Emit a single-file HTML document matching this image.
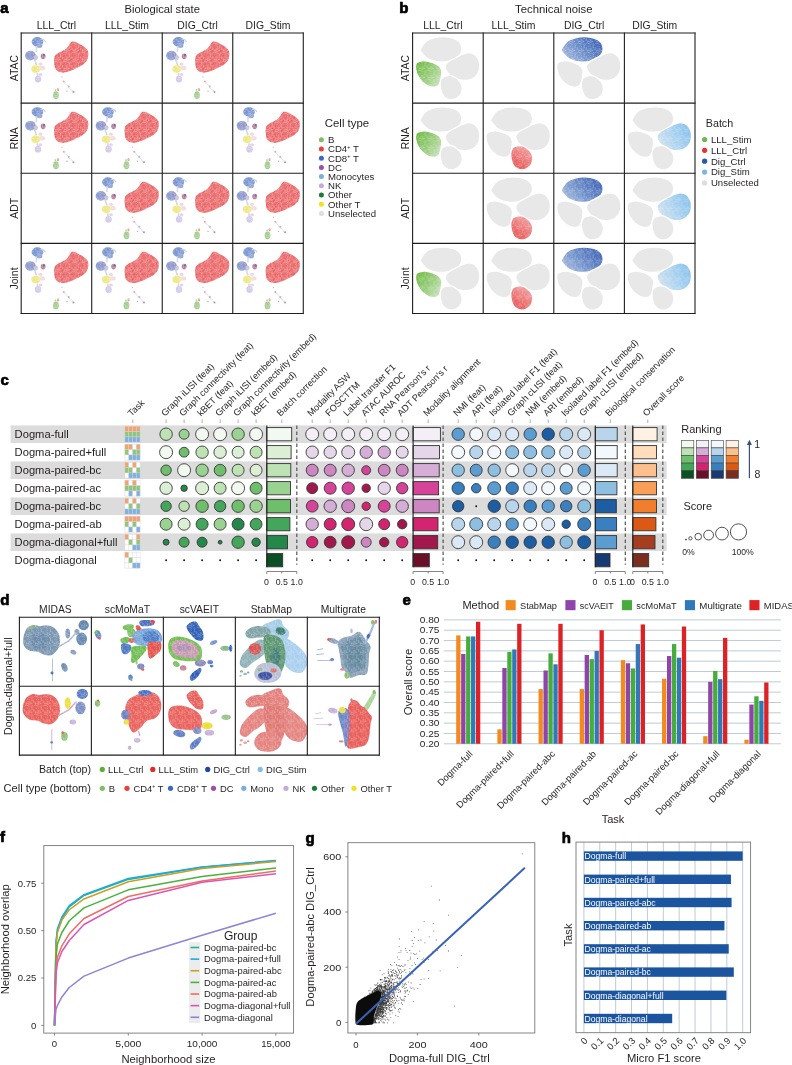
<!DOCTYPE html>
<html><head><meta charset="utf-8"><title>Figure</title>
<style>
html,body{margin:0;padding:0;background:#fff;}
body{width:792px;height:1065px;overflow:hidden;}
svg{display:block;font-family:"Liberation Sans", Arial, sans-serif;}
</style></head>
<body>
<svg width="792" height="1065" viewBox="0 0 792 1065" fill="#231f20">
<defs>
<pattern id="speck" width="9" height="9" patternUnits="userSpaceOnUse"><g fill="#fff" fill-opacity="0.7"><rect x="5.61" y="6.68" width="0.55" height="0.55"/><rect x="7.16" y="8.48" width="0.55" height="0.55"/><rect x="6.66" y="8.30" width="0.55" height="0.55"/><rect x="0.26" y="4.19" width="0.55" height="0.55"/><rect x="8.49" y="5.84" width="0.55" height="0.55"/><rect x="8.11" y="1.02" width="0.55" height="0.55"/><rect x="4.22" y="2.22" width="0.55" height="0.55"/><rect x="4.89" y="5.17" width="0.55" height="0.55"/><rect x="0.12" y="1.95" width="0.55" height="0.55"/><rect x="2.52" y="8.25" width="0.55" height="0.55"/><rect x="6.89" y="1.44" width="0.55" height="0.55"/><rect x="7.17" y="1.25" width="0.55" height="0.55"/><rect x="5.56" y="1.14" width="0.55" height="0.55"/><rect x="0.02" y="7.84" width="0.55" height="0.55"/><rect x="1.89" y="1.94" width="0.55" height="0.55"/><rect x="8.84" y="7.85" width="0.55" height="0.55"/><rect x="2.60" y="8.65" width="0.55" height="0.55"/><rect x="4.85" y="6.10" width="0.55" height="0.55"/><rect x="1.84" y="8.47" width="0.55" height="0.55"/><rect x="6.22" y="8.70" width="0.55" height="0.55"/><rect x="8.04" y="2.69" width="0.55" height="0.55"/><rect x="3.25" y="1.49" width="0.55" height="0.55"/><rect x="1.31" y="0.59" width="0.55" height="0.55"/><rect x="2.71" y="5.43" width="0.55" height="0.55"/><rect x="0.03" y="6.10" width="0.55" height="0.55"/><rect x="3.04" y="2.79" width="0.55" height="0.55"/><rect x="7.37" y="4.33" width="0.55" height="0.55"/><rect x="2.84" y="4.33" width="0.55" height="0.55"/><rect x="6.34" y="0.51" width="0.55" height="0.55"/><rect x="8.78" y="0.21" width="0.55" height="0.55"/><rect x="6.75" y="7.60" width="0.55" height="0.55"/><rect x="0.16" y="7.09" width="0.55" height="0.55"/><rect x="3.30" y="5.21" width="0.55" height="0.55"/><rect x="0.08" y="0.42" width="0.55" height="0.55"/><rect x="1.63" y="8.60" width="0.55" height="0.55"/><rect x="1.77" y="6.80" width="0.55" height="0.55"/><rect x="8.37" y="8.48" width="0.55" height="0.55"/><rect x="3.10" y="3.19" width="0.55" height="0.55"/><rect x="4.72" y="6.98" width="0.55" height="0.55"/><rect x="0.97" y="6.74" width="0.55" height="0.55"/></g></pattern>
<linearGradient id="gL" x1="0" y1="0.2" x2="1" y2="0.9"><stop offset="0" stop-color="#6fbb44"/><stop offset="0.5" stop-color="#98cc7a"/><stop offset="1" stop-color="#cfe5c4"/></linearGradient>
<linearGradient id="gT" x1="1" y1="0.2" x2="0" y2="0.8"><stop offset="0" stop-color="#3a5fb4"/><stop offset="0.5" stop-color="#6a8cc8"/><stop offset="1" stop-color="#a9bde0"/></linearGradient>
<linearGradient id="gR" x1="1" y1="0.3" x2="0" y2="0.7"><stop offset="0" stop-color="#86c0ec"/><stop offset="0.5" stop-color="#aad2f0"/><stop offset="1" stop-color="#d2e2ee"/></linearGradient>
<linearGradient id="gB" x1="0.2" y1="1" x2="0.8" y2="0"><stop offset="0" stop-color="#e64848"/><stop offset="0.5" stop-color="#ec7a7a"/><stop offset="1" stop-color="#f0a4a4"/></linearGradient>
<pattern id="reddots" width="8" height="8" patternUnits="userSpaceOnUse"><g fill="#e23c44" fill-opacity="0.8"><rect x="3.70" y="2.99" width="0.8" height="0.8"/><rect x="1.11" y="6.93" width="0.8" height="0.8"/><rect x="0.05" y="4.02" width="0.8" height="0.8"/><rect x="7.19" y="0.65" width="0.8" height="0.8"/><rect x="4.43" y="4.93" width="0.8" height="0.8"/><rect x="0.33" y="3.03" width="0.8" height="0.8"/><rect x="5.63" y="3.62" width="0.8" height="0.8"/><rect x="5.80" y="1.26" width="0.8" height="0.8"/><rect x="1.90" y="0.89" width="0.8" height="0.8"/><rect x="4.05" y="7.39" width="0.8" height="0.8"/><rect x="4.72" y="6.19" width="0.8" height="0.8"/><rect x="3.07" y="5.97" width="0.8" height="0.8"/><rect x="0.81" y="2.33" width="0.8" height="0.8"/><rect x="5.39" y="5.81" width="0.8" height="0.8"/><rect x="3.37" y="0.70" width="0.8" height="0.8"/><rect x="2.13" y="1.68" width="0.8" height="0.8"/><rect x="2.25" y="6.48" width="0.8" height="0.8"/><rect x="1.60" y="7.09" width="0.8" height="0.8"/><rect x="7.03" y="0.44" width="0.8" height="0.8"/><rect x="3.03" y="3.93" width="0.8" height="0.8"/><rect x="0.19" y="3.40" width="0.8" height="0.8"/><rect x="7.25" y="0.90" width="0.8" height="0.8"/></g></pattern>
<pattern id="speck2" width="9" height="9" patternUnits="userSpaceOnUse"><g fill="#fff" fill-opacity="0.6"><rect x="7.18" y="7.74" width="0.7" height="0.7"/><rect x="0.33" y="8.51" width="0.7" height="0.7"/><rect x="0.82" y="3.07" width="0.7" height="0.7"/><rect x="5.50" y="8.26" width="0.7" height="0.7"/><rect x="3.06" y="8.32" width="0.7" height="0.7"/><rect x="4.91" y="2.81" width="0.7" height="0.7"/><rect x="2.85" y="1.60" width="0.7" height="0.7"/><rect x="0.70" y="1.34" width="0.7" height="0.7"/><rect x="6.20" y="8.97" width="0.7" height="0.7"/><rect x="1.45" y="0.44" width="0.7" height="0.7"/><rect x="8.88" y="4.80" width="0.7" height="0.7"/><rect x="3.65" y="2.14" width="0.7" height="0.7"/></g></pattern>
<symbol id="umapA" viewBox="0 0 70 70" width="70" height="70">
<path d="M47.00,9.00 C47.67,8.42 50.50,7.42 52.00,7.50 C53.50,7.58 56.00,8.92 56.00,9.50 C56.00,10.08 53.33,10.75 52.00,11.00 C50.67,11.25 48.83,11.33 48.00,11.00 C47.17,10.67 46.33,9.58 47.00,9.00 Z" fill="#f2f2f2"/>
<path d="M33.00,24.00 C33.53,22.42 34.67,21.50 36.00,20.50 C37.33,19.50 39.42,18.92 41.00,18.00 C42.58,17.08 44.17,16.33 45.50,15.00 C46.83,13.67 47.92,11.08 49.00,10.00 C50.08,8.92 50.83,8.50 52.00,8.50 C53.17,8.50 54.50,9.28 56.00,10.00 C57.50,10.72 59.42,11.72 61.00,12.80 C62.58,13.88 64.53,15.13 65.50,16.50 C66.47,17.87 66.80,19.25 66.80,21.00 C66.80,22.75 66.38,25.25 65.50,27.00 C64.62,28.75 63.25,30.17 61.50,31.50 C59.75,32.83 57.17,33.92 55.00,35.00 C52.83,36.08 50.67,37.25 48.50,38.00 C46.33,38.75 43.92,39.42 42.00,39.50 C40.08,39.58 38.37,39.17 37.00,38.50 C35.63,37.83 34.50,36.92 33.80,35.50 C33.10,34.08 32.93,31.92 32.80,30.00 C32.67,28.08 32.47,25.58 33.00,24.00 Z" fill="#ed7878"/>
<path d="M33.00,24.00 C33.53,22.42 34.67,21.50 36.00,20.50 C37.33,19.50 39.42,18.92 41.00,18.00 C42.58,17.08 44.17,16.33 45.50,15.00 C46.83,13.67 47.92,11.08 49.00,10.00 C50.08,8.92 50.83,8.50 52.00,8.50 C53.17,8.50 54.50,9.28 56.00,10.00 C57.50,10.72 59.42,11.72 61.00,12.80 C62.58,13.88 64.53,15.13 65.50,16.50 C66.47,17.87 66.80,19.25 66.80,21.00 C66.80,22.75 66.38,25.25 65.50,27.00 C64.62,28.75 63.25,30.17 61.50,31.50 C59.75,32.83 57.17,33.92 55.00,35.00 C52.83,36.08 50.67,37.25 48.50,38.00 C46.33,38.75 43.92,39.42 42.00,39.50 C40.08,39.58 38.37,39.17 37.00,38.50 C35.63,37.83 34.50,36.92 33.80,35.50 C33.10,34.08 32.93,31.92 32.80,30.00 C32.67,28.08 32.47,25.58 33.00,24.00 Z" fill="url(#reddots)"/>
<ellipse cx="16" cy="8.8" rx="5.8" ry="4.8" fill="#7a96d2"/>
<ellipse cx="18" cy="12.5" rx="3" ry="2.5" fill="#95a8d6"/>
<path d="M19,6 Q23,6 24,9" stroke="#c2cce6" stroke-width="1.2" fill="none"/>
<path d="M15,13 L15,19 M13,26 L15,32 M16,40 L16,43" stroke="#d2d6e6" stroke-width="1.6" fill="none"/>
<ellipse cx="9" cy="22.6" rx="5.3" ry="4.8" fill="#8c9dd2"/>
<ellipse cx="11.5" cy="22" rx="2.5" ry="2" fill="#a090c0"/>
<ellipse cx="14.5" cy="24.5" rx="2" ry="2.5" fill="#c0c6e0"/>
<ellipse cx="21.7" cy="23.2" rx="2.4" ry="2.8" fill="#c07e94"/>
<ellipse cx="22.5" cy="22" rx="1.1" ry="1.1" fill="#5572c0"/>
<ellipse cx="14.3" cy="36" rx="4.4" ry="3.7" fill="#efe880"/>
<ellipse cx="20.5" cy="35" rx="3.2" ry="2.2" fill="#f3dcda"/>
<ellipse cx="19" cy="31" rx="2" ry="1.6" fill="#ecd8de"/>
<ellipse cx="16.6" cy="46" rx="3.2" ry="3.4" fill="#d4c8e8"/>
<ellipse cx="19" cy="41.5" rx="2" ry="1.5" fill="#dcd5ec"/>
<ellipse cx="34.5" cy="62" rx="2.9" ry="3.9" fill="#a2cd8e"/>
<ellipse cx="36.5" cy="56.5" rx="1.1" ry="1.6" fill="#e8a08a"/>
<ellipse cx="34" cy="57" rx="0.8" ry="1.2" fill="#c0d0b0"/>
<path d="M42,48 L44.5,51 L48,55 L52,59" stroke="#e4d0dc" stroke-width="1.3" fill="none" stroke-dasharray="1,0.8"/>
<circle cx="42.3" cy="48.5" r="1" fill="#e8a8b0"/>
<circle cx="47.3" cy="53.5" r="1" fill="#90aad2"/>
<circle cx="52" cy="59" r="1" fill="#b488bc"/>
<circle cx="45.5" cy="58" r="0.7" fill="#8cbc94"/>
<circle cx="40.5" cy="44" r="0.7" fill="#e4b8c0"/>
<rect x="0" y="0" width="70" height="70" fill="url(#speck)"/>
</symbol>
<path id="bT" d="M7.40,17.20 C7.36,16.54 10.55,10.80 13.00,8.70 C15.45,6.60 19.07,5.43 22.10,4.60 C25.13,3.77 28.17,3.62 31.20,3.70 C34.23,3.78 37.72,4.27 40.30,5.10 C42.88,5.93 45.22,7.20 46.70,8.70 C48.18,10.20 48.90,12.28 49.20,14.10 C49.50,15.92 49.22,17.93 48.50,19.60 C47.78,21.27 46.72,22.73 44.90,24.10 C43.08,25.47 40.18,26.97 37.60,27.80 C35.02,28.63 32.13,29.03 29.40,29.10 C26.67,29.17 23.78,28.87 21.20,28.20 C18.62,27.53 16.20,26.93 13.90,25.10 C11.60,23.27 7.44,17.86 7.40,17.20 Z"/>
<path id="bR" d="M32.50,33.40 C32.59,32.31 34.20,30.08 35.80,28.70 C37.40,27.32 39.83,26.32 42.10,25.10 C44.37,23.88 47.12,22.32 49.40,21.40 C51.68,20.48 53.68,19.60 55.80,19.60 C57.92,19.60 60.37,20.18 62.10,21.40 C63.83,22.62 65.37,24.93 66.20,26.90 C67.03,28.87 67.17,31.08 67.10,33.20 C67.03,35.32 66.78,37.62 65.80,39.60 C64.82,41.58 63.02,43.82 61.20,45.10 C59.38,46.38 57.17,47.00 54.90,47.30 C52.63,47.60 50.03,47.43 47.60,46.90 C45.17,46.37 42.42,45.32 40.30,44.10 C38.18,42.88 36.20,41.38 34.90,39.60 C33.60,37.82 32.41,34.49 32.50,33.40 Z"/>
<path id="bL" d="M3.50,30.50 C4.27,29.20 6.02,28.65 7.60,28.20 C9.18,27.75 10.88,27.57 13.00,27.80 C15.12,28.03 18.02,28.70 20.30,29.60 C22.58,30.50 25.22,31.83 26.70,33.20 C28.18,34.57 28.90,35.82 29.20,37.80 C29.50,39.78 28.92,42.83 28.50,45.10 C28.08,47.37 27.73,49.88 26.70,51.40 C25.67,52.92 23.57,53.99 22.30,54.20 C21.03,54.41 17.95,54.12 15.80,53.20 C13.65,52.28 11.22,50.52 9.40,48.70 C7.58,46.88 5.97,44.42 4.90,42.30 C3.83,40.18 3.23,37.97 3.00,36.00 C2.77,34.03 2.73,31.80 3.50,30.50 Z"/>
<path id="bB" d="M29.60,44.80 C30.34,44.01 32.27,43.13 33.90,42.80 C35.53,42.47 37.57,42.27 39.40,42.80 C41.23,43.33 43.32,44.57 44.90,46.00 C46.48,47.43 48.15,49.43 48.90,51.40 C49.65,53.37 49.77,55.83 49.40,57.80 C49.03,59.77 48.07,61.77 46.70,63.20 C45.33,64.63 43.17,65.93 41.20,66.40 C39.23,66.87 36.72,66.68 34.90,66.00 C33.08,65.32 31.45,63.97 30.30,62.30 C29.15,60.63 28.45,58.12 28.00,56.00 C27.55,53.88 27.33,51.47 27.60,49.60 C27.87,47.73 28.87,45.59 29.60,44.80 Z"/>
</defs>
<text x="0.30" y="13.10" font-size="15" font-weight="bold" fill="#000" stroke="#000" stroke-width="0.7">a</text>
<text x="162.20" y="13.10" font-size="10.4" text-anchor="middle" textLength="75.60" lengthAdjust="spacingAndGlyphs" >Biological state</text>
<text x="399.30" y="12.70" font-size="15" font-weight="bold" fill="#000" stroke="#000" stroke-width="0.7">b</text>
<text x="553.80" y="13.10" font-size="10.4" text-anchor="middle" textLength="77.50" lengthAdjust="spacingAndGlyphs" >Technical noise</text>
<text x="56.46" y="29.20" font-size="10.4" text-anchor="middle" >LLL_Ctrl</text>
<text x="442.90" y="29.20" font-size="10.4" text-anchor="middle" >LLL_Ctrl</text>
<text x="126.98" y="29.20" font-size="10.4" text-anchor="middle" >LLL_Stim</text>
<text x="513.50" y="29.20" font-size="10.4" text-anchor="middle" >LLL_Stim</text>
<text x="197.50" y="29.20" font-size="10.4" text-anchor="middle" >DIG_Ctrl</text>
<text x="584.10" y="29.20" font-size="10.4" text-anchor="middle" >DIG_Ctrl</text>
<text x="268.02" y="29.20" font-size="10.4" text-anchor="middle" >DIG_Stim</text>
<text x="654.70" y="29.20" font-size="10.4" text-anchor="middle" >DIG_Stim</text>
<text x="17.60" y="68.06" font-size="10.4" text-anchor="middle" transform="rotate(-90 17.60 68.06)" >ATAC</text>
<text x="409.20" y="68.06" font-size="10.4" text-anchor="middle" transform="rotate(-90 409.20 68.06)" >ATAC</text>
<text x="17.60" y="138.18" font-size="10.4" text-anchor="middle" transform="rotate(-90 17.60 138.18)" >RNA</text>
<text x="409.20" y="138.18" font-size="10.4" text-anchor="middle" transform="rotate(-90 409.20 138.18)" >RNA</text>
<text x="17.60" y="208.30" font-size="10.4" text-anchor="middle" transform="rotate(-90 17.60 208.30)" >ADT</text>
<text x="409.20" y="208.30" font-size="10.4" text-anchor="middle" transform="rotate(-90 409.20 208.30)" >ADT</text>
<text x="17.60" y="278.42" font-size="10.4" text-anchor="middle" transform="rotate(-90 17.60 278.42)" >Joint</text>
<text x="409.20" y="278.42" font-size="10.4" text-anchor="middle" transform="rotate(-90 409.20 278.42)" >Joint</text>
<use href="#umapA" x="21.20" y="33.00" width="70.52" height="70.12"/>
<use href="#umapA" x="162.24" y="33.00" width="70.52" height="70.12"/>
<use href="#umapA" x="21.20" y="103.12" width="70.52" height="70.12"/>
<use href="#umapA" x="91.72" y="103.12" width="70.52" height="70.12"/>
<use href="#umapA" x="232.76" y="103.12" width="70.52" height="70.12"/>
<use href="#umapA" x="91.72" y="173.24" width="70.52" height="70.12"/>
<use href="#umapA" x="162.24" y="173.24" width="70.52" height="70.12"/>
<use href="#umapA" x="232.76" y="173.24" width="70.52" height="70.12"/>
<use href="#umapA" x="21.20" y="243.36" width="70.52" height="70.12"/>
<use href="#umapA" x="91.72" y="243.36" width="70.52" height="70.12"/>
<use href="#umapA" x="162.24" y="243.36" width="70.52" height="70.12"/>
<use href="#umapA" x="232.76" y="243.36" width="70.52" height="70.12"/>
<g transform="translate(412.60,33.00)">
<use href="#bT" fill="#e8e8e8" stroke="#fff" stroke-width="1.3"/>
<use href="#bR" fill="#e8e8e8" stroke="#fff" stroke-width="1.3"/>
<use href="#bL" fill="url(#gL)" stroke="#fff" stroke-width="1.3"/>
<use href="#bL" fill="url(#speck)"/>
<use href="#bB" fill="#e8e8e8" stroke="#fff" stroke-width="1.3"/>
</g>
<g transform="translate(553.80,33.00)">
<use href="#bT" fill="url(#gT)" stroke="#fff" stroke-width="1.3"/>
<use href="#bT" fill="url(#speck)"/>
<use href="#bR" fill="#e8e8e8" stroke="#fff" stroke-width="1.3"/>
<use href="#bL" fill="#e8e8e8" stroke="#fff" stroke-width="1.3"/>
<use href="#bB" fill="#e8e8e8" stroke="#fff" stroke-width="1.3"/>
</g>
<g transform="translate(412.60,103.12)">
<use href="#bT" fill="#e8e8e8" stroke="#fff" stroke-width="1.3"/>
<use href="#bR" fill="#e8e8e8" stroke="#fff" stroke-width="1.3"/>
<use href="#bL" fill="url(#gL)" stroke="#fff" stroke-width="1.3"/>
<use href="#bL" fill="url(#speck)"/>
<use href="#bB" fill="#e8e8e8" stroke="#fff" stroke-width="1.3"/>
</g>
<g transform="translate(483.20,103.12)">
<use href="#bT" fill="#e8e8e8" stroke="#fff" stroke-width="1.3"/>
<use href="#bR" fill="#e8e8e8" stroke="#fff" stroke-width="1.3"/>
<use href="#bL" fill="#e8e8e8" stroke="#fff" stroke-width="1.3"/>
<use href="#bB" fill="url(#gB)" stroke="#fff" stroke-width="1.3"/>
<use href="#bB" fill="url(#speck)"/>
</g>
<g transform="translate(624.40,103.12)">
<use href="#bT" fill="#e8e8e8" stroke="#fff" stroke-width="1.3"/>
<use href="#bR" fill="url(#gR)" stroke="#fff" stroke-width="1.3"/>
<use href="#bR" fill="url(#speck)"/>
<use href="#bL" fill="#e8e8e8" stroke="#fff" stroke-width="1.3"/>
<use href="#bB" fill="#e8e8e8" stroke="#fff" stroke-width="1.3"/>
</g>
<g transform="translate(483.20,173.24)">
<use href="#bT" fill="#e8e8e8" stroke="#fff" stroke-width="1.3"/>
<use href="#bR" fill="#e8e8e8" stroke="#fff" stroke-width="1.3"/>
<use href="#bL" fill="#e8e8e8" stroke="#fff" stroke-width="1.3"/>
<use href="#bB" fill="url(#gB)" stroke="#fff" stroke-width="1.3"/>
<use href="#bB" fill="url(#speck)"/>
</g>
<g transform="translate(553.80,173.24)">
<use href="#bT" fill="url(#gT)" stroke="#fff" stroke-width="1.3"/>
<use href="#bT" fill="url(#speck)"/>
<use href="#bR" fill="#e8e8e8" stroke="#fff" stroke-width="1.3"/>
<use href="#bL" fill="#e8e8e8" stroke="#fff" stroke-width="1.3"/>
<use href="#bB" fill="#e8e8e8" stroke="#fff" stroke-width="1.3"/>
</g>
<g transform="translate(624.40,173.24)">
<use href="#bT" fill="#e8e8e8" stroke="#fff" stroke-width="1.3"/>
<use href="#bR" fill="url(#gR)" stroke="#fff" stroke-width="1.3"/>
<use href="#bR" fill="url(#speck)"/>
<use href="#bL" fill="#e8e8e8" stroke="#fff" stroke-width="1.3"/>
<use href="#bB" fill="#e8e8e8" stroke="#fff" stroke-width="1.3"/>
</g>
<g transform="translate(412.60,243.36)">
<use href="#bT" fill="#e8e8e8" stroke="#fff" stroke-width="1.3"/>
<use href="#bR" fill="#e8e8e8" stroke="#fff" stroke-width="1.3"/>
<use href="#bL" fill="url(#gL)" stroke="#fff" stroke-width="1.3"/>
<use href="#bL" fill="url(#speck)"/>
<use href="#bB" fill="#e8e8e8" stroke="#fff" stroke-width="1.3"/>
</g>
<g transform="translate(483.20,243.36)">
<use href="#bT" fill="#e8e8e8" stroke="#fff" stroke-width="1.3"/>
<use href="#bR" fill="#e8e8e8" stroke="#fff" stroke-width="1.3"/>
<use href="#bL" fill="#e8e8e8" stroke="#fff" stroke-width="1.3"/>
<use href="#bB" fill="url(#gB)" stroke="#fff" stroke-width="1.3"/>
<use href="#bB" fill="url(#speck)"/>
</g>
<g transform="translate(553.80,243.36)">
<use href="#bT" fill="url(#gT)" stroke="#fff" stroke-width="1.3"/>
<use href="#bT" fill="url(#speck)"/>
<use href="#bR" fill="#e8e8e8" stroke="#fff" stroke-width="1.3"/>
<use href="#bL" fill="#e8e8e8" stroke="#fff" stroke-width="1.3"/>
<use href="#bB" fill="#e8e8e8" stroke="#fff" stroke-width="1.3"/>
</g>
<g transform="translate(624.40,243.36)">
<use href="#bT" fill="#e8e8e8" stroke="#fff" stroke-width="1.3"/>
<use href="#bR" fill="url(#gR)" stroke="#fff" stroke-width="1.3"/>
<use href="#bR" fill="url(#speck)"/>
<use href="#bL" fill="#e8e8e8" stroke="#fff" stroke-width="1.3"/>
<use href="#bB" fill="#e8e8e8" stroke="#fff" stroke-width="1.3"/>
</g>
<line x1="21.20" y1="32.50" x2="21.20" y2="313.98" stroke="#1e1e1e" stroke-width="1.1" />
<line x1="91.72" y1="32.50" x2="91.72" y2="313.98" stroke="#1e1e1e" stroke-width="1.1" />
<line x1="162.24" y1="32.50" x2="162.24" y2="313.98" stroke="#1e1e1e" stroke-width="1.1" />
<line x1="232.76" y1="32.50" x2="232.76" y2="313.98" stroke="#1e1e1e" stroke-width="1.1" />
<line x1="303.28" y1="32.50" x2="303.28" y2="313.98" stroke="#1e1e1e" stroke-width="1.1" />
<line x1="20.70" y1="33.00" x2="303.78" y2="33.00" stroke="#1e1e1e" stroke-width="1.1" />
<line x1="20.70" y1="103.12" x2="303.78" y2="103.12" stroke="#1e1e1e" stroke-width="1.1" />
<line x1="20.70" y1="173.24" x2="303.78" y2="173.24" stroke="#1e1e1e" stroke-width="1.1" />
<line x1="20.70" y1="243.36" x2="303.78" y2="243.36" stroke="#1e1e1e" stroke-width="1.1" />
<line x1="20.70" y1="313.48" x2="303.78" y2="313.48" stroke="#1e1e1e" stroke-width="1.1" />
<line x1="412.60" y1="32.50" x2="412.60" y2="313.98" stroke="#1e1e1e" stroke-width="1.1" />
<line x1="483.20" y1="32.50" x2="483.20" y2="313.98" stroke="#1e1e1e" stroke-width="1.1" />
<line x1="553.80" y1="32.50" x2="553.80" y2="313.98" stroke="#1e1e1e" stroke-width="1.1" />
<line x1="624.40" y1="32.50" x2="624.40" y2="313.98" stroke="#1e1e1e" stroke-width="1.1" />
<line x1="695.00" y1="32.50" x2="695.00" y2="313.98" stroke="#1e1e1e" stroke-width="1.1" />
<line x1="412.10" y1="33.00" x2="695.50" y2="33.00" stroke="#1e1e1e" stroke-width="1.1" />
<line x1="412.10" y1="103.12" x2="695.50" y2="103.12" stroke="#1e1e1e" stroke-width="1.1" />
<line x1="412.10" y1="173.24" x2="695.50" y2="173.24" stroke="#1e1e1e" stroke-width="1.1" />
<line x1="412.10" y1="243.36" x2="695.50" y2="243.36" stroke="#1e1e1e" stroke-width="1.1" />
<line x1="412.10" y1="313.48" x2="695.50" y2="313.48" stroke="#1e1e1e" stroke-width="1.1" />
<text x="324.80" y="127.00" font-size="11" textLength="44.30" lengthAdjust="spacingAndGlyphs" >Cell type</text>
<circle cx="321.40" cy="139.80" r="2.50" fill="#7fbf63" />
<text x="328.00" y="143.20" font-size="9.6" >B</text>
<circle cx="321.40" cy="149.00" r="2.50" fill="#e8403c" />
<text x="328" y="152.40" font-size="9.6">CD4<tspan dy="-3.6" font-size="5.5">+</tspan><tspan dy="3.6"> T</tspan></text>
<circle cx="321.40" cy="158.20" r="2.50" fill="#3d67c2" />
<text x="328" y="161.60" font-size="9.6">CD8<tspan dy="-3.6" font-size="5.5">+</tspan><tspan dy="3.6"> T</tspan></text>
<circle cx="321.40" cy="167.40" r="2.50" fill="#a24ca9" />
<text x="328.00" y="170.80" font-size="9.6" >DC</text>
<circle cx="321.40" cy="176.60" r="2.50" fill="#78aee2" />
<text x="328.00" y="180.00" font-size="9.6" >Monocytes</text>
<circle cx="321.40" cy="185.80" r="2.50" fill="#c3abdb" />
<text x="328.00" y="189.20" font-size="9.6" >NK</text>
<circle cx="321.40" cy="195.00" r="2.50" fill="#1f7a3a" />
<text x="328.00" y="198.40" font-size="9.6" >Other</text>
<circle cx="321.40" cy="204.20" r="2.50" fill="#f2e21e" />
<text x="328.00" y="207.60" font-size="9.6" >Other T</text>
<circle cx="321.40" cy="213.40" r="2.50" fill="#dedede" />
<text x="328.00" y="216.80" font-size="9.6" >Unselected</text>
<text x="705.80" y="126.90" font-size="11" textLength="27.40" lengthAdjust="spacingAndGlyphs" >Batch</text>
<circle cx="704.60" cy="139.50" r="2.60" fill="#6db84a" />
<text x="710.90" y="142.90" font-size="9.6" >LLL_Stim</text>
<circle cx="704.60" cy="150.35" r="2.60" fill="#e5332f" />
<text x="710.90" y="153.75" font-size="9.6" >LLL_Ctrl</text>
<circle cx="704.60" cy="161.20" r="2.60" fill="#2d58a9" />
<text x="710.90" y="164.60" font-size="9.6" >Dig_Ctrl</text>
<circle cx="704.60" cy="172.05" r="2.60" fill="#7fb5e5" />
<text x="710.90" y="175.45" font-size="9.6" >Dig_Stim</text>
<circle cx="704.60" cy="182.90" r="2.60" fill="#dedede" />
<text x="710.90" y="186.30" font-size="9.6" >Unselected</text>
<text x="0.50" y="384.60" font-size="15" font-weight="bold" fill="#000" stroke="#000" stroke-width="0.7">c</text>
<rect x="10.60" y="425.40" width="656.00" height="17.60" fill="#dcdcdc" />
<rect x="10.60" y="461.40" width="656.00" height="17.60" fill="#dcdcdc" />
<rect x="10.60" y="497.40" width="656.00" height="17.60" fill="#dcdcdc" />
<rect x="10.60" y="533.40" width="656.00" height="17.60" fill="#dcdcdc" />
<text x="14.60" y="438.10" font-size="11.2" >Dogma-full</text>
<text x="14.60" y="456.10" font-size="11.2" >Dogma-paired+full</text>
<text x="14.60" y="474.10" font-size="11.2" >Dogma-paired-bc</text>
<text x="14.60" y="492.10" font-size="11.2" >Dogma-paired-ac</text>
<text x="14.60" y="510.10" font-size="11.2" >Dogma-paired-bc</text>
<text x="14.60" y="528.10" font-size="11.2" >Dogma-paired-ab</text>
<text x="14.60" y="546.10" font-size="11.2" >Dogma-diagonal+full</text>
<text x="14.60" y="564.10" font-size="11.2" >Dogma-diagonal</text>
<rect x="124.80" y="426.20" width="15.32" height="15.99" fill="#ffffff" />
<rect x="124.80" y="426.20" width="3.83" height="5.33" fill="#f0a273" />
<rect x="128.63" y="426.20" width="3.83" height="5.33" fill="#f0a273" />
<rect x="132.46" y="426.20" width="3.83" height="5.33" fill="#f0a273" />
<rect x="136.29" y="426.20" width="3.83" height="5.33" fill="#f0a273" />
<rect x="124.80" y="431.53" width="3.83" height="5.33" fill="#8fc67c" />
<rect x="128.63" y="431.53" width="3.83" height="5.33" fill="#8fc67c" />
<rect x="132.46" y="431.53" width="3.83" height="5.33" fill="#8fc67c" />
<rect x="136.29" y="431.53" width="3.83" height="5.33" fill="#8fc67c" />
<rect x="124.80" y="436.86" width="3.83" height="5.33" fill="#7eb0e0" />
<rect x="128.63" y="436.86" width="3.83" height="5.33" fill="#7eb0e0" />
<rect x="132.46" y="436.86" width="3.83" height="5.33" fill="#7eb0e0" />
<rect x="136.29" y="436.86" width="3.83" height="5.33" fill="#7eb0e0" />
<line x1="124.80" y1="426.20" x2="124.80" y2="442.19" stroke="#d4d4d4" stroke-width="0.45" />
<line x1="128.63" y1="426.20" x2="128.63" y2="442.19" stroke="#d4d4d4" stroke-width="0.45" />
<line x1="132.46" y1="426.20" x2="132.46" y2="442.19" stroke="#d4d4d4" stroke-width="0.45" />
<line x1="136.29" y1="426.20" x2="136.29" y2="442.19" stroke="#d4d4d4" stroke-width="0.45" />
<line x1="140.12" y1="426.20" x2="140.12" y2="442.19" stroke="#d4d4d4" stroke-width="0.45" />
<line x1="124.80" y1="426.20" x2="140.12" y2="426.20" stroke="#d4d4d4" stroke-width="0.45" />
<line x1="124.80" y1="431.53" x2="140.12" y2="431.53" stroke="#d4d4d4" stroke-width="0.45" />
<line x1="124.80" y1="436.86" x2="140.12" y2="436.86" stroke="#d4d4d4" stroke-width="0.45" />
<line x1="124.80" y1="442.19" x2="140.12" y2="442.19" stroke="#d4d4d4" stroke-width="0.45" />
<rect x="124.80" y="444.20" width="15.32" height="15.99" fill="#ffffff" />
<rect x="124.80" y="444.20" width="3.83" height="5.33" fill="#f0a273" />
<rect x="128.63" y="444.20" width="3.83" height="5.33" fill="#f0a273" />
<rect x="136.29" y="444.20" width="3.83" height="5.33" fill="#f0a273" />
<rect x="124.80" y="449.53" width="3.83" height="5.33" fill="#8fc67c" />
<rect x="132.46" y="449.53" width="3.83" height="5.33" fill="#8fc67c" />
<rect x="136.29" y="449.53" width="3.83" height="5.33" fill="#8fc67c" />
<rect x="128.63" y="454.86" width="3.83" height="5.33" fill="#7eb0e0" />
<rect x="132.46" y="454.86" width="3.83" height="5.33" fill="#7eb0e0" />
<rect x="136.29" y="454.86" width="3.83" height="5.33" fill="#7eb0e0" />
<line x1="124.80" y1="444.20" x2="124.80" y2="460.19" stroke="#d4d4d4" stroke-width="0.45" />
<line x1="128.63" y1="444.20" x2="128.63" y2="460.19" stroke="#d4d4d4" stroke-width="0.45" />
<line x1="132.46" y1="444.20" x2="132.46" y2="460.19" stroke="#d4d4d4" stroke-width="0.45" />
<line x1="136.29" y1="444.20" x2="136.29" y2="460.19" stroke="#d4d4d4" stroke-width="0.45" />
<line x1="140.12" y1="444.20" x2="140.12" y2="460.19" stroke="#d4d4d4" stroke-width="0.45" />
<line x1="124.80" y1="444.20" x2="140.12" y2="444.20" stroke="#d4d4d4" stroke-width="0.45" />
<line x1="124.80" y1="449.53" x2="140.12" y2="449.53" stroke="#d4d4d4" stroke-width="0.45" />
<line x1="124.80" y1="454.86" x2="140.12" y2="454.86" stroke="#d4d4d4" stroke-width="0.45" />
<line x1="124.80" y1="460.19" x2="140.12" y2="460.19" stroke="#d4d4d4" stroke-width="0.45" />
<rect x="124.80" y="462.20" width="15.32" height="15.99" fill="#ffffff" />
<rect x="124.80" y="462.20" width="3.83" height="5.33" fill="#f0a273" />
<rect x="132.46" y="462.20" width="3.83" height="5.33" fill="#f0a273" />
<rect x="124.80" y="467.53" width="3.83" height="5.33" fill="#8fc67c" />
<rect x="128.63" y="467.53" width="3.83" height="5.33" fill="#8fc67c" />
<rect x="136.29" y="467.53" width="3.83" height="5.33" fill="#8fc67c" />
<rect x="128.63" y="472.86" width="3.83" height="5.33" fill="#7eb0e0" />
<rect x="132.46" y="472.86" width="3.83" height="5.33" fill="#7eb0e0" />
<rect x="136.29" y="472.86" width="3.83" height="5.33" fill="#7eb0e0" />
<line x1="124.80" y1="462.20" x2="124.80" y2="478.19" stroke="#d4d4d4" stroke-width="0.45" />
<line x1="128.63" y1="462.20" x2="128.63" y2="478.19" stroke="#d4d4d4" stroke-width="0.45" />
<line x1="132.46" y1="462.20" x2="132.46" y2="478.19" stroke="#d4d4d4" stroke-width="0.45" />
<line x1="136.29" y1="462.20" x2="136.29" y2="478.19" stroke="#d4d4d4" stroke-width="0.45" />
<line x1="140.12" y1="462.20" x2="140.12" y2="478.19" stroke="#d4d4d4" stroke-width="0.45" />
<line x1="124.80" y1="462.20" x2="140.12" y2="462.20" stroke="#d4d4d4" stroke-width="0.45" />
<line x1="124.80" y1="467.53" x2="140.12" y2="467.53" stroke="#d4d4d4" stroke-width="0.45" />
<line x1="124.80" y1="472.86" x2="140.12" y2="472.86" stroke="#d4d4d4" stroke-width="0.45" />
<line x1="124.80" y1="478.19" x2="140.12" y2="478.19" stroke="#d4d4d4" stroke-width="0.45" />
<rect x="124.80" y="480.20" width="15.32" height="15.99" fill="#ffffff" />
<rect x="124.80" y="480.20" width="3.83" height="5.33" fill="#f0a273" />
<rect x="132.46" y="480.20" width="3.83" height="5.33" fill="#f0a273" />
<rect x="124.80" y="485.53" width="3.83" height="5.33" fill="#8fc67c" />
<rect x="128.63" y="485.53" width="3.83" height="5.33" fill="#8fc67c" />
<rect x="132.46" y="485.53" width="3.83" height="5.33" fill="#8fc67c" />
<rect x="136.29" y="485.53" width="3.83" height="5.33" fill="#8fc67c" />
<rect x="128.63" y="490.86" width="3.83" height="5.33" fill="#7eb0e0" />
<rect x="136.29" y="490.86" width="3.83" height="5.33" fill="#7eb0e0" />
<line x1="124.80" y1="480.20" x2="124.80" y2="496.19" stroke="#d4d4d4" stroke-width="0.45" />
<line x1="128.63" y1="480.20" x2="128.63" y2="496.19" stroke="#d4d4d4" stroke-width="0.45" />
<line x1="132.46" y1="480.20" x2="132.46" y2="496.19" stroke="#d4d4d4" stroke-width="0.45" />
<line x1="136.29" y1="480.20" x2="136.29" y2="496.19" stroke="#d4d4d4" stroke-width="0.45" />
<line x1="140.12" y1="480.20" x2="140.12" y2="496.19" stroke="#d4d4d4" stroke-width="0.45" />
<line x1="124.80" y1="480.20" x2="140.12" y2="480.20" stroke="#d4d4d4" stroke-width="0.45" />
<line x1="124.80" y1="485.53" x2="140.12" y2="485.53" stroke="#d4d4d4" stroke-width="0.45" />
<line x1="124.80" y1="490.86" x2="140.12" y2="490.86" stroke="#d4d4d4" stroke-width="0.45" />
<line x1="124.80" y1="496.19" x2="140.12" y2="496.19" stroke="#d4d4d4" stroke-width="0.45" />
<rect x="124.80" y="498.20" width="15.32" height="15.99" fill="#ffffff" />
<rect x="124.80" y="498.20" width="3.83" height="5.33" fill="#f0a273" />
<rect x="132.46" y="498.20" width="3.83" height="5.33" fill="#f0a273" />
<rect x="128.63" y="503.53" width="3.83" height="5.33" fill="#8fc67c" />
<rect x="136.29" y="503.53" width="3.83" height="5.33" fill="#8fc67c" />
<rect x="124.80" y="508.86" width="3.83" height="5.33" fill="#7eb0e0" />
<rect x="128.63" y="508.86" width="3.83" height="5.33" fill="#7eb0e0" />
<rect x="132.46" y="508.86" width="3.83" height="5.33" fill="#7eb0e0" />
<rect x="136.29" y="508.86" width="3.83" height="5.33" fill="#7eb0e0" />
<line x1="124.80" y1="498.20" x2="124.80" y2="514.19" stroke="#d4d4d4" stroke-width="0.45" />
<line x1="128.63" y1="498.20" x2="128.63" y2="514.19" stroke="#d4d4d4" stroke-width="0.45" />
<line x1="132.46" y1="498.20" x2="132.46" y2="514.19" stroke="#d4d4d4" stroke-width="0.45" />
<line x1="136.29" y1="498.20" x2="136.29" y2="514.19" stroke="#d4d4d4" stroke-width="0.45" />
<line x1="140.12" y1="498.20" x2="140.12" y2="514.19" stroke="#d4d4d4" stroke-width="0.45" />
<line x1="124.80" y1="498.20" x2="140.12" y2="498.20" stroke="#d4d4d4" stroke-width="0.45" />
<line x1="124.80" y1="503.53" x2="140.12" y2="503.53" stroke="#d4d4d4" stroke-width="0.45" />
<line x1="124.80" y1="508.86" x2="140.12" y2="508.86" stroke="#d4d4d4" stroke-width="0.45" />
<line x1="124.80" y1="514.19" x2="140.12" y2="514.19" stroke="#d4d4d4" stroke-width="0.45" />
<rect x="124.80" y="516.20" width="15.32" height="15.99" fill="#ffffff" />
<rect x="124.80" y="516.20" width="3.83" height="5.33" fill="#f0a273" />
<rect x="128.63" y="516.20" width="3.83" height="5.33" fill="#f0a273" />
<rect x="132.46" y="516.20" width="3.83" height="5.33" fill="#f0a273" />
<rect x="136.29" y="516.20" width="3.83" height="5.33" fill="#f0a273" />
<rect x="124.80" y="521.53" width="3.83" height="5.33" fill="#8fc67c" />
<rect x="132.46" y="521.53" width="3.83" height="5.33" fill="#8fc67c" />
<rect x="128.63" y="526.86" width="3.83" height="5.33" fill="#7eb0e0" />
<rect x="136.29" y="526.86" width="3.83" height="5.33" fill="#7eb0e0" />
<line x1="124.80" y1="516.20" x2="124.80" y2="532.19" stroke="#d4d4d4" stroke-width="0.45" />
<line x1="128.63" y1="516.20" x2="128.63" y2="532.19" stroke="#d4d4d4" stroke-width="0.45" />
<line x1="132.46" y1="516.20" x2="132.46" y2="532.19" stroke="#d4d4d4" stroke-width="0.45" />
<line x1="136.29" y1="516.20" x2="136.29" y2="532.19" stroke="#d4d4d4" stroke-width="0.45" />
<line x1="140.12" y1="516.20" x2="140.12" y2="532.19" stroke="#d4d4d4" stroke-width="0.45" />
<line x1="124.80" y1="516.20" x2="140.12" y2="516.20" stroke="#d4d4d4" stroke-width="0.45" />
<line x1="124.80" y1="521.53" x2="140.12" y2="521.53" stroke="#d4d4d4" stroke-width="0.45" />
<line x1="124.80" y1="526.86" x2="140.12" y2="526.86" stroke="#d4d4d4" stroke-width="0.45" />
<line x1="124.80" y1="532.19" x2="140.12" y2="532.19" stroke="#d4d4d4" stroke-width="0.45" />
<rect x="124.80" y="534.20" width="15.32" height="15.99" fill="#ffffff" />
<rect x="124.80" y="534.20" width="3.83" height="5.33" fill="#f0a273" />
<rect x="136.29" y="534.20" width="3.83" height="5.33" fill="#f0a273" />
<rect x="128.63" y="539.53" width="3.83" height="5.33" fill="#8fc67c" />
<rect x="136.29" y="539.53" width="3.83" height="5.33" fill="#8fc67c" />
<rect x="132.46" y="544.86" width="3.83" height="5.33" fill="#7eb0e0" />
<rect x="136.29" y="544.86" width="3.83" height="5.33" fill="#7eb0e0" />
<line x1="124.80" y1="534.20" x2="124.80" y2="550.19" stroke="#d4d4d4" stroke-width="0.45" />
<line x1="128.63" y1="534.20" x2="128.63" y2="550.19" stroke="#d4d4d4" stroke-width="0.45" />
<line x1="132.46" y1="534.20" x2="132.46" y2="550.19" stroke="#d4d4d4" stroke-width="0.45" />
<line x1="136.29" y1="534.20" x2="136.29" y2="550.19" stroke="#d4d4d4" stroke-width="0.45" />
<line x1="140.12" y1="534.20" x2="140.12" y2="550.19" stroke="#d4d4d4" stroke-width="0.45" />
<line x1="124.80" y1="534.20" x2="140.12" y2="534.20" stroke="#d4d4d4" stroke-width="0.45" />
<line x1="124.80" y1="539.53" x2="140.12" y2="539.53" stroke="#d4d4d4" stroke-width="0.45" />
<line x1="124.80" y1="544.86" x2="140.12" y2="544.86" stroke="#d4d4d4" stroke-width="0.45" />
<line x1="124.80" y1="550.19" x2="140.12" y2="550.19" stroke="#d4d4d4" stroke-width="0.45" />
<rect x="124.80" y="552.20" width="15.32" height="15.99" fill="#ffffff" />
<rect x="124.80" y="552.20" width="3.83" height="5.33" fill="#f0a273" />
<rect x="128.63" y="557.53" width="3.83" height="5.33" fill="#8fc67c" />
<rect x="132.46" y="562.86" width="3.83" height="5.33" fill="#7eb0e0" />
<rect x="136.29" y="562.86" width="3.83" height="5.33" fill="#7eb0e0" />
<line x1="124.80" y1="552.20" x2="124.80" y2="568.19" stroke="#d4d4d4" stroke-width="0.45" />
<line x1="128.63" y1="552.20" x2="128.63" y2="568.19" stroke="#d4d4d4" stroke-width="0.45" />
<line x1="132.46" y1="552.20" x2="132.46" y2="568.19" stroke="#d4d4d4" stroke-width="0.45" />
<line x1="136.29" y1="552.20" x2="136.29" y2="568.19" stroke="#d4d4d4" stroke-width="0.45" />
<line x1="140.12" y1="552.20" x2="140.12" y2="568.19" stroke="#d4d4d4" stroke-width="0.45" />
<line x1="124.80" y1="552.20" x2="140.12" y2="552.20" stroke="#d4d4d4" stroke-width="0.45" />
<line x1="124.80" y1="557.53" x2="140.12" y2="557.53" stroke="#d4d4d4" stroke-width="0.45" />
<line x1="124.80" y1="562.86" x2="140.12" y2="562.86" stroke="#d4d4d4" stroke-width="0.45" />
<line x1="124.80" y1="568.19" x2="140.12" y2="568.19" stroke="#d4d4d4" stroke-width="0.45" />
<circle cx="166.10" cy="434.20" r="6.20" fill="#bde3b4" stroke="#383838" stroke-width="0.9" />
<circle cx="184.10" cy="434.20" r="5.00" fill="#9ad291" stroke="#383838" stroke-width="0.9" />
<circle cx="202.10" cy="434.20" r="6.50" fill="#f2f9f0" stroke="#383838" stroke-width="0.9" />
<circle cx="220.10" cy="434.20" r="6.50" fill="#f2f9f0" stroke="#383838" stroke-width="0.9" />
<circle cx="238.10" cy="434.20" r="6.20" fill="#9ad291" stroke="#383838" stroke-width="0.9" />
<circle cx="256.10" cy="434.20" r="6.50" fill="#f2f9f0" stroke="#383838" stroke-width="0.9" />
<circle cx="166.10" cy="452.20" r="6.50" fill="#f2f9f0" stroke="#383838" stroke-width="0.9" />
<circle cx="184.10" cy="452.20" r="4.90" fill="#6fbe6c" stroke="#383838" stroke-width="0.9" />
<circle cx="202.10" cy="452.20" r="6.20" fill="#bde3b4" stroke="#383838" stroke-width="0.9" />
<circle cx="220.10" cy="452.20" r="6.20" fill="#dbefd5" stroke="#383838" stroke-width="0.9" />
<circle cx="238.10" cy="452.20" r="6.00" fill="#dbefd5" stroke="#383838" stroke-width="0.9" />
<circle cx="256.10" cy="452.20" r="6.00" fill="#bde3b4" stroke="#383838" stroke-width="0.9" />
<circle cx="166.10" cy="470.20" r="5.20" fill="#6fbe6c" stroke="#383838" stroke-width="0.9" />
<circle cx="184.10" cy="470.20" r="6.50" fill="#f2f9f0" stroke="#383838" stroke-width="0.9" />
<circle cx="202.10" cy="470.20" r="6.20" fill="#9ad291" stroke="#383838" stroke-width="0.9" />
<circle cx="220.10" cy="470.20" r="5.90" fill="#6fbe6c" stroke="#383838" stroke-width="0.9" />
<circle cx="238.10" cy="470.20" r="6.00" fill="#bde3b4" stroke="#383838" stroke-width="0.9" />
<circle cx="256.10" cy="470.20" r="6.00" fill="#dbefd5" stroke="#383838" stroke-width="0.9" />
<circle cx="166.10" cy="488.20" r="6.20" fill="#dbefd5" stroke="#383838" stroke-width="0.9" />
<circle cx="184.10" cy="488.20" r="3.20" fill="#23884a" stroke="#383838" stroke-width="0.9" />
<circle cx="202.10" cy="488.20" r="6.50" fill="#dbefd5" stroke="#383838" stroke-width="0.9" />
<circle cx="220.10" cy="488.20" r="6.00" fill="#bde3b4" stroke="#383838" stroke-width="0.9" />
<circle cx="238.10" cy="488.20" r="6.50" fill="#f2f9f0" stroke="#383838" stroke-width="0.9" />
<circle cx="256.10" cy="488.20" r="6.00" fill="#6fbe6c" stroke="#383838" stroke-width="0.9" />
<circle cx="166.10" cy="506.20" r="5.20" fill="#44a65a" stroke="#383838" stroke-width="0.9" />
<circle cx="184.10" cy="506.20" r="5.20" fill="#bde3b4" stroke="#383838" stroke-width="0.9" />
<circle cx="202.10" cy="506.20" r="6.20" fill="#6fbe6c" stroke="#383838" stroke-width="0.9" />
<circle cx="220.10" cy="506.20" r="5.70" fill="#44a65a" stroke="#383838" stroke-width="0.9" />
<circle cx="238.10" cy="506.20" r="6.20" fill="#6fbe6c" stroke="#383838" stroke-width="0.9" />
<circle cx="256.10" cy="506.20" r="6.20" fill="#9ad291" stroke="#383838" stroke-width="0.9" />
<circle cx="166.10" cy="524.20" r="6.00" fill="#9ad291" stroke="#383838" stroke-width="0.9" />
<circle cx="184.10" cy="524.20" r="6.00" fill="#dbefd5" stroke="#383838" stroke-width="0.9" />
<circle cx="202.10" cy="524.20" r="6.00" fill="#44a65a" stroke="#383838" stroke-width="0.9" />
<circle cx="220.10" cy="524.20" r="6.00" fill="#9ad291" stroke="#383838" stroke-width="0.9" />
<circle cx="238.10" cy="524.20" r="6.00" fill="#23884a" stroke="#383838" stroke-width="0.9" />
<circle cx="256.10" cy="524.20" r="5.90" fill="#44a65a" stroke="#383838" stroke-width="0.9" />
<circle cx="166.10" cy="542.20" r="3.00" fill="#23884a" stroke="#383838" stroke-width="0.9" />
<circle cx="184.10" cy="542.20" r="5.00" fill="#44a65a" stroke="#383838" stroke-width="0.9" />
<circle cx="202.10" cy="542.20" r="5.00" fill="#23884a" stroke="#383838" stroke-width="0.9" />
<circle cx="220.10" cy="542.20" r="1.90" fill="#23884a" stroke="#383838" stroke-width="0.9" />
<circle cx="238.10" cy="542.20" r="6.20" fill="#44a65a" stroke="#383838" stroke-width="0.9" />
<circle cx="256.10" cy="542.20" r="4.20" fill="#23884a" stroke="#383838" stroke-width="0.9" />
<circle cx="166.10" cy="560.20" r="0.95" fill="#111" />
<circle cx="184.10" cy="560.20" r="0.95" fill="#111" />
<circle cx="202.10" cy="560.20" r="0.95" fill="#111" />
<circle cx="220.10" cy="560.20" r="0.95" fill="#111" />
<circle cx="238.10" cy="560.20" r="0.95" fill="#111" />
<circle cx="256.10" cy="560.20" r="0.95" fill="#111" />
<circle cx="312.20" cy="434.20" r="6.50" fill="#f4eff6" stroke="#383838" stroke-width="0.9" />
<circle cx="330.20" cy="434.20" r="6.50" fill="#f4eff6" stroke="#383838" stroke-width="0.9" />
<circle cx="348.20" cy="434.20" r="6.50" fill="#f4eff6" stroke="#383838" stroke-width="0.9" />
<circle cx="366.20" cy="434.20" r="6.50" fill="#f4eff6" stroke="#383838" stroke-width="0.9" />
<circle cx="384.20" cy="434.20" r="6.50" fill="#f4eff6" stroke="#383838" stroke-width="0.9" />
<circle cx="402.20" cy="434.20" r="6.50" fill="#f4eff6" stroke="#383838" stroke-width="0.9" />
<circle cx="312.20" cy="452.20" r="6.20" fill="#e6d6ea" stroke="#383838" stroke-width="0.9" />
<circle cx="330.20" cy="452.20" r="6.20" fill="#e6d6ea" stroke="#383838" stroke-width="0.9" />
<circle cx="348.20" cy="452.20" r="6.50" fill="#e6d6ea" stroke="#383838" stroke-width="0.9" />
<circle cx="366.20" cy="452.20" r="6.20" fill="#d4aed6" stroke="#383838" stroke-width="0.9" />
<circle cx="384.20" cy="452.20" r="6.20" fill="#d4aed6" stroke="#383838" stroke-width="0.9" />
<circle cx="402.20" cy="452.20" r="6.00" fill="#e6d6ea" stroke="#383838" stroke-width="0.9" />
<circle cx="312.20" cy="470.20" r="6.00" fill="#cc86c1" stroke="#383838" stroke-width="0.9" />
<circle cx="330.20" cy="470.20" r="6.00" fill="#cc86c1" stroke="#383838" stroke-width="0.9" />
<circle cx="348.20" cy="470.20" r="6.20" fill="#d4aed6" stroke="#383838" stroke-width="0.9" />
<circle cx="366.20" cy="470.20" r="4.50" fill="#d6449a" stroke="#383838" stroke-width="0.9" />
<circle cx="384.20" cy="470.20" r="5.90" fill="#cc86c1" stroke="#383838" stroke-width="0.9" />
<circle cx="402.20" cy="470.20" r="6.00" fill="#cc86c1" stroke="#383838" stroke-width="0.9" />
<circle cx="312.20" cy="488.20" r="5.50" fill="#a3184c" stroke="#383838" stroke-width="0.9" />
<circle cx="330.20" cy="488.20" r="6.00" fill="#d6449a" stroke="#383838" stroke-width="0.9" />
<circle cx="348.20" cy="488.20" r="6.20" fill="#d6449a" stroke="#383838" stroke-width="0.9" />
<circle cx="366.20" cy="488.20" r="4.20" fill="#a3184c" stroke="#383838" stroke-width="0.9" />
<circle cx="384.20" cy="488.20" r="6.20" fill="#e6d6ea" stroke="#383838" stroke-width="0.9" />
<circle cx="402.20" cy="488.20" r="5.70" fill="#d6449a" stroke="#383838" stroke-width="0.9" />
<circle cx="312.20" cy="506.20" r="5.90" fill="#d6449a" stroke="#383838" stroke-width="0.9" />
<circle cx="330.20" cy="506.20" r="6.20" fill="#d4aed6" stroke="#383838" stroke-width="0.9" />
<circle cx="348.20" cy="506.20" r="6.50" fill="#cc86c1" stroke="#383838" stroke-width="0.9" />
<circle cx="366.20" cy="506.20" r="4.20" fill="#d3246f" stroke="#383838" stroke-width="0.9" />
<circle cx="384.20" cy="506.20" r="6.00" fill="#d6449a" stroke="#383838" stroke-width="0.9" />
<circle cx="402.20" cy="506.20" r="6.20" fill="#d4aed6" stroke="#383838" stroke-width="0.9" />
<circle cx="312.20" cy="524.20" r="6.20" fill="#d4aed6" stroke="#383838" stroke-width="0.9" />
<circle cx="330.20" cy="524.20" r="6.00" fill="#d3246f" stroke="#383838" stroke-width="0.9" />
<circle cx="348.20" cy="524.20" r="6.50" fill="#d3246f" stroke="#383838" stroke-width="0.9" />
<circle cx="366.20" cy="524.20" r="6.50" fill="#e6d6ea" stroke="#383838" stroke-width="0.9" />
<circle cx="384.20" cy="524.20" r="5.50" fill="#d3246f" stroke="#383838" stroke-width="0.9" />
<circle cx="402.20" cy="524.20" r="4.70" fill="#a3184c" stroke="#383838" stroke-width="0.9" />
<circle cx="312.20" cy="542.20" r="5.70" fill="#d3246f" stroke="#383838" stroke-width="0.9" />
<circle cx="330.20" cy="542.20" r="5.90" fill="#a3184c" stroke="#383838" stroke-width="0.9" />
<circle cx="348.20" cy="542.20" r="6.50" fill="#a3184c" stroke="#383838" stroke-width="0.9" />
<circle cx="366.20" cy="542.20" r="5.00" fill="#cc86c1" stroke="#383838" stroke-width="0.9" />
<circle cx="384.20" cy="542.20" r="4.70" fill="#a3184c" stroke="#383838" stroke-width="0.9" />
<circle cx="402.20" cy="542.20" r="5.70" fill="#d3246f" stroke="#383838" stroke-width="0.9" />
<circle cx="312.20" cy="560.20" r="0.95" fill="#111" />
<circle cx="330.20" cy="560.20" r="0.95" fill="#111" />
<circle cx="348.20" cy="560.20" r="0.95" fill="#111" />
<circle cx="366.20" cy="560.20" r="0.95" fill="#111" />
<circle cx="384.20" cy="560.20" r="0.95" fill="#111" />
<circle cx="402.20" cy="560.20" r="0.95" fill="#111" />
<circle cx="458.20" cy="434.20" r="6.20" fill="#5b9dd1" stroke="#383838" stroke-width="0.9" />
<circle cx="476.20" cy="434.20" r="6.50" fill="#f3f8fd" stroke="#383838" stroke-width="0.9" />
<circle cx="494.20" cy="434.20" r="6.50" fill="#dbe9f6" stroke="#383838" stroke-width="0.9" />
<circle cx="512.20" cy="434.20" r="6.50" fill="#dbe9f6" stroke="#383838" stroke-width="0.9" />
<circle cx="530.20" cy="434.20" r="6.20" fill="#5b9dd1" stroke="#383838" stroke-width="0.9" />
<circle cx="548.20" cy="434.20" r="6.20" fill="#1c5da4" stroke="#383838" stroke-width="0.9" />
<circle cx="566.20" cy="434.20" r="6.50" fill="#b9d5ec" stroke="#383838" stroke-width="0.9" />
<circle cx="584.20" cy="434.20" r="6.50" fill="#dbe9f6" stroke="#383838" stroke-width="0.9" />
<circle cx="458.20" cy="452.20" r="6.50" fill="#f3f8fd" stroke="#383838" stroke-width="0.9" />
<circle cx="476.20" cy="452.20" r="6.50" fill="#b9d5ec" stroke="#383838" stroke-width="0.9" />
<circle cx="494.20" cy="452.20" r="6.50" fill="#f3f8fd" stroke="#383838" stroke-width="0.9" />
<circle cx="512.20" cy="452.20" r="6.50" fill="#8ebfe0" stroke="#383838" stroke-width="0.9" />
<circle cx="530.20" cy="452.20" r="6.50" fill="#8ebfe0" stroke="#383838" stroke-width="0.9" />
<circle cx="548.20" cy="452.20" r="6.50" fill="#8ebfe0" stroke="#383838" stroke-width="0.9" />
<circle cx="566.20" cy="452.20" r="6.50" fill="#dbe9f6" stroke="#383838" stroke-width="0.9" />
<circle cx="584.20" cy="452.20" r="6.50" fill="#b9d5ec" stroke="#383838" stroke-width="0.9" />
<circle cx="458.20" cy="470.20" r="6.20" fill="#8ebfe0" stroke="#383838" stroke-width="0.9" />
<circle cx="476.20" cy="470.20" r="6.00" fill="#5b9dd1" stroke="#383838" stroke-width="0.9" />
<circle cx="494.20" cy="470.20" r="6.20" fill="#8ebfe0" stroke="#383838" stroke-width="0.9" />
<circle cx="512.20" cy="470.20" r="6.50" fill="#f3f8fd" stroke="#383838" stroke-width="0.9" />
<circle cx="530.20" cy="470.20" r="6.50" fill="#b9d5ec" stroke="#383838" stroke-width="0.9" />
<circle cx="548.20" cy="470.20" r="6.50" fill="#b9d5ec" stroke="#383838" stroke-width="0.9" />
<circle cx="566.20" cy="470.20" r="6.50" fill="#f3f8fd" stroke="#383838" stroke-width="0.9" />
<circle cx="584.20" cy="470.20" r="6.20" fill="#5b9dd1" stroke="#383838" stroke-width="0.9" />
<circle cx="458.20" cy="488.20" r="6.20" fill="#3a80c1" stroke="#383838" stroke-width="0.9" />
<circle cx="476.20" cy="488.20" r="4.70" fill="#3a80c1" stroke="#383838" stroke-width="0.9" />
<circle cx="494.20" cy="488.20" r="6.50" fill="#5b9dd1" stroke="#383838" stroke-width="0.9" />
<circle cx="512.20" cy="488.20" r="6.20" fill="#3a80c1" stroke="#383838" stroke-width="0.9" />
<circle cx="530.20" cy="488.20" r="6.50" fill="#dbe9f6" stroke="#383838" stroke-width="0.9" />
<circle cx="548.20" cy="488.20" r="6.50" fill="#f3f8fd" stroke="#383838" stroke-width="0.9" />
<circle cx="566.20" cy="488.20" r="6.00" fill="#5b9dd1" stroke="#383838" stroke-width="0.9" />
<circle cx="584.20" cy="488.20" r="6.50" fill="#f3f8fd" stroke="#383838" stroke-width="0.9" />
<circle cx="458.20" cy="506.20" r="5.70" fill="#1c5da4" stroke="#383838" stroke-width="0.9" />
<circle cx="476.20" cy="506.20" r="0.95" fill="#111" />
<circle cx="494.20" cy="506.20" r="6.20" fill="#1c5da4" stroke="#383838" stroke-width="0.9" />
<circle cx="512.20" cy="506.20" r="6.50" fill="#b9d5ec" stroke="#383838" stroke-width="0.9" />
<circle cx="530.20" cy="506.20" r="6.20" fill="#3a80c1" stroke="#383838" stroke-width="0.9" />
<circle cx="548.20" cy="506.20" r="6.20" fill="#5b9dd1" stroke="#383838" stroke-width="0.9" />
<circle cx="566.20" cy="506.20" r="5.70" fill="#3a80c1" stroke="#383838" stroke-width="0.9" />
<circle cx="584.20" cy="506.20" r="6.50" fill="#8ebfe0" stroke="#383838" stroke-width="0.9" />
<circle cx="458.20" cy="524.20" r="6.50" fill="#b9d5ec" stroke="#383838" stroke-width="0.9" />
<circle cx="476.20" cy="524.20" r="6.50" fill="#8ebfe0" stroke="#383838" stroke-width="0.9" />
<circle cx="494.20" cy="524.20" r="6.50" fill="#b9d5ec" stroke="#383838" stroke-width="0.9" />
<circle cx="512.20" cy="524.20" r="6.20" fill="#5b9dd1" stroke="#383838" stroke-width="0.9" />
<circle cx="530.20" cy="524.20" r="6.50" fill="#f3f8fd" stroke="#383838" stroke-width="0.9" />
<circle cx="548.20" cy="524.20" r="6.50" fill="#dbe9f6" stroke="#383838" stroke-width="0.9" />
<circle cx="566.20" cy="524.20" r="4.20" fill="#1c5da4" stroke="#383838" stroke-width="0.9" />
<circle cx="584.20" cy="524.20" r="6.50" fill="#3a80c1" stroke="#383838" stroke-width="0.9" />
<circle cx="458.20" cy="542.20" r="6.50" fill="#dbe9f6" stroke="#383838" stroke-width="0.9" />
<circle cx="476.20" cy="542.20" r="6.50" fill="#dbe9f6" stroke="#383838" stroke-width="0.9" />
<circle cx="494.20" cy="542.20" r="6.20" fill="#3a80c1" stroke="#383838" stroke-width="0.9" />
<circle cx="512.20" cy="542.20" r="6.20" fill="#1c5da4" stroke="#383838" stroke-width="0.9" />
<circle cx="530.20" cy="542.20" r="6.20" fill="#1c5da4" stroke="#383838" stroke-width="0.9" />
<circle cx="548.20" cy="542.20" r="6.20" fill="#1c5da4" stroke="#383838" stroke-width="0.9" />
<circle cx="566.20" cy="542.20" r="6.20" fill="#8ebfe0" stroke="#383838" stroke-width="0.9" />
<circle cx="584.20" cy="542.20" r="6.50" fill="#1c5da4" stroke="#383838" stroke-width="0.9" />
<circle cx="458.20" cy="560.20" r="0.95" fill="#111" />
<circle cx="476.20" cy="560.20" r="0.95" fill="#111" />
<circle cx="494.20" cy="560.20" r="0.95" fill="#111" />
<circle cx="512.20" cy="560.20" r="0.95" fill="#111" />
<circle cx="530.20" cy="560.20" r="0.95" fill="#111" />
<circle cx="548.20" cy="560.20" r="0.95" fill="#111" />
<circle cx="566.20" cy="560.20" r="0.95" fill="#111" />
<circle cx="584.20" cy="560.20" r="0.95" fill="#111" />
<rect x="266.80" y="427.60" width="24.90" height="13.20" fill="#f2f9f0" stroke="#333" stroke-width="0.9" />
<rect x="266.80" y="445.60" width="24.30" height="13.20" fill="#dbefd5" stroke="#333" stroke-width="0.9" />
<rect x="266.80" y="463.60" width="24.00" height="13.20" fill="#bde3b4" stroke="#333" stroke-width="0.9" />
<rect x="266.80" y="481.60" width="23.70" height="13.20" fill="#9ad291" stroke="#333" stroke-width="0.9" />
<rect x="266.80" y="499.60" width="23.70" height="13.20" fill="#6fbe6c" stroke="#333" stroke-width="0.9" />
<rect x="266.80" y="517.60" width="23.10" height="13.20" fill="#44a65a" stroke="#333" stroke-width="0.9" />
<rect x="266.80" y="535.60" width="20.70" height="13.20" fill="#23884a" stroke="#333" stroke-width="0.9" />
<rect x="266.80" y="553.60" width="15.90" height="13.20" fill="#0b4f24" stroke="#333" stroke-width="0.9" />
<line x1="266.80" y1="425.40" x2="266.80" y2="567.20" stroke="#222" stroke-width="1.1" />
<line x1="296.80" y1="425.40" x2="296.80" y2="564.70" stroke="#555" stroke-width="1.2" stroke-dasharray="3.6,2.4"/>
<path d="M266.80,574 V571.5 H296.80 V574 M281.80,571.5 V573.5" fill="none" stroke="#777" stroke-width="0.9"/>
<text x="266.40" y="584.80" font-size="8.8" text-anchor="middle" >0</text>
<text x="281.80" y="584.80" font-size="8.8" text-anchor="middle" >0.5</text>
<text x="296.70" y="584.80" font-size="8.8" text-anchor="middle" >1.0</text>
<rect x="413.10" y="427.60" width="27.30" height="13.20" fill="#f4eff6" stroke="#333" stroke-width="0.9" />
<rect x="413.10" y="445.60" width="26.40" height="13.20" fill="#e6d6ea" stroke="#333" stroke-width="0.9" />
<rect x="413.10" y="463.60" width="26.10" height="13.20" fill="#d4aed6" stroke="#333" stroke-width="0.9" />
<rect x="413.10" y="481.60" width="25.50" height="13.20" fill="#d6449a" stroke="#333" stroke-width="0.9" />
<rect x="413.10" y="499.60" width="26.10" height="13.20" fill="#cc86c1" stroke="#333" stroke-width="0.9" />
<rect x="413.10" y="517.60" width="24.90" height="13.20" fill="#d3246f" stroke="#333" stroke-width="0.9" />
<rect x="413.10" y="535.60" width="24.60" height="13.20" fill="#a3184c" stroke="#333" stroke-width="0.9" />
<rect x="413.10" y="553.60" width="16.20" height="13.20" fill="#6b1028" stroke="#333" stroke-width="0.9" />
<line x1="413.10" y1="425.40" x2="413.10" y2="567.20" stroke="#222" stroke-width="1.1" />
<line x1="443.10" y1="425.40" x2="443.10" y2="564.70" stroke="#555" stroke-width="1.2" stroke-dasharray="3.6,2.4"/>
<path d="M413.10,574 V571.5 H443.10 V574 M428.10,571.5 V573.5" fill="none" stroke="#777" stroke-width="0.9"/>
<text x="412.70" y="584.80" font-size="8.8" text-anchor="middle" >0</text>
<text x="428.10" y="584.80" font-size="8.8" text-anchor="middle" >0.5</text>
<text x="443.00" y="584.80" font-size="8.8" text-anchor="middle" >1.0</text>
<rect x="595.30" y="427.60" width="21.90" height="13.20" fill="#b9d5ec" stroke="#333" stroke-width="0.9" />
<rect x="595.30" y="445.60" width="21.90" height="13.20" fill="#f3f8fd" stroke="#333" stroke-width="0.9" />
<rect x="595.30" y="463.60" width="21.90" height="13.20" fill="#dbe9f6" stroke="#333" stroke-width="0.9" />
<rect x="595.30" y="481.60" width="21.60" height="13.20" fill="#8ebfe0" stroke="#333" stroke-width="0.9" />
<rect x="595.30" y="499.60" width="21.00" height="13.20" fill="#1c5da4" stroke="#333" stroke-width="0.9" />
<rect x="595.30" y="517.60" width="21.30" height="13.20" fill="#3a80c1" stroke="#333" stroke-width="0.9" />
<rect x="595.30" y="535.60" width="21.30" height="13.20" fill="#5b9dd1" stroke="#333" stroke-width="0.9" />
<rect x="595.30" y="553.60" width="14.70" height="13.20" fill="#173a72" stroke="#333" stroke-width="0.9" />
<line x1="595.30" y1="425.40" x2="595.30" y2="567.20" stroke="#222" stroke-width="1.1" />
<line x1="625.30" y1="425.40" x2="625.30" y2="564.70" stroke="#555" stroke-width="1.2" stroke-dasharray="3.6,2.4"/>
<path d="M595.30,574 V571.5 H625.30 V574 M610.30,571.5 V573.5" fill="none" stroke="#777" stroke-width="0.9"/>
<text x="594.90" y="584.80" font-size="8.8" text-anchor="middle" >0</text>
<text x="610.30" y="584.80" font-size="8.8" text-anchor="middle" >0.5</text>
<text x="625.20" y="584.80" font-size="8.8" text-anchor="middle" >1.0</text>
<rect x="632.80" y="427.60" width="24.30" height="13.20" fill="#fff2e5" stroke="#333" stroke-width="0.9" />
<rect x="632.80" y="445.60" width="23.70" height="13.20" fill="#fedcbc" stroke="#333" stroke-width="0.9" />
<rect x="632.80" y="463.60" width="23.70" height="13.20" fill="#fdc08d" stroke="#333" stroke-width="0.9" />
<rect x="632.80" y="481.60" width="23.70" height="13.20" fill="#f99f58" stroke="#333" stroke-width="0.9" />
<rect x="632.80" y="499.60" width="23.70" height="13.20" fill="#f17e2d" stroke="#333" stroke-width="0.9" />
<rect x="632.80" y="517.60" width="23.10" height="13.20" fill="#dc5915" stroke="#333" stroke-width="0.9" />
<rect x="632.80" y="535.60" width="22.20" height="13.20" fill="#a53e1f" stroke="#333" stroke-width="0.9" />
<rect x="632.80" y="553.60" width="15.90" height="13.20" fill="#7b2d1f" stroke="#333" stroke-width="0.9" />
<line x1="632.80" y1="425.40" x2="632.80" y2="567.20" stroke="#222" stroke-width="1.1" />
<line x1="662.80" y1="425.40" x2="662.80" y2="564.70" stroke="#555" stroke-width="1.2" stroke-dasharray="3.6,2.4"/>
<path d="M632.80,574 V571.5 H662.80 V574 M647.80,571.5 V573.5" fill="none" stroke="#777" stroke-width="0.9"/>
<text x="632.40" y="584.80" font-size="8.8" text-anchor="middle" >0</text>
<text x="647.80" y="584.80" font-size="8.8" text-anchor="middle" >0.5</text>
<text x="662.70" y="584.80" font-size="8.8" text-anchor="middle" >1.0</text>
<line x1="132.80" y1="419.50" x2="132.80" y2="423.00" stroke="#999" stroke-width="0.8" />
<text x="131.60" y="416.80" font-size="9.2" transform="rotate(-45 131.60 416.80)" >Task</text>
<line x1="166.10" y1="419.50" x2="166.10" y2="423.00" stroke="#999" stroke-width="0.8" />
<text x="164.90" y="416.80" font-size="9.2" transform="rotate(-45 164.90 416.80)" >Graph iLISI (feat)</text>
<line x1="184.10" y1="419.50" x2="184.10" y2="423.00" stroke="#999" stroke-width="0.8" />
<text x="182.90" y="416.80" font-size="9.2" transform="rotate(-45 182.90 416.80)" >Graph connectivity (feat)</text>
<line x1="202.10" y1="419.50" x2="202.10" y2="423.00" stroke="#999" stroke-width="0.8" />
<text x="200.90" y="416.80" font-size="9.2" transform="rotate(-45 200.90 416.80)" >kBET (feat)</text>
<line x1="220.10" y1="419.50" x2="220.10" y2="423.00" stroke="#999" stroke-width="0.8" />
<text x="218.90" y="416.80" font-size="9.2" transform="rotate(-45 218.90 416.80)" >Graph iLISI (embed)</text>
<line x1="238.10" y1="419.50" x2="238.10" y2="423.00" stroke="#999" stroke-width="0.8" />
<text x="236.90" y="416.80" font-size="9.2" transform="rotate(-45 236.90 416.80)" >Graph connectivity (embed)</text>
<line x1="256.10" y1="419.50" x2="256.10" y2="423.00" stroke="#999" stroke-width="0.8" />
<text x="254.90" y="416.80" font-size="9.2" transform="rotate(-45 254.90 416.80)" >kBET (embed)</text>
<line x1="281.80" y1="419.50" x2="281.80" y2="423.00" stroke="#999" stroke-width="0.8" />
<text x="280.60" y="416.80" font-size="9.2" transform="rotate(-45 280.60 416.80)" >Batch correction</text>
<line x1="312.20" y1="419.50" x2="312.20" y2="423.00" stroke="#999" stroke-width="0.8" />
<text x="311.00" y="416.80" font-size="9.2" transform="rotate(-45 311.00 416.80)" >Modality ASW</text>
<line x1="330.20" y1="419.50" x2="330.20" y2="423.00" stroke="#999" stroke-width="0.8" />
<text x="329.00" y="416.80" font-size="9.2" transform="rotate(-45 329.00 416.80)" >FOSCTTM</text>
<line x1="348.20" y1="419.50" x2="348.20" y2="423.00" stroke="#999" stroke-width="0.8" />
<text x="347.00" y="416.80" font-size="9.2" transform="rotate(-45 347.00 416.80)" >Label transfer F1</text>
<line x1="366.20" y1="419.50" x2="366.20" y2="423.00" stroke="#999" stroke-width="0.8" />
<text x="365.00" y="416.80" font-size="9.2" transform="rotate(-45 365.00 416.80)" >ATAC AUROC</text>
<line x1="384.20" y1="419.50" x2="384.20" y2="423.00" stroke="#999" stroke-width="0.8" />
<text x="383.00" y="416.80" font-size="9.2" transform="rotate(-45 383.00 416.80)" >RNA Pearson’s r</text>
<line x1="402.20" y1="419.50" x2="402.20" y2="423.00" stroke="#999" stroke-width="0.8" />
<text x="401.00" y="416.80" font-size="9.2" transform="rotate(-45 401.00 416.80)" >ADT Pearson’s r</text>
<line x1="428.10" y1="419.50" x2="428.10" y2="423.00" stroke="#999" stroke-width="0.8" />
<text x="426.90" y="416.80" font-size="9.2" transform="rotate(-45 426.90 416.80)" >Modality alignment</text>
<line x1="458.20" y1="419.50" x2="458.20" y2="423.00" stroke="#999" stroke-width="0.8" />
<text x="457.00" y="416.80" font-size="9.2" transform="rotate(-45 457.00 416.80)" >NMI (feat)</text>
<line x1="476.20" y1="419.50" x2="476.20" y2="423.00" stroke="#999" stroke-width="0.8" />
<text x="475.00" y="416.80" font-size="9.2" transform="rotate(-45 475.00 416.80)" >ARI (feat)</text>
<line x1="494.20" y1="419.50" x2="494.20" y2="423.00" stroke="#999" stroke-width="0.8" />
<text x="493.00" y="416.80" font-size="9.2" transform="rotate(-45 493.00 416.80)" >Isolated label F1 (feat)</text>
<line x1="512.20" y1="419.50" x2="512.20" y2="423.00" stroke="#999" stroke-width="0.8" />
<text x="511.00" y="416.80" font-size="9.2" transform="rotate(-45 511.00 416.80)" >Graph cLISI (feat)</text>
<line x1="530.20" y1="419.50" x2="530.20" y2="423.00" stroke="#999" stroke-width="0.8" />
<text x="529.00" y="416.80" font-size="9.2" transform="rotate(-45 529.00 416.80)" >NMI (embed)</text>
<line x1="548.20" y1="419.50" x2="548.20" y2="423.00" stroke="#999" stroke-width="0.8" />
<text x="547.00" y="416.80" font-size="9.2" transform="rotate(-45 547.00 416.80)" >ARI (embed)</text>
<line x1="566.20" y1="419.50" x2="566.20" y2="423.00" stroke="#999" stroke-width="0.8" />
<text x="565.00" y="416.80" font-size="9.2" transform="rotate(-45 565.00 416.80)" >Isolated label F1 (embed)</text>
<line x1="584.20" y1="419.50" x2="584.20" y2="423.00" stroke="#999" stroke-width="0.8" />
<text x="583.00" y="416.80" font-size="9.2" transform="rotate(-45 583.00 416.80)" >Graph cLISI (embed)</text>
<line x1="610.30" y1="419.50" x2="610.30" y2="423.00" stroke="#999" stroke-width="0.8" />
<text x="609.10" y="416.80" font-size="9.2" transform="rotate(-45 609.10 416.80)" >Biological conservation</text>
<line x1="647.80" y1="419.50" x2="647.80" y2="423.00" stroke="#999" stroke-width="0.8" />
<text x="646.60" y="416.80" font-size="9.2" transform="rotate(-45 646.60 416.80)" >Overall score</text>
<text x="681.20" y="432.60" font-size="11" >Ranking</text>
<rect x="681.40" y="440.30" width="12.40" height="7.60" fill="#f2f9f0" stroke="#444" stroke-width="0.6" />
<rect x="681.40" y="447.90" width="12.40" height="7.60" fill="#bde3b4" stroke="#444" stroke-width="0.6" />
<rect x="681.40" y="455.50" width="12.40" height="7.60" fill="#6fbe6c" stroke="#444" stroke-width="0.6" />
<rect x="681.40" y="463.10" width="12.40" height="7.60" fill="#44a65a" stroke="#444" stroke-width="0.6" />
<rect x="681.40" y="470.70" width="12.40" height="7.60" fill="#0b4f24" stroke="#444" stroke-width="0.6" />
<rect x="696.30" y="440.30" width="12.40" height="7.60" fill="#f4eff6" stroke="#444" stroke-width="0.6" />
<rect x="696.30" y="447.90" width="12.40" height="7.60" fill="#d4aed6" stroke="#444" stroke-width="0.6" />
<rect x="696.30" y="455.50" width="12.40" height="7.60" fill="#d6449a" stroke="#444" stroke-width="0.6" />
<rect x="696.30" y="463.10" width="12.40" height="7.60" fill="#d3246f" stroke="#444" stroke-width="0.6" />
<rect x="696.30" y="470.70" width="12.40" height="7.60" fill="#6b1028" stroke="#444" stroke-width="0.6" />
<rect x="711.20" y="440.30" width="12.40" height="7.60" fill="#f3f8fd" stroke="#444" stroke-width="0.6" />
<rect x="711.20" y="447.90" width="12.40" height="7.60" fill="#b9d5ec" stroke="#444" stroke-width="0.6" />
<rect x="711.20" y="455.50" width="12.40" height="7.60" fill="#5b9dd1" stroke="#444" stroke-width="0.6" />
<rect x="711.20" y="463.10" width="12.40" height="7.60" fill="#3a80c1" stroke="#444" stroke-width="0.6" />
<rect x="711.20" y="470.70" width="12.40" height="7.60" fill="#173a72" stroke="#444" stroke-width="0.6" />
<rect x="726.10" y="440.30" width="12.40" height="7.60" fill="#fff2e5" stroke="#444" stroke-width="0.6" />
<rect x="726.10" y="447.90" width="12.40" height="7.60" fill="#fdc08d" stroke="#444" stroke-width="0.6" />
<rect x="726.10" y="455.50" width="12.40" height="7.60" fill="#f17e2d" stroke="#444" stroke-width="0.6" />
<rect x="726.10" y="463.10" width="12.40" height="7.60" fill="#dc5915" stroke="#444" stroke-width="0.6" />
<rect x="726.10" y="470.70" width="12.40" height="7.60" fill="#7b2d1f" stroke="#444" stroke-width="0.6" />
<line x1="749.40" y1="478.30" x2="749.40" y2="443.50" stroke="#3b4f78" stroke-width="1.2" />
<path d="M746.9,445 L749.4,439.8 L751.9,445 Z" fill="#3b4f78"/>
<text x="754.20" y="447.50" font-size="10.5" >1</text>
<text x="754.60" y="477.50" font-size="10.5" >8</text>
<text x="683.40" y="509.80" font-size="11" textLength="28.70" lengthAdjust="spacingAndGlyphs" >Score</text>
<circle cx="686.00" cy="539.60" r="0.80" fill="#222" />
<circle cx="690.40" cy="538.35" r="1.65" fill="#fff" stroke="#333" stroke-width="0.85" />
<circle cx="698.20" cy="536.65" r="3.35" fill="#fff" stroke="#333" stroke-width="0.85" />
<circle cx="708.60" cy="535.10" r="4.90" fill="#fff" stroke="#333" stroke-width="0.85" />
<circle cx="722.00" cy="533.60" r="6.40" fill="#fff" stroke="#333" stroke-width="0.85" />
<circle cx="738.50" cy="531.90" r="8.10" fill="#fff" stroke="#333" stroke-width="0.85" />
<text x="682.30" y="555.00" font-size="9.2" textLength="12.50" lengthAdjust="spacingAndGlyphs" >0%</text>
<text x="753.80" y="555.00" font-size="9.2" text-anchor="end" textLength="22.10" lengthAdjust="spacingAndGlyphs" >100%</text>
<text x="0.30" y="604.80" font-size="15" font-weight="bold" fill="#000" stroke="#000" stroke-width="0.7">d</text>
<text x="55.39" y="612.70" font-size="10.3" text-anchor="middle" >MIDAS</text>
<text x="127.37" y="612.70" font-size="10.3" text-anchor="middle" >scMoMaT</text>
<text x="199.35" y="612.70" font-size="10.3" text-anchor="middle" >scVAEIT</text>
<text x="271.33" y="612.70" font-size="10.3" text-anchor="middle" >StabMap</text>
<text x="343.31" y="612.70" font-size="10.3" text-anchor="middle" >Multigrate</text>
<text x="12.40" y="686.20" font-size="10.6" text-anchor="middle" transform="rotate(-90 12.40 686.20)" >Dogma-diagonal+full</text>
<g transform="translate(19.40,617.30) scale(1.0283,0.9843)">
<path d="M4.00,20.00 C4.42,17.17 5.50,14.00 7.00,12.00 C8.50,10.00 10.83,8.50 13.00,8.00 C15.17,7.50 17.83,9.00 20.00,9.00 C22.17,9.00 23.83,7.83 26.00,8.00 C28.17,8.17 31.00,8.67 33.00,10.00 C35.00,11.33 36.92,13.50 38.00,16.00 C39.08,18.50 39.67,22.17 39.50,25.00 C39.33,27.83 38.42,30.75 37.00,33.00 C35.58,35.25 33.17,37.67 31.00,38.50 C28.83,39.33 26.17,38.58 24.00,38.00 C21.83,37.42 20.33,35.67 18.00,35.00 C15.67,34.33 12.25,35.00 10.00,34.00 C7.75,33.00 5.50,31.33 4.50,29.00 C3.50,26.67 3.58,22.83 4.00,20.00 Z" fill="#7a96b0"/>
<path d="M7.00,11.00 C7.50,10.17 10.17,8.42 12.00,8.00 C13.83,7.58 17.50,8.17 18.00,8.50 C18.50,8.83 16.50,9.25 15.00,10.00 C13.50,10.75 10.33,12.83 9.00,13.00 C7.67,13.17 6.50,11.83 7.00,11.00 Z" fill="#8fb883" fill-opacity="0.8"/>
<ellipse cx="20" cy="24" rx="9" ry="8" fill="#5c80a8" fill-opacity="0.5"/>
<ellipse cx="62.5" cy="8" rx="5" ry="5.2" fill="#6082ae"/>
<ellipse cx="60.5" cy="22" rx="5.2" ry="6.5" fill="#6888b0"/>
<ellipse cx="56" cy="15" rx="2.5" ry="3" fill="#8aa0c0"/>
<ellipse cx="47" cy="16.5" rx="2.3" ry="5" fill="#7d98bc"/>
<path d="M38,30 L48,24 L55,16" fill="none" stroke="#a9b6c7" stroke-width="1.5" stroke-linecap="round"/>
<ellipse cx="52.5" cy="35.5" rx="3" ry="2.2" fill="#7f95b8" transform="rotate(30 52.5 35.5)"/>
<ellipse cx="43.8" cy="50.8" rx="2.8" ry="4.6" fill="#6f8fb4" transform="rotate(-20 43.8 50.8)"/>
<path d="M32.2,42 L32.2,64.5" fill="none" stroke="#b3bfd0" stroke-width="1.0" stroke-linecap="round"/>
<ellipse cx="31.7" cy="56.5" rx="1.5" ry="1.5" fill="#4e6fa8"/>
<rect x="0" y="0" width="70" height="70" fill="url(#speck)"/>
</g>
<g transform="translate(19.40,686.20) scale(1.0283,0.9843)">
<path d="M3.50,20.00 C3.92,17.33 4.92,14.00 6.50,12.00 C8.08,10.00 10.75,8.50 13.00,8.00 C15.25,7.50 17.83,9.00 20.00,9.00 C22.17,9.00 23.83,7.83 26.00,8.00 C28.17,8.17 31.00,8.67 33.00,10.00 C35.00,11.33 36.92,13.50 38.00,16.00 C39.08,18.50 39.67,22.17 39.50,25.00 C39.33,27.83 38.42,30.75 37.00,33.00 C35.58,35.25 33.17,37.67 31.00,38.50 C28.83,39.33 26.17,38.58 24.00,38.00 C21.83,37.42 20.33,35.67 18.00,35.00 C15.67,34.33 12.33,35.17 10.00,34.00 C7.67,32.83 5.08,30.33 4.00,28.00 C2.92,25.67 3.08,22.67 3.50,20.00 Z" fill="#e9615c"/>
<ellipse cx="47" cy="17" rx="3" ry="5.8" fill="#f0dd3a"/>
<ellipse cx="61.2" cy="7.8" rx="5.5" ry="5.2" fill="#5a7ec4"/>
<ellipse cx="59.4" cy="22" rx="5" ry="6.5" fill="#7d8fc8"/>
<path d="M38,30 L48,24 L55,16" fill="none" stroke="#c8a8b8" stroke-width="1.5" stroke-linecap="round"/>
<ellipse cx="52" cy="36.3" rx="3.2" ry="2.5" fill="#c4b0dc"/>
<ellipse cx="43.8" cy="51" rx="3.2" ry="4.5" fill="#8dc274"/>
<ellipse cx="42" cy="47" rx="1.2" ry="1.3" fill="#e05050"/>
<path d="M31.5,44 L31.5,64.5" fill="none" stroke="#c9b9c9" stroke-width="1.0" stroke-linecap="round"/>
<ellipse cx="31.3" cy="57" rx="1.4" ry="1.4" fill="#6d86c8"/>
<rect x="0" y="0" width="70" height="70" fill="url(#speck)"/>
</g>
<g transform="translate(91.38,617.30) scale(1.0283,0.9843)">
<ellipse cx="6.5" cy="17.5" rx="2.8" ry="4.5" fill="#6a86c4" transform="rotate(-20 6.5 17.5)"/>
<ellipse cx="4.5" cy="15.5" rx="1.5" ry="2" fill="#6cbc52"/>
<ellipse cx="8" cy="21.5" rx="1.1" ry="1.3" fill="#e05048"/>
<path d="M31.00,9.00 C31.83,8.17 34.33,7.17 36.00,7.00 C37.67,6.83 40.33,7.17 41.00,8.00 C41.67,8.83 41.00,11.17 40.00,12.00 C39.00,12.83 36.50,13.00 35.00,13.00 C33.50,13.00 31.67,12.67 31.00,12.00 C30.33,11.33 30.17,9.83 31.00,9.00 Z" fill="#6cbc52"/>
<path d="M35.00,12.00 C35.67,10.67 38.67,10.50 40.00,11.00 C41.33,11.50 43.00,13.50 43.00,15.00 C43.00,16.50 41.17,19.33 40.00,20.00 C38.83,20.67 36.83,20.33 36.00,19.00 C35.17,17.67 34.33,13.33 35.00,12.00 Z" fill="#78bf5e"/>
<path d="M28.50,22.00 C29.20,21.17 31.58,20.17 33.00,20.00 C34.42,19.83 36.50,20.08 37.00,21.00 C37.50,21.92 37.00,24.58 36.00,25.50 C35.00,26.42 32.20,26.58 31.00,26.50 C29.80,26.42 29.22,25.75 28.80,25.00 C28.38,24.25 27.80,22.83 28.50,22.00 Z" fill="#70bd56"/>
<ellipse cx="46.5" cy="12.5" rx="2.4" ry="5" fill="#e24a44" transform="rotate(-30 46.5 12.5)"/>
<path d="M40.00,18.00 C40.67,15.83 43.50,14.17 46.00,13.00 C48.50,11.83 52.00,11.00 55.00,11.00 C58.00,11.00 61.75,11.67 64.00,13.00 C66.25,14.33 67.92,16.83 68.50,19.00 C69.08,21.17 68.92,24.33 67.50,26.00 C66.08,27.67 62.92,28.50 60.00,29.00 C57.08,29.50 53.00,29.50 50.00,29.00 C47.00,28.50 43.67,27.83 42.00,26.00 C40.33,24.17 39.33,20.17 40.00,18.00 Z" fill="#78a6da"/>
<ellipse cx="58" cy="20" rx="8" ry="6" fill="#3f70c0" fill-opacity="0.75"/>
<path d="M47.00,4.00 C47.83,3.05 50.83,2.88 53.00,2.80 C55.17,2.72 58.67,2.80 60.00,3.50 C61.33,4.20 61.83,6.08 61.00,7.00 C60.17,7.92 57.17,8.75 55.00,9.00 C52.83,9.25 49.33,9.33 48.00,8.50 C46.67,7.67 46.17,4.95 47.00,4.00 Z" fill="#4b70c0"/>
<ellipse cx="59.5" cy="4.5" rx="2.5" ry="1.8" fill="#e04848"/>
<path d="M55.00,26.00 C56.00,24.17 58.92,25.00 61.00,25.00 C63.08,25.00 66.42,24.67 67.50,26.00 C68.58,27.33 68.25,31.00 67.50,33.00 C66.75,35.00 64.75,36.50 63.00,38.00 C61.25,39.50 58.33,42.33 57.00,42.00 C55.67,41.67 55.33,38.67 55.00,36.00 C54.67,33.33 54.00,27.83 55.00,26.00 Z" fill="#e3524c"/>
<ellipse cx="39" cy="23.5" rx="3" ry="2.5" fill="#d46a66"/>
<path d="M29.00,28.00 C29.67,26.42 32.42,26.33 34.00,26.50 C35.58,26.67 37.83,27.75 38.50,29.00 C39.17,30.25 38.75,32.58 38.00,34.00 C37.25,35.42 35.33,37.17 34.00,37.50 C32.67,37.83 30.83,37.58 30.00,36.00 C29.17,34.42 28.33,29.58 29.00,28.00 Z" fill="#4e78c4"/>
<path d="M38.50,31.00 C39.67,29.50 43.58,29.25 46.00,29.00 C48.42,28.75 51.83,28.67 53.00,29.50 C54.17,30.33 53.83,32.25 53.00,34.00 C52.17,35.75 49.83,38.00 48.00,40.00 C46.17,42.00 43.58,45.17 42.00,46.00 C40.42,46.83 39.00,46.33 38.50,45.00 C38.00,43.67 39.00,40.33 39.00,38.00 C39.00,35.67 37.33,32.50 38.50,31.00 Z" fill="#70be52"/>
<ellipse cx="48" cy="50" rx="3.5" ry="3" fill="#7a88c0"/>
<ellipse cx="50" cy="53" rx="1.5" ry="1.2" fill="#e05050"/>
<ellipse cx="38" cy="61" rx="2.2" ry="3" fill="#5a7ec4"/>
<ellipse cx="39" cy="64" rx="1" ry="1" fill="#78c060"/>
<ellipse cx="44" cy="46" rx="1" ry="2" fill="#88c070"/>
<rect x="0" y="0" width="70" height="70" fill="url(#speck)"/>
</g>
<g transform="translate(91.38,686.20) scale(1.0283,0.9843)">
<ellipse cx="6" cy="17.4" rx="2.6" ry="3.5" fill="#86c06a"/>
<ellipse cx="6.5" cy="14.5" rx="1" ry="1" fill="#e05050"/>
<path d="M33.00,22.00 C33.17,18.67 34.50,16.00 36.00,14.00 C37.50,12.00 39.67,11.17 42.00,10.00 C44.33,8.83 47.33,7.67 50.00,7.00 C52.67,6.33 55.50,5.50 58.00,6.00 C60.50,6.50 63.33,7.83 65.00,10.00 C66.67,12.17 67.83,16.00 68.00,19.00 C68.17,22.00 67.17,25.67 66.00,28.00 C64.83,30.33 63.00,31.83 61.00,33.00 C59.00,34.17 56.17,33.50 54.00,35.00 C51.83,36.50 50.00,40.00 48.00,42.00 C46.00,44.00 43.67,46.67 42.00,47.00 C40.33,47.33 39.17,46.17 38.00,44.00 C36.83,41.83 35.83,37.67 35.00,34.00 C34.17,30.33 32.83,25.33 33.00,22.00 Z" fill="#e9625d"/>
<ellipse cx="52" cy="6.8" rx="6.5" ry="3" fill="#4a70c4"/>
<ellipse cx="33" cy="29" rx="4" ry="5" fill="#6d7fc0"/>
<ellipse cx="34" cy="36.5" rx="2.6" ry="2.4" fill="#f2dc30"/>
<ellipse cx="44.6" cy="55" rx="3.2" ry="2.4" fill="#c9b2dd"/>
<ellipse cx="37.2" cy="62.5" rx="1.8" ry="2" fill="#bca4d6"/>
<path d="M46,46 L47,50" fill="none" stroke="#d49ac4" stroke-width="1.2" stroke-linecap="round"/>
<rect x="0" y="0" width="70" height="70" fill="url(#speck)"/>
</g>
<g transform="translate(163.36,617.30) scale(1.0283,0.9843)">
<path d="M22.60,9.20 C22.93,7.67 24.97,6.07 26.50,5.30 C28.03,4.53 30.38,3.95 31.80,4.60 C33.22,5.25 33.92,7.55 35.00,9.20 C36.08,10.85 37.63,12.53 38.30,14.50 C38.97,16.47 39.22,19.47 39.00,21.00 C38.78,22.53 38.10,23.37 37.00,23.70 C35.90,24.03 33.82,23.67 32.40,23.00 C30.98,22.33 29.82,21.12 28.50,19.70 C27.18,18.28 25.48,16.25 24.50,14.50 C23.52,12.75 22.27,10.73 22.60,9.20 Z" fill="#2f5fb6"/>
<path d="M5.50,23.70 C6.27,22.07 7.43,21.07 9.40,20.40 C11.37,19.73 14.23,19.27 17.30,19.70 C20.37,20.13 24.73,21.47 27.80,23.00 C30.87,24.53 34.05,26.60 35.70,28.90 C37.35,31.20 37.70,34.38 37.70,36.80 C37.70,39.22 37.13,42.08 35.70,43.40 C34.27,44.72 31.95,44.58 29.10,44.70 C26.25,44.82 21.67,44.53 18.60,44.10 C15.53,43.67 12.78,43.32 10.70,42.10 C8.62,40.88 7.08,38.78 6.10,36.80 C5.12,34.82 4.90,32.38 4.80,30.20 C4.70,28.02 4.73,25.33 5.50,23.70 Z" fill="#6fbf4f"/>
<path d="M9.00,26.00 C9.63,24.92 10.50,24.00 12.00,23.50 C13.50,23.00 15.50,22.67 18.00,23.00 C20.50,23.33 24.50,24.25 27.00,25.50 C29.50,26.75 31.75,28.67 33.00,30.50 C34.25,32.33 34.58,34.75 34.50,36.50 C34.42,38.25 33.75,40.17 32.50,41.00 C31.25,41.83 29.32,41.58 27.00,41.50 C24.68,41.42 21.10,41.00 18.60,40.50 C16.10,40.00 13.60,39.50 12.00,38.50 C10.40,37.50 9.63,35.92 9.00,34.50 C8.37,33.08 8.20,31.42 8.20,30.00 C8.20,28.58 8.37,27.08 9.00,26.00 Z" fill="#c79aae"/>
<ellipse cx="20" cy="31" rx="7" ry="4" fill="#a98cb8" fill-opacity="0.7"/>
<ellipse cx="12.5" cy="47.5" rx="3.5" ry="2.6" fill="#78c05c" transform="rotate(35 12.5 47.5)"/>
<ellipse cx="19.3" cy="51.5" rx="3.2" ry="2.8" fill="#c77c8e"/>
<path d="M25.80,61.80 C25.80,60.70 26.20,59.12 27.20,57.80 C28.20,56.48 30.38,54.98 31.80,53.90 C33.22,52.82 34.83,51.30 35.70,51.30 C36.57,51.30 37.22,52.60 37.00,53.90 C36.78,55.20 35.50,57.57 34.40,59.10 C33.30,60.63 31.60,62.22 30.40,63.10 C29.20,63.98 27.97,64.62 27.20,64.40 C26.43,64.18 25.80,62.90 25.80,61.80 Z" fill="#2d5db8"/>
<ellipse cx="36" cy="46.5" rx="5.5" ry="3.5" fill="#8a86b8"/>
<ellipse cx="45.5" cy="45.5" rx="2.8" ry="2.2" fill="#4f74c4"/>
<ellipse cx="47" cy="49.5" rx="1.8" ry="1.4" fill="#4f74c4"/>
<ellipse cx="48.8" cy="25.6" rx="3.8" ry="2" fill="#6f90cc" transform="rotate(-25 48.8 25.6)"/>
<ellipse cx="60" cy="31.5" rx="4.5" ry="2.6" fill="#86b886"/>
<ellipse cx="65.5" cy="31.5" rx="1.5" ry="3.4" fill="#3560bc"/>
<rect x="0" y="0" width="70" height="70" fill="url(#speck)"/>
</g>
<g transform="translate(163.36,686.20) scale(1.0283,0.9843)">
<path d="M22.60,9.20 C22.93,7.67 24.97,6.07 26.50,5.30 C28.03,4.53 30.38,3.95 31.80,4.60 C33.22,5.25 33.92,7.55 35.00,9.20 C36.08,10.85 37.63,12.53 38.30,14.50 C38.97,16.47 39.22,19.47 39.00,21.00 C38.78,22.53 38.10,23.37 37.00,23.70 C35.90,24.03 33.82,23.67 32.40,23.00 C30.98,22.33 29.82,21.12 28.50,19.70 C27.18,18.28 25.48,16.25 24.50,14.50 C23.52,12.75 22.27,10.73 22.60,9.20 Z" fill="#e8605b"/>
<path d="M5.50,23.70 C6.27,22.07 7.43,21.07 9.40,20.40 C11.37,19.73 14.23,19.27 17.30,19.70 C20.37,20.13 24.73,21.47 27.80,23.00 C30.87,24.53 34.05,26.60 35.70,28.90 C37.35,31.20 37.70,34.38 37.70,36.80 C37.70,39.22 37.13,42.08 35.70,43.40 C34.27,44.72 31.95,44.58 29.10,44.70 C26.25,44.82 21.67,44.53 18.60,44.10 C15.53,43.67 12.78,43.32 10.70,42.10 C8.62,40.88 7.08,38.78 6.10,36.80 C5.12,34.82 4.90,32.38 4.80,30.20 C4.70,28.02 4.73,25.33 5.50,23.70 Z" fill="#e9625d"/>
<ellipse cx="42.5" cy="40.2" rx="5.5" ry="3.6" fill="#efdb35"/>
<ellipse cx="44.8" cy="47.2" rx="4.6" ry="3" fill="#c6b0dc"/>
<ellipse cx="15.5" cy="48" rx="6" ry="3.6" fill="#5f7fc6" transform="rotate(15 15.5 48)"/>
<path d="M25.80,61.80 C25.80,60.70 26.20,59.12 27.20,57.80 C28.20,56.48 30.38,54.98 31.80,53.90 C33.22,52.82 34.83,51.30 35.70,51.30 C36.57,51.30 37.22,52.60 37.00,53.90 C36.78,55.20 35.50,57.57 34.40,59.10 C33.30,60.63 31.60,62.22 30.40,63.10 C29.20,63.98 27.97,64.62 27.20,64.40 C26.43,64.18 25.80,62.90 25.80,61.80 Z" fill="#5a7cc6"/>
<ellipse cx="33" cy="45" rx="4" ry="3.5" fill="#7d8ac0"/>
<ellipse cx="48.8" cy="26" rx="3.8" ry="2" fill="#c6a0c8" transform="rotate(-25 48.8 26)"/>
<ellipse cx="61" cy="31.5" rx="4.5" ry="2.8" fill="#9cc48a"/>
<rect x="0" y="0" width="70" height="70" fill="url(#speck)"/>
</g>
<g transform="translate(235.34,617.30) scale(1.0283,0.9843)">
<path d="M42.61,19.94 C43.92,18.44 48.59,20.68 51.57,22.18 C54.56,23.67 57.73,26.28 60.53,28.90 C63.33,31.51 66.79,34.87 68.37,37.86 C69.96,40.84 70.61,43.83 70.05,46.82 C69.49,49.80 67.16,54.28 65.01,55.78 C62.87,57.27 59.60,56.52 57.17,55.78 C54.75,55.03 52.32,53.54 50.45,51.30 C48.59,49.06 47.09,45.70 45.97,42.34 C44.85,38.98 44.29,34.87 43.73,31.14 C43.17,27.40 41.31,21.43 42.61,19.94 Z" fill="#a9cfee"/>
<path d="M26.54,8.49 C27.47,6.81 31.02,6.16 33.26,5.13 C35.50,4.11 38.11,2.71 39.98,2.33 C41.84,1.96 43.34,1.87 44.46,2.89 C45.58,3.92 45.58,6.81 46.70,8.49 C47.82,10.17 50.24,11.29 51.18,12.97 C52.11,14.65 52.86,16.71 52.30,18.57 C51.74,20.44 49.87,23.05 47.82,24.17 C45.76,25.29 42.59,25.67 39.98,25.29 C37.36,24.92 34.19,23.61 32.14,21.93 C30.08,20.25 28.59,17.45 27.66,15.21 C26.72,12.97 25.60,10.17 26.54,8.49 Z" fill="#a3cbe9"/>
<ellipse cx="44" cy="14" rx="5" ry="4" fill="#3f7f70" transform="rotate(20 44 14)"/>
<path d="M9.66,16.08 C9.85,14.40 12.09,12.26 14.14,11.04 C16.20,9.83 19.18,8.90 21.98,8.80 C24.79,8.71 28.89,9.46 30.95,10.48 C33.00,11.51 34.30,13.47 34.30,14.96 C34.30,16.46 33.00,18.51 30.95,19.44 C28.89,20.38 24.97,20.28 21.98,20.56 C19.00,20.84 15.08,21.87 13.02,21.12 C10.97,20.38 9.48,17.76 9.66,16.08 Z" fill="#7fa3a6"/>
<path d="M5.72,40.40 C6.84,37.78 9.26,34.98 11.32,32.56 C13.37,30.13 15.80,27.52 18.04,25.84 C20.28,24.16 22.70,22.48 24.76,22.48 C26.81,22.48 29.42,23.97 30.36,25.84 C31.29,27.70 31.29,31.25 30.36,33.68 C29.42,36.10 27.00,38.34 24.76,40.40 C22.52,42.45 19.34,44.13 16.92,46.00 C14.49,47.86 12.25,51.22 10.20,51.60 C8.14,51.97 5.34,50.10 4.60,48.24 C3.85,46.37 4.60,43.01 5.72,40.40 Z" fill="#8db0b6"/>
<ellipse cx="19" cy="32" rx="6" ry="6" fill="#d65252"/>
<path d="M27.89,20.01 C29.20,17.39 32.93,17.39 35.73,17.77 C38.53,18.14 42.64,20.01 44.69,22.25 C46.74,24.49 47.40,27.85 48.05,31.21 C48.70,34.57 48.98,38.67 48.61,42.41 C48.24,46.14 47.21,50.62 45.81,53.61 C44.41,56.59 42.26,59.58 40.21,60.33 C38.16,61.07 35.17,60.33 33.49,58.09 C31.81,55.85 31.06,50.99 30.13,46.89 C29.20,42.78 28.26,37.93 27.89,33.45 C27.52,28.97 26.58,22.62 27.89,20.01 Z" fill="#5c9670"/>
<ellipse cx="39" cy="40" rx="5" ry="9" fill="#3a7676" fill-opacity="0.7"/>
<path d="M18.64,54.93 C19.20,52.69 21.07,49.70 23.12,48.21 C25.17,46.71 28.53,46.15 30.96,45.97 C33.39,45.78 35.63,46.15 37.68,47.09 C39.73,48.02 42.16,49.51 43.28,51.57 C44.40,53.62 45.33,57.07 44.40,59.41 C43.47,61.74 40.67,64.45 37.68,65.57 C34.69,66.69 29.47,66.78 26.48,66.13 C23.49,65.47 21.07,63.51 19.76,61.65 C18.45,59.78 18.08,57.17 18.64,54.93 Z" fill="#b8c0d8"/>
<ellipse cx="29" cy="59.5" rx="7" ry="4.2" fill="#3d51a2"/>
<ellipse cx="37" cy="54" rx="3" ry="2.2" fill="#d66a60"/>
<ellipse cx="24" cy="53" rx="2.5" ry="1.6" fill="#8ab878"/>
<ellipse cx="6" cy="55" rx="1.5" ry="1.2" fill="#7ab080"/>
<ellipse cx="9.5" cy="57.5" rx="1.8" ry="1.2" fill="#8ab0c8"/>
<ellipse cx="12.5" cy="56" rx="1.2" ry="1" fill="#6a9ab8"/>
<ellipse cx="5" cy="59.5" rx="1.2" ry="1" fill="#8ac080"/>
<rect x="0" y="0" width="70" height="70" fill="url(#speck)"/>
</g>
<g transform="translate(235.34,686.20) scale(1.0283,0.9843)">
<path d="M42.61,19.94 C43.92,18.44 48.59,20.68 51.57,22.18 C54.56,23.67 57.73,26.28 60.53,28.90 C63.33,31.51 66.79,34.87 68.37,37.86 C69.96,40.84 70.61,43.83 70.05,46.82 C69.49,49.80 67.16,54.28 65.01,55.78 C62.87,57.27 59.60,56.52 57.17,55.78 C54.75,55.03 52.32,53.54 50.45,51.30 C48.59,49.06 47.09,45.70 45.97,42.34 C44.85,38.98 44.29,34.87 43.73,31.14 C43.17,27.40 41.31,21.43 42.61,19.94 Z" fill="#e48480"/>
<path d="M26.54,8.49 C27.47,6.81 31.02,6.16 33.26,5.13 C35.50,4.11 38.11,2.71 39.98,2.33 C41.84,1.96 43.34,1.87 44.46,2.89 C45.58,3.92 45.58,6.81 46.70,8.49 C47.82,10.17 50.24,11.29 51.18,12.97 C52.11,14.65 52.86,16.71 52.30,18.57 C51.74,20.44 49.87,23.05 47.82,24.17 C45.76,25.29 42.59,25.67 39.98,25.29 C37.36,24.92 34.19,23.61 32.14,21.93 C30.08,20.25 28.59,17.45 27.66,15.21 C26.72,12.97 25.60,10.17 26.54,8.49 Z" fill="#e3807c"/>
<path d="M9.66,16.08 C9.85,14.40 12.09,12.26 14.14,11.04 C16.20,9.83 19.18,8.90 21.98,8.80 C24.79,8.71 28.89,9.46 30.95,10.48 C33.00,11.51 34.30,13.47 34.30,14.96 C34.30,16.46 33.00,18.51 30.95,19.44 C28.89,20.38 24.97,20.28 21.98,20.56 C19.00,20.84 15.08,21.87 13.02,21.12 C10.97,20.38 9.48,17.76 9.66,16.08 Z" fill="#e27c78"/>
<path d="M5.72,40.40 C6.84,37.78 9.26,34.98 11.32,32.56 C13.37,30.13 15.80,27.52 18.04,25.84 C20.28,24.16 22.70,22.48 24.76,22.48 C26.81,22.48 29.42,23.97 30.36,25.84 C31.29,27.70 31.29,31.25 30.36,33.68 C29.42,36.10 27.00,38.34 24.76,40.40 C22.52,42.45 19.34,44.13 16.92,46.00 C14.49,47.86 12.25,51.22 10.20,51.60 C8.14,51.97 5.34,50.10 4.60,48.24 C3.85,46.37 4.60,43.01 5.72,40.40 Z" fill="#e4827e"/>
<path d="M27.89,20.01 C29.20,17.39 32.93,17.39 35.73,17.77 C38.53,18.14 42.64,20.01 44.69,22.25 C46.74,24.49 47.40,27.85 48.05,31.21 C48.70,34.57 48.98,38.67 48.61,42.41 C48.24,46.14 47.21,50.62 45.81,53.61 C44.41,56.59 42.26,59.58 40.21,60.33 C38.16,61.07 35.17,60.33 33.49,58.09 C31.81,55.85 31.06,50.99 30.13,46.89 C29.20,42.78 28.26,37.93 27.89,33.45 C27.52,28.97 26.58,22.62 27.89,20.01 Z" fill="#e07874"/>
<path d="M18.64,54.93 C19.20,52.69 21.07,49.70 23.12,48.21 C25.17,46.71 28.53,46.15 30.96,45.97 C33.39,45.78 35.63,46.15 37.68,47.09 C39.73,48.02 42.16,49.51 43.28,51.57 C44.40,53.62 45.33,57.07 44.40,59.41 C43.47,61.74 40.67,64.45 37.68,65.57 C34.69,66.69 29.47,66.78 26.48,66.13 C23.49,65.47 21.07,63.51 19.76,61.65 C18.45,59.78 18.08,57.17 18.64,54.93 Z" fill="#e4827e"/>
<ellipse cx="6" cy="55" rx="1.5" ry="1.2" fill="#e09090"/>
<ellipse cx="9.5" cy="57.5" rx="1.8" ry="1.2" fill="#e0a0a0"/>
<ellipse cx="12.5" cy="56" rx="1.2" ry="1" fill="#d88888"/>
<ellipse cx="5" cy="59.5" rx="1.2" ry="1" fill="#e09090"/>
<rect x="0" y="0" width="70" height="70" fill="url(#speck)"/>
</g>
<g transform="translate(307.32,617.30) scale(1.0283,0.9843)">
<path d="M29.50,25.50 C30.17,23.38 32.58,21.92 34.80,20.80 C37.02,19.68 40.35,19.80 42.80,18.80 C45.25,17.80 47.72,15.02 49.50,14.80 C51.28,14.58 52.17,15.93 53.50,17.50 C54.83,19.07 56.17,22.20 57.50,24.20 C58.83,26.20 61.07,27.28 61.50,29.50 C61.93,31.72 60.43,34.38 60.10,37.50 C59.77,40.62 59.93,44.87 59.50,48.20 C59.07,51.53 59.17,55.73 57.50,57.50 C55.83,59.27 52.17,58.13 49.50,58.80 C46.83,59.47 43.50,61.93 41.50,61.50 C39.50,61.07 38.83,57.98 37.50,56.20 C36.17,54.42 34.40,53.25 33.50,50.80 C32.60,48.35 32.55,44.38 32.10,41.50 C31.65,38.62 31.23,36.17 30.80,33.50 C30.37,30.83 28.83,27.62 29.50,25.50 Z" fill="#8aa2b8"/>
<path d="M32.74,27.86 C33.27,26.16 35.21,24.99 36.98,24.10 C38.75,23.20 41.42,23.30 43.38,22.50 C45.34,21.70 47.31,19.47 48.74,19.30 C50.17,19.12 50.87,20.20 51.94,21.46 C53.01,22.71 54.07,25.22 55.14,26.82 C56.21,28.42 57.99,29.28 58.34,31.06 C58.69,32.83 57.49,34.96 57.22,37.46 C56.95,39.95 57.09,43.35 56.74,46.02 C56.39,48.68 56.47,52.04 55.14,53.46 C53.81,54.87 50.87,53.96 48.74,54.50 C46.61,55.03 43.94,57.00 42.34,56.66 C40.74,56.31 40.21,53.84 39.14,52.42 C38.07,50.99 36.66,50.06 35.94,48.10 C35.22,46.14 35.18,42.96 34.82,40.66 C34.46,38.35 34.13,36.39 33.78,34.26 C33.43,32.12 32.21,29.55 32.74,27.86 Z" fill="#6d8ea6"/>
<ellipse cx="47" cy="40" rx="7" ry="10" fill="#5c8296" fill-opacity="0.6"/>
<ellipse cx="25" cy="24" rx="5.5" ry="2.5" fill="#8aa2c0" transform="rotate(20 25 24)"/>
<ellipse cx="21" cy="22.5" rx="1.6" ry="1.6" fill="#e05050"/>
<path d="M57,25 L62,14 L65,6" fill="none" stroke="#9db8d8" stroke-width="2.2" stroke-linecap="round"/>
<ellipse cx="63.5" cy="5" rx="1.5" ry="2.6" fill="#7ac060"/>
<ellipse cx="66.5" cy="4.5" rx="1.2" ry="2" fill="#e06060"/>
<ellipse cx="59.5" cy="19" rx="1.6" ry="2.6" fill="#3c64b4" transform="rotate(30 59.5 19)"/>
<ellipse cx="43" cy="14" rx="1.2" ry="2.5" fill="#a8c0e0"/>
<ellipse cx="38.5" cy="59" rx="2.5" ry="3.5" fill="#8cc070"/>
<path d="M10,33 L15,32 M9,38 L16,37 M10,44 L22,44" fill="none" stroke="#aab8d2" stroke-width="1.0" stroke-linecap="round"/>
<ellipse cx="24" cy="43" rx="2" ry="1.6" fill="#5a7ac4"/>
<ellipse cx="34" cy="53" rx="2.2" ry="1.2" fill="#e07a7a"/>
<rect x="0" y="0" width="70" height="70" fill="url(#speck)"/>
</g>
<g transform="translate(307.32,686.20) scale(1.0283,0.9843)">
<path d="M54.80,22.10 C54.80,20.77 56.38,18.80 57.50,16.80 C58.62,14.80 60.40,11.98 61.50,10.10 C62.60,8.22 63.22,6.17 64.10,5.50 C64.98,4.83 66.57,5.10 66.80,6.10 C67.03,7.10 66.38,9.27 65.50,11.50 C64.62,13.73 62.83,17.28 61.50,19.50 C60.17,21.72 58.62,24.37 57.50,24.80 C56.38,25.23 54.80,23.43 54.80,22.10 Z" fill="#a8d494"/>
<ellipse cx="65" cy="6" rx="1.6" ry="2.2" fill="#7cbc62"/>
<path d="M41.50,16.80 C42.38,15.47 43.58,14.32 44.80,14.10 C46.02,13.88 47.58,14.60 48.80,15.50 C50.02,16.40 50.88,18.40 52.10,19.50 C53.32,20.60 54.77,20.77 56.10,22.10 C57.43,23.43 58.98,25.93 60.10,27.50 C61.22,29.07 62.57,29.73 62.80,31.50 C63.03,33.27 61.83,35.67 61.50,38.10 C61.17,40.53 61.13,43.43 60.80,46.10 C60.47,48.77 60.28,51.77 59.50,54.10 C58.72,56.43 57.77,58.77 56.10,60.10 C54.43,61.43 51.72,61.53 49.50,62.10 C47.28,62.67 44.58,63.50 42.80,63.50 C41.02,63.50 39.47,63.67 38.80,62.10 C38.13,60.53 38.58,57.20 38.80,54.10 C39.02,51.00 40.10,47.00 40.10,43.50 C40.10,40.00 38.90,36.67 38.80,33.10 C38.70,29.53 39.05,24.82 39.50,22.10 C39.95,19.38 40.62,18.13 41.50,16.80 Z" fill="#e85e5a"/>
<path d="M30.80,24.80 C31.80,23.47 34.55,22.10 36.10,22.10 C37.65,22.10 39.20,22.57 40.10,24.80 C41.00,27.03 41.50,31.50 41.50,35.50 C41.50,39.50 40.55,44.80 40.10,48.80 C39.65,52.80 39.35,57.50 38.80,59.50 C38.25,61.50 37.47,62.58 36.80,60.80 C36.13,59.02 35.58,52.58 34.80,48.80 C34.02,45.02 32.88,41.22 32.10,38.10 C31.32,34.98 30.32,32.32 30.10,30.10 C29.88,27.88 29.80,26.13 30.80,24.80 Z" fill="#6a86c8"/>
<ellipse cx="39.5" cy="40" rx="2.2" ry="12" fill="#b070a0" fill-opacity="0.45"/>
<ellipse cx="34.1" cy="24.3" rx="3.3" ry="3.2" fill="#eedb3c"/>
<ellipse cx="24.8" cy="24.8" rx="4.7" ry="2.7" fill="#c5aedc" transform="rotate(15 24.8 24.8)"/>
<ellipse cx="43" cy="14" rx="1.2" ry="1.8" fill="#e07070"/>
<path d="M8,28 L13,27 M7,33 L15,32.5 M9,39 L22,39" fill="none" stroke="#d4c0d4" stroke-width="0.9" stroke-linecap="round"/>
<ellipse cx="22" cy="39" rx="1.8" ry="1.2" fill="#c090c8"/>
<ellipse cx="33" cy="56" rx="2.5" ry="1.2" fill="#e08080"/>
<rect x="0" y="0" width="70" height="70" fill="url(#speck)"/>
</g>
<line x1="19.40" y1="616.80" x2="19.40" y2="755.60" stroke="#1e1e1e" stroke-width="1.1" />
<line x1="91.38" y1="616.80" x2="91.38" y2="755.60" stroke="#1e1e1e" stroke-width="1.1" />
<line x1="163.36" y1="616.80" x2="163.36" y2="755.60" stroke="#1e1e1e" stroke-width="1.1" />
<line x1="235.34" y1="616.80" x2="235.34" y2="755.60" stroke="#1e1e1e" stroke-width="1.1" />
<line x1="307.32" y1="616.80" x2="307.32" y2="755.60" stroke="#1e1e1e" stroke-width="1.1" />
<line x1="379.30" y1="616.80" x2="379.30" y2="755.60" stroke="#1e1e1e" stroke-width="1.1" />
<line x1="18.90" y1="617.30" x2="379.80" y2="617.30" stroke="#1e1e1e" stroke-width="1.1" />
<line x1="18.90" y1="686.20" x2="379.80" y2="686.20" stroke="#1e1e1e" stroke-width="1.1" />
<line x1="18.90" y1="755.10" x2="379.80" y2="755.10" stroke="#1e1e1e" stroke-width="1.1" />
<text x="91.00" y="773.00" font-size="10.6" text-anchor="end" textLength="52.00" lengthAdjust="spacingAndGlyphs" >Batch (top)</text>
<text x="91.00" y="791.90" font-size="10.6" text-anchor="end" textLength="87.50" lengthAdjust="spacingAndGlyphs" >Cell type (bottom)</text>
<circle cx="102.30" cy="769.40" r="2.60" fill="#5cb032" />
<text x="108.00" y="772.80" font-size="9.4" >LLL_Ctrl</text>
<circle cx="152.80" cy="769.40" r="2.60" fill="#e02a26" />
<text x="158.50" y="772.80" font-size="9.4" >LLL_Stim</text>
<circle cx="207.70" cy="769.40" r="2.60" fill="#1e47a0" />
<text x="213.40" y="772.80" font-size="9.4" >DIG_Ctrl</text>
<circle cx="260.20" cy="769.40" r="2.60" fill="#84bde8" />
<text x="265.90" y="772.80" font-size="9.4" >DIG_Stim</text>
<circle cx="102.30" cy="788.30" r="2.60" fill="#7fbf63" />
<text x="108.70" y="791.70" font-size="9.4" >B</text>
<circle cx="127.00" cy="788.30" r="2.60" fill="#e8403c" />
<text x="133.40" y="791.7" font-size="9.4">CD4<tspan dy="-3.4" font-size="5.3">+</tspan><tspan dy="3.4"> T</tspan></text>
<circle cx="170.50" cy="788.30" r="2.60" fill="#3d67c2" />
<text x="176.90" y="791.7" font-size="9.4">CD8<tspan dy="-3.4" font-size="5.3">+</tspan><tspan dy="3.4"> T</tspan></text>
<circle cx="213.50" cy="788.30" r="2.60" fill="#a24ca9" />
<text x="219.90" y="791.70" font-size="9.4" >DC</text>
<circle cx="243.80" cy="788.30" r="2.60" fill="#78aee2" />
<text x="250.20" y="791.70" font-size="9.4" >Mono</text>
<circle cx="286.00" cy="788.30" r="2.60" fill="#c3abdb" />
<text x="292.40" y="791.70" font-size="9.4" >NK</text>
<circle cx="314.50" cy="788.30" r="2.60" fill="#1f7a3a" />
<text x="320.90" y="791.70" font-size="9.4" >Other</text>
<circle cx="354.00" cy="788.30" r="2.60" fill="#f2e21e" />
<text x="360.40" y="791.70" font-size="9.4" >Other T</text>
<text x="402.60" y="605.20" font-size="15" font-weight="bold" fill="#000" stroke="#000" stroke-width="0.7">e</text>
<line x1="443.80" y1="743.80" x2="780.80" y2="743.80" stroke="#bccbd8" stroke-width="1.0" />
<text x="439.40" y="746.90" font-size="9.4" text-anchor="end" textLength="19.60" lengthAdjust="spacingAndGlyphs" >0.20</text>
<line x1="443.80" y1="733.48" x2="780.80" y2="733.48" stroke="#bccbd8" stroke-width="1.0" />
<text x="439.40" y="736.58" font-size="9.4" text-anchor="end" textLength="19.60" lengthAdjust="spacingAndGlyphs" >0.25</text>
<line x1="443.80" y1="723.15" x2="780.80" y2="723.15" stroke="#bccbd8" stroke-width="1.0" />
<text x="439.40" y="726.25" font-size="9.4" text-anchor="end" textLength="19.60" lengthAdjust="spacingAndGlyphs" >0.30</text>
<line x1="443.80" y1="712.82" x2="780.80" y2="712.82" stroke="#bccbd8" stroke-width="1.0" />
<text x="439.40" y="715.92" font-size="9.4" text-anchor="end" textLength="19.60" lengthAdjust="spacingAndGlyphs" >0.35</text>
<line x1="443.80" y1="702.50" x2="780.80" y2="702.50" stroke="#bccbd8" stroke-width="1.0" />
<text x="439.40" y="705.60" font-size="9.4" text-anchor="end" textLength="19.60" lengthAdjust="spacingAndGlyphs" >0.40</text>
<line x1="443.80" y1="692.17" x2="780.80" y2="692.17" stroke="#bccbd8" stroke-width="1.0" />
<text x="439.40" y="695.27" font-size="9.4" text-anchor="end" textLength="19.60" lengthAdjust="spacingAndGlyphs" >0.45</text>
<line x1="443.80" y1="681.85" x2="780.80" y2="681.85" stroke="#bccbd8" stroke-width="1.0" />
<text x="439.40" y="684.95" font-size="9.4" text-anchor="end" textLength="19.60" lengthAdjust="spacingAndGlyphs" >0.50</text>
<line x1="443.80" y1="671.52" x2="780.80" y2="671.52" stroke="#bccbd8" stroke-width="1.0" />
<text x="439.40" y="674.62" font-size="9.4" text-anchor="end" textLength="19.60" lengthAdjust="spacingAndGlyphs" >0.55</text>
<line x1="443.80" y1="661.20" x2="780.80" y2="661.20" stroke="#bccbd8" stroke-width="1.0" />
<text x="439.40" y="664.30" font-size="9.4" text-anchor="end" textLength="19.60" lengthAdjust="spacingAndGlyphs" >0.60</text>
<line x1="443.80" y1="650.88" x2="780.80" y2="650.88" stroke="#bccbd8" stroke-width="1.0" />
<text x="439.40" y="653.98" font-size="9.4" text-anchor="end" textLength="19.60" lengthAdjust="spacingAndGlyphs" >0.65</text>
<line x1="443.80" y1="640.55" x2="780.80" y2="640.55" stroke="#bccbd8" stroke-width="1.0" />
<text x="439.40" y="643.65" font-size="9.4" text-anchor="end" textLength="19.60" lengthAdjust="spacingAndGlyphs" >0.70</text>
<line x1="443.80" y1="630.23" x2="780.80" y2="630.23" stroke="#bccbd8" stroke-width="1.0" />
<text x="439.40" y="633.33" font-size="9.4" text-anchor="end" textLength="19.60" lengthAdjust="spacingAndGlyphs" >0.75</text>
<line x1="443.80" y1="619.90" x2="780.80" y2="619.90" stroke="#bccbd8" stroke-width="1.0" />
<text x="439.40" y="623.00" font-size="9.4" text-anchor="end" textLength="19.60" lengthAdjust="spacingAndGlyphs" >0.80</text>
<text x="412.30" y="682.00" font-size="11" text-anchor="middle" textLength="66.30" lengthAdjust="spacingAndGlyphs" transform="rotate(-90 412.30 682.00)" >Overall score</text>
<text x="462.40" y="609.00" font-size="11.2" textLength="36.80" lengthAdjust="spacingAndGlyphs" >Method</text>
<rect x="505.60" y="600.10" width="10.10" height="10.10" fill="#f28a1e" />
<text x="520.00" y="608.60" font-size="9.6" textLength="37.00" lengthAdjust="spacingAndGlyphs" >StabMap</text>
<rect x="565.40" y="600.10" width="10.10" height="10.10" fill="#8e44a8" />
<text x="579.80" y="608.60" font-size="9.6" textLength="34.00" lengthAdjust="spacingAndGlyphs" >scVAEIT</text>
<rect x="621.90" y="600.10" width="10.10" height="10.10" fill="#46ad3c" />
<text x="636.30" y="608.60" font-size="9.6" textLength="40.30" lengthAdjust="spacingAndGlyphs" >scMoMaT</text>
<rect x="684.90" y="600.10" width="10.10" height="10.10" fill="#2f78b9" />
<text x="699.30" y="608.60" font-size="9.6" textLength="42.60" lengthAdjust="spacingAndGlyphs" >Multigrate</text>
<rect x="749.40" y="600.10" width="10.10" height="10.10" fill="#dc2224" />
<text x="763.80" y="608.60" font-size="9.6" textLength="30.00" lengthAdjust="spacingAndGlyphs" >MIDAS</text>
<rect x="456.20" y="635.39" width="4.30" height="108.41" fill="#f28a1e" />
<rect x="461.15" y="653.97" width="4.30" height="89.83" fill="#8e44a8" />
<rect x="466.10" y="636.42" width="4.30" height="107.38" fill="#46ad3c" />
<rect x="471.05" y="636.42" width="4.30" height="107.38" fill="#2f78b9" />
<rect x="476.00" y="621.76" width="4.30" height="122.04" fill="#dc2224" />
<text x="473.30" y="754.50" font-size="9.4" text-anchor="end" transform="rotate(-45 473.30 754.50)" >Dogma-full</text>
<rect x="497.37" y="729.35" width="4.30" height="14.45" fill="#f28a1e" />
<rect x="502.32" y="668.01" width="4.30" height="75.79" fill="#8e44a8" />
<rect x="507.27" y="651.91" width="4.30" height="91.89" fill="#46ad3c" />
<rect x="512.22" y="649.43" width="4.30" height="94.37" fill="#2f78b9" />
<rect x="517.17" y="623.82" width="4.30" height="119.98" fill="#dc2224" />
<text x="514.47" y="754.50" font-size="9.4" text-anchor="end" transform="rotate(-45 514.47 754.50)" >Dogma-paired+full</text>
<rect x="538.54" y="689.08" width="4.30" height="54.72" fill="#f28a1e" />
<rect x="543.49" y="670.49" width="4.30" height="73.31" fill="#8e44a8" />
<rect x="548.44" y="653.35" width="4.30" height="90.45" fill="#46ad3c" />
<rect x="553.39" y="664.30" width="4.30" height="79.50" fill="#2f78b9" />
<rect x="558.34" y="623.82" width="4.30" height="119.98" fill="#dc2224" />
<text x="555.64" y="754.50" font-size="9.4" text-anchor="end" transform="rotate(-45 555.64 754.50)" >Dogma-paired-abc</text>
<rect x="579.71" y="689.08" width="4.30" height="54.72" fill="#f28a1e" />
<rect x="584.66" y="655.00" width="4.30" height="88.79" fill="#8e44a8" />
<rect x="589.61" y="659.13" width="4.30" height="84.66" fill="#46ad3c" />
<rect x="594.56" y="650.88" width="4.30" height="92.92" fill="#2f78b9" />
<rect x="599.51" y="630.23" width="4.30" height="113.57" fill="#dc2224" />
<text x="596.81" y="754.50" font-size="9.4" text-anchor="end" transform="rotate(-45 596.81 754.50)" >Dogma-paired-ab</text>
<rect x="620.88" y="660.17" width="4.30" height="83.63" fill="#f28a1e" />
<rect x="625.83" y="663.26" width="4.30" height="80.53" fill="#8e44a8" />
<rect x="630.78" y="668.43" width="4.30" height="75.37" fill="#46ad3c" />
<rect x="635.73" y="644.06" width="4.30" height="99.74" fill="#2f78b9" />
<rect x="640.68" y="624.44" width="4.30" height="119.36" fill="#dc2224" />
<text x="637.98" y="754.50" font-size="9.4" text-anchor="end" transform="rotate(-45 637.98 754.50)" >Dogma-paired-ac</text>
<rect x="662.05" y="678.75" width="4.30" height="65.05" fill="#f28a1e" />
<rect x="667.00" y="656.04" width="4.30" height="87.76" fill="#8e44a8" />
<rect x="671.95" y="644.06" width="4.30" height="99.74" fill="#46ad3c" />
<rect x="676.90" y="657.69" width="4.30" height="86.11" fill="#2f78b9" />
<rect x="681.85" y="626.51" width="4.30" height="117.29" fill="#dc2224" />
<text x="679.15" y="754.50" font-size="9.4" text-anchor="end" transform="rotate(-45 679.15 754.50)" >Dogma-paired-bc</text>
<rect x="703.22" y="736.16" width="4.30" height="7.64" fill="#f28a1e" />
<rect x="708.17" y="681.85" width="4.30" height="61.95" fill="#8e44a8" />
<rect x="713.12" y="670.91" width="4.30" height="72.89" fill="#46ad3c" />
<rect x="718.07" y="679.17" width="4.30" height="64.63" fill="#2f78b9" />
<rect x="723.02" y="637.87" width="4.30" height="105.93" fill="#dc2224" />
<text x="720.32" y="754.50" font-size="9.4" text-anchor="end" transform="rotate(-45 720.32 754.50)" >Dogma-diagonal+full</text>
<rect x="744.39" y="739.67" width="4.30" height="4.13" fill="#f28a1e" />
<rect x="749.34" y="704.56" width="4.30" height="39.24" fill="#8e44a8" />
<rect x="754.29" y="696.30" width="4.30" height="47.50" fill="#46ad3c" />
<rect x="759.24" y="700.85" width="4.30" height="42.95" fill="#2f78b9" />
<rect x="764.19" y="682.47" width="4.30" height="61.33" fill="#dc2224" />
<text x="761.49" y="754.50" font-size="9.4" text-anchor="end" transform="rotate(-45 761.49 754.50)" >Dogma-diagonal</text>
<text x="613.00" y="823.00" font-size="11" text-anchor="middle" >Task</text>
<text x="0.00" y="841.60" font-size="15" font-weight="bold" fill="#000" stroke="#000" stroke-width="0.7">f</text>
<rect x="43.80" y="845.60" width="249.80" height="187.50" fill="none" stroke="#777" stroke-width="0.9" />
<line x1="41.30" y1="1025.40" x2="43.80" y2="1025.40" stroke="#777" stroke-width="0.9" />
<text x="36.30" y="1028.70" font-size="9.6" text-anchor="end" >0</text>
<line x1="41.30" y1="978.00" x2="43.80" y2="978.00" stroke="#777" stroke-width="0.9" />
<text x="36.30" y="981.30" font-size="9.6" text-anchor="end" textLength="18.50" lengthAdjust="spacingAndGlyphs" >0.25</text>
<line x1="41.30" y1="930.60" x2="43.80" y2="930.60" stroke="#777" stroke-width="0.9" />
<text x="36.30" y="933.90" font-size="9.6" text-anchor="end" textLength="18.50" lengthAdjust="spacingAndGlyphs" >0.50</text>
<line x1="41.30" y1="883.20" x2="43.80" y2="883.20" stroke="#777" stroke-width="0.9" />
<text x="36.30" y="886.50" font-size="9.6" text-anchor="end" textLength="18.50" lengthAdjust="spacingAndGlyphs" >0.75</text>
<line x1="54.50" y1="1033.10" x2="54.50" y2="1035.60" stroke="#777" stroke-width="0.9" />
<text x="54.50" y="1047.40" font-size="9.6" text-anchor="middle" >0</text>
<line x1="128.30" y1="1033.10" x2="128.30" y2="1035.60" stroke="#777" stroke-width="0.9" />
<text x="128.30" y="1047.40" font-size="9.6" text-anchor="middle" textLength="26.20" lengthAdjust="spacingAndGlyphs" >5,000</text>
<line x1="202.10" y1="1033.10" x2="202.10" y2="1035.60" stroke="#777" stroke-width="0.9" />
<text x="202.10" y="1047.40" font-size="9.6" text-anchor="middle" textLength="30.60" lengthAdjust="spacingAndGlyphs" >10,000</text>
<line x1="275.90" y1="1033.10" x2="275.90" y2="1035.60" stroke="#777" stroke-width="0.9" />
<text x="275.90" y="1047.40" font-size="9.6" text-anchor="middle" textLength="29.50" lengthAdjust="spacingAndGlyphs" >15,000</text>
<text x="168.50" y="1062.80" font-size="11.2" text-anchor="middle" textLength="94.20" lengthAdjust="spacingAndGlyphs" >Neighborhood size</text>
<text x="9.40" y="939.30" font-size="10.8" text-anchor="middle" textLength="110.00" lengthAdjust="spacingAndGlyphs" transform="rotate(-90 9.40 939.30)" >Neighborhood overlap</text>
<path d="M54.50,1025.40 L55.98,943.87 L57.45,930.60 L61.88,918.28 L69.26,906.90 L84.02,895.52 L128.30,879.41 L202.10,867.27 L275.90,860.83" fill="none" stroke="#1fb593" stroke-width="1.5" stroke-linejoin="round"/>
<path d="M54.50,1025.40 L55.98,941.98 L57.45,928.70 L61.88,916.95 L69.26,905.57 L84.02,894.58 L128.30,878.46 L202.10,866.89 L275.90,860.45" fill="none" stroke="#1ea9e1" stroke-width="1.5" stroke-linejoin="round"/>
<path d="M54.50,1025.40 L55.98,945.77 L57.45,932.50 L61.88,920.17 L69.26,909.74 L84.02,898.94 L128.30,881.68 L202.10,868.41 L275.90,861.59" fill="none" stroke="#c9a024" stroke-width="1.5" stroke-linejoin="round"/>
<path d="M54.50,1025.40 L55.98,957.14 L57.45,943.87 L61.88,932.50 L69.26,920.74 L84.02,907.85 L128.30,889.84 L202.10,876.56 L275.90,868.03" fill="none" stroke="#48b23c" stroke-width="1.5" stroke-linejoin="round"/>
<path d="M54.50,1025.40 L55.98,968.52 L57.45,957.14 L61.88,945.77 L69.26,933.82 L84.02,918.47 L128.30,896.47 L202.10,880.92 L275.90,871.07" fill="none" stroke="#f26b64" stroke-width="1.5" stroke-linejoin="round"/>
<path d="M54.50,1025.40 L55.98,974.21 L57.45,962.83 L61.88,951.46 L69.26,940.46 L84.02,924.53 L128.30,900.45 L202.10,882.25 L275.90,873.72" fill="none" stroke="#d957b4" stroke-width="1.5" stroke-linejoin="round"/>
<path d="M54.50,1025.40 L55.98,1009.28 L57.45,1005.49 L61.88,996.96 L69.26,987.48 L84.02,976.10 L128.30,958.09 L202.10,935.34 L275.90,913.16" fill="none" stroke="#9182d6" stroke-width="1.5" stroke-linejoin="round"/>
<text x="240.70" y="939.80" font-size="12" text-anchor="middle" >Group</text>
<rect x="189.10" y="942.30" width="11.20" height="80.70" fill="#ececec" />
<line x1="190.50" y1="947.50" x2="199.20" y2="947.50" stroke="#1fb593" stroke-width="1.6" />
<text x="204.10" y="950.80" font-size="9.4" >Dogma-paired-bc</text>
<line x1="190.50" y1="959.13" x2="199.20" y2="959.13" stroke="#1ea9e1" stroke-width="1.6" />
<text x="204.10" y="962.43" font-size="9.4" >Dogma-paired+full</text>
<line x1="190.50" y1="970.76" x2="199.20" y2="970.76" stroke="#c9a024" stroke-width="1.6" />
<text x="204.10" y="974.06" font-size="9.4" >Dogma-paired-abc</text>
<line x1="190.50" y1="982.39" x2="199.20" y2="982.39" stroke="#48b23c" stroke-width="1.6" />
<text x="204.10" y="985.69" font-size="9.4" >Dogma-paired-ac</text>
<line x1="190.50" y1="994.02" x2="199.20" y2="994.02" stroke="#f26b64" stroke-width="1.6" />
<text x="204.10" y="997.32" font-size="9.4" >Dogma-paired-ab</text>
<line x1="190.50" y1="1005.65" x2="199.20" y2="1005.65" stroke="#d957b4" stroke-width="1.6" />
<text x="204.10" y="1008.95" font-size="9.4" >Dogma-diagonal+full</text>
<line x1="190.50" y1="1017.28" x2="199.20" y2="1017.28" stroke="#9182d6" stroke-width="1.6" />
<text x="204.10" y="1020.58" font-size="9.4" >Dogma-diagonal</text>
<text x="305.60" y="842.70" font-size="15" font-weight="bold" fill="#000" stroke="#000" stroke-width="0.7">g</text>
<rect x="347.90" y="842.70" width="186.90" height="190.30" fill="none" stroke="#777" stroke-width="0.9" />
<line x1="345.40" y1="1022.40" x2="347.90" y2="1022.40" stroke="#777" stroke-width="0.9" />
<text x="341.30" y="1025.70" font-size="9.6" text-anchor="end" >0</text>
<line x1="345.40" y1="967.20" x2="347.90" y2="967.20" stroke="#777" stroke-width="0.9" />
<text x="341.30" y="970.50" font-size="9.6" text-anchor="end" textLength="18.00" lengthAdjust="spacingAndGlyphs" >200</text>
<line x1="345.40" y1="912.00" x2="347.90" y2="912.00" stroke="#777" stroke-width="0.9" />
<text x="341.30" y="915.30" font-size="9.6" text-anchor="end" textLength="18.00" lengthAdjust="spacingAndGlyphs" >400</text>
<line x1="345.40" y1="856.80" x2="347.90" y2="856.80" stroke="#777" stroke-width="0.9" />
<text x="341.30" y="860.10" font-size="9.6" text-anchor="end" textLength="18.00" lengthAdjust="spacingAndGlyphs" >600</text>
<line x1="356.00" y1="1033.00" x2="356.00" y2="1035.50" stroke="#777" stroke-width="0.9" />
<text x="356.00" y="1047.60" font-size="9.6" text-anchor="middle" >0</text>
<line x1="417.40" y1="1033.00" x2="417.40" y2="1035.50" stroke="#777" stroke-width="0.9" />
<text x="417.40" y="1047.60" font-size="9.6" text-anchor="middle" textLength="18.00" lengthAdjust="spacingAndGlyphs" >200</text>
<line x1="478.80" y1="1033.00" x2="478.80" y2="1035.50" stroke="#777" stroke-width="0.9" />
<text x="478.80" y="1047.60" font-size="9.6" text-anchor="middle" textLength="18.00" lengthAdjust="spacingAndGlyphs" >400</text>
<text x="439.40" y="1061.50" font-size="11.2" text-anchor="middle" >Dogma-full DIG_Ctrl</text>
<text x="314.00" y="937.00" font-size="11.2" text-anchor="middle" transform="rotate(-90 314.00 937.00)" >Dogma-paired-abc DIG_Ctrl</text>
<path d="M356.10,1024.30 C354.43,1022.44 355.82,1008.07 356.10,1005.70 C356.38,1003.33 357.99,1001.49 358.90,1000.60 C359.81,999.71 363.81,997.56 365.20,996.80 C366.59,996.04 371.54,993.63 372.80,993.00 C374.06,992.37 376.92,990.50 377.80,990.50 C378.68,990.50 381.34,992.12 381.60,993.00 C381.86,993.88 380.90,997.78 380.40,999.30 C379.90,1000.82 377.24,1006.55 376.60,1008.20 C375.96,1009.85 374.38,1014.19 374.00,1015.80 C373.62,1017.41 374.59,1023.45 372.80,1024.30 C371.01,1025.15 357.77,1026.16 356.10,1024.30 Z" fill="#0c0c0c"/>
<path d="M393.1,971.9h.8v.8h-.8zM411.8,940.1h.8v.8h-.8zM385.2,996.0h.8v.8h-.8zM378.2,1022.4h.8v.8h-.8zM388.6,990.0h.8v.8h-.8zM375.9,1010.8h.8v.8h-.8zM383.6,999.9h.8v.8h-.8zM375.7,1011.1h.8v.8h-.8zM392.3,999.9h.8v.8h-.8zM423.7,978.8h.8v.8h-.8zM377.2,1007.1h.8v.8h-.8zM378.7,1016.4h.8v.8h-.8zM374.9,1020.3h.8v.8h-.8zM375.5,1022.4h.8v.8h-.8zM375.5,1012.4h.8v.8h-.8zM393.0,993.7h.8v.8h-.8zM385.3,1011.3h.8v.8h-.8zM356.1,1022.4h.8v.8h-.8zM377.8,986.5h.8v.8h-.8zM382.6,1011.9h.8v.8h-.8zM390.9,1010.1h.8v.8h-.8zM378.2,1009.6h.8v.8h-.8zM382.8,1021.5h.8v.8h-.8zM385.0,989.3h.8v.8h-.8zM379.9,990.4h.8v.8h-.8zM398.7,959.2h.8v.8h-.8zM383.9,995.4h.8v.8h-.8zM356.1,1022.4h.8v.8h-.8zM439.7,970.4h.8v.8h-.8zM392.1,973.8h.8v.8h-.8zM405.0,996.1h.8v.8h-.8zM380.5,1003.1h.8v.8h-.8zM377.0,1011.5h.8v.8h-.8zM368.7,994.0h.8v.8h-.8zM382.6,989.7h.8v.8h-.8zM389.3,991.9h.8v.8h-.8zM381.5,988.3h.8v.8h-.8zM411.7,946.2h.8v.8h-.8zM379.1,984.0h.8v.8h-.8zM387.8,999.7h.8v.8h-.8zM399.4,965.5h.8v.8h-.8zM398.6,985.1h.8v.8h-.8zM374.7,1016.1h.8v.8h-.8zM401.9,983.2h.8v.8h-.8zM356.0,1020.1h.8v.8h-.8zM378.9,988.4h.8v.8h-.8zM387.4,986.9h.8v.8h-.8zM356.1,1017.3h.8v.8h-.8zM382.7,1012.4h.8v.8h-.8zM379.3,1010.7h.8v.8h-.8zM393.0,984.8h.8v.8h-.8zM377.5,1010.4h.8v.8h-.8zM382.7,1003.8h.8v.8h-.8zM380.4,1008.0h.8v.8h-.8zM389.5,991.0h.8v.8h-.8zM400.6,951.8h.8v.8h-.8zM381.8,974.5h.8v.8h-.8zM404.1,996.3h.8v.8h-.8zM378.3,990.2h.8v.8h-.8zM356.0,1022.4h.8v.8h-.8zM390.9,990.8h.8v.8h-.8zM405.6,950.2h.8v.8h-.8zM393.5,992.7h.8v.8h-.8zM396.5,971.9h.8v.8h-.8zM377.9,1005.8h.8v.8h-.8zM388.5,981.0h.8v.8h-.8zM395.4,978.3h.8v.8h-.8zM392.6,992.1h.8v.8h-.8zM374.4,1018.8h.8v.8h-.8zM381.4,1009.5h.8v.8h-.8zM390.2,996.7h.8v.8h-.8zM379.2,989.4h.8v.8h-.8zM384.6,1010.4h.8v.8h-.8zM382.3,997.0h.8v.8h-.8zM375.5,1017.3h.8v.8h-.8zM390.7,986.7h.8v.8h-.8zM387.9,998.7h.8v.8h-.8zM386.6,992.1h.8v.8h-.8zM380.9,997.1h.8v.8h-.8zM402.6,971.1h.8v.8h-.8zM410.0,956.7h.8v.8h-.8zM381.7,1004.5h.8v.8h-.8zM385.5,983.5h.8v.8h-.8zM383.7,1010.0h.8v.8h-.8zM384.0,986.2h.8v.8h-.8zM386.3,996.0h.8v.8h-.8zM377.7,1013.2h.8v.8h-.8zM396.6,988.8h.8v.8h-.8zM382.1,1005.7h.8v.8h-.8zM404.5,987.6h.8v.8h-.8zM381.0,1011.3h.8v.8h-.8zM390.5,1010.1h.8v.8h-.8zM401.2,1002.8h.8v.8h-.8zM398.2,992.3h.8v.8h-.8zM376.8,1018.5h.8v.8h-.8zM386.6,1008.5h.8v.8h-.8zM387.2,988.6h.8v.8h-.8zM383.0,1008.4h.8v.8h-.8zM377.6,1007.0h.8v.8h-.8zM356.1,1022.4h.8v.8h-.8zM356.1,1018.3h.8v.8h-.8zM394.1,992.8h.8v.8h-.8zM380.1,1008.6h.8v.8h-.8zM379.5,1004.4h.8v.8h-.8zM380.3,991.4h.8v.8h-.8zM392.3,998.4h.8v.8h-.8zM390.3,1001.4h.8v.8h-.8zM378.1,1011.8h.8v.8h-.8zM379.7,1010.3h.8v.8h-.8zM382.5,1010.8h.8v.8h-.8zM382.0,1000.4h.8v.8h-.8zM389.1,998.2h.8v.8h-.8zM390.4,1017.3h.8v.8h-.8zM383.6,980.5h.8v.8h-.8zM381.2,1007.9h.8v.8h-.8zM380.7,1016.0h.8v.8h-.8zM382.8,996.5h.8v.8h-.8zM381.7,994.2h.8v.8h-.8zM383.1,992.1h.8v.8h-.8zM382.6,997.2h.8v.8h-.8zM391.1,971.4h.8v.8h-.8zM373.7,989.7h.8v.8h-.8zM394.4,975.2h.8v.8h-.8zM356.0,1022.4h.8v.8h-.8zM377.5,1009.1h.8v.8h-.8zM382.9,992.8h.8v.8h-.8zM378.9,1022.4h.8v.8h-.8zM378.3,1013.5h.8v.8h-.8zM380.8,1002.1h.8v.8h-.8zM394.7,1007.4h.8v.8h-.8zM375.0,1018.4h.8v.8h-.8zM382.3,1010.2h.8v.8h-.8zM384.0,1015.6h.8v.8h-.8zM385.4,988.1h.8v.8h-.8zM381.7,1003.8h.8v.8h-.8zM410.6,952.7h.8v.8h-.8zM393.9,993.9h.8v.8h-.8zM402.6,966.1h.8v.8h-.8zM396.1,971.8h.8v.8h-.8zM384.3,997.7h.8v.8h-.8zM386.7,998.9h.8v.8h-.8zM378.7,1004.3h.8v.8h-.8zM375.0,990.1h.8v.8h-.8zM375.6,987.7h.8v.8h-.8zM398.7,945.9h.8v.8h-.8zM385.2,1005.3h.8v.8h-.8zM385.2,986.3h.8v.8h-.8zM387.8,982.3h.8v.8h-.8zM356.1,1020.0h.8v.8h-.8zM376.1,1011.0h.8v.8h-.8zM381.9,993.0h.8v.8h-.8zM391.9,995.9h.8v.8h-.8zM385.4,985.3h.8v.8h-.8zM376.3,1010.3h.8v.8h-.8zM419.5,950.8h.8v.8h-.8zM385.7,1008.3h.8v.8h-.8zM356.0,1022.3h.8v.8h-.8zM356.0,1022.4h.8v.8h-.8zM399.8,973.3h.8v.8h-.8zM381.2,1017.4h.8v.8h-.8zM387.7,1001.0h.8v.8h-.8zM375.8,1014.2h.8v.8h-.8zM398.9,980.8h.8v.8h-.8zM379.3,1009.6h.8v.8h-.8zM428.8,936.5h.8v.8h-.8zM381.2,1002.3h.8v.8h-.8zM379.7,1003.8h.8v.8h-.8zM383.4,1004.1h.8v.8h-.8zM389.8,996.6h.8v.8h-.8zM379.4,1004.1h.8v.8h-.8zM389.0,987.8h.8v.8h-.8zM400.4,1008.7h.8v.8h-.8zM384.9,1006.5h.8v.8h-.8zM356.0,1022.4h.8v.8h-.8zM356.0,1017.1h.8v.8h-.8zM378.2,1006.8h.8v.8h-.8zM382.3,997.6h.8v.8h-.8zM385.5,1002.6h.8v.8h-.8zM381.6,985.9h.8v.8h-.8zM377.0,1008.4h.8v.8h-.8zM381.1,1002.1h.8v.8h-.8zM381.1,988.3h.8v.8h-.8zM380.7,1012.3h.8v.8h-.8zM400.2,983.7h.8v.8h-.8zM377.0,989.4h.8v.8h-.8zM388.8,975.7h.8v.8h-.8zM388.6,997.9h.8v.8h-.8zM383.6,973.2h.8v.8h-.8zM379.9,991.7h.8v.8h-.8zM356.0,1022.4h.8v.8h-.8zM385.6,1007.3h.8v.8h-.8zM394.9,1007.9h.8v.8h-.8zM399.2,1011.8h.8v.8h-.8zM400.9,970.5h.8v.8h-.8zM390.9,1001.0h.8v.8h-.8zM397.8,983.6h.8v.8h-.8zM387.8,997.3h.8v.8h-.8zM377.7,985.7h.8v.8h-.8zM379.4,1002.4h.8v.8h-.8zM386.5,994.5h.8v.8h-.8zM384.7,998.7h.8v.8h-.8zM379.7,1005.1h.8v.8h-.8zM382.2,998.6h.8v.8h-.8zM382.5,1004.7h.8v.8h-.8zM376.5,1012.7h.8v.8h-.8zM380.8,992.0h.8v.8h-.8zM392.2,1009.7h.8v.8h-.8zM383.0,990.7h.8v.8h-.8zM384.4,1003.1h.8v.8h-.8zM393.0,1022.4h.8v.8h-.8zM356.1,1016.3h.8v.8h-.8zM387.9,1006.4h.8v.8h-.8zM378.2,1005.3h.8v.8h-.8zM407.8,994.0h.8v.8h-.8zM404.4,990.6h.8v.8h-.8zM382.5,1001.5h.8v.8h-.8zM356.1,1022.4h.8v.8h-.8zM386.8,995.9h.8v.8h-.8zM375.6,990.5h.8v.8h-.8zM388.9,1009.4h.8v.8h-.8zM383.8,983.7h.8v.8h-.8zM389.2,974.4h.8v.8h-.8zM382.6,1004.8h.8v.8h-.8zM377.4,1011.4h.8v.8h-.8zM377.1,1009.0h.8v.8h-.8zM384.0,1003.3h.8v.8h-.8zM389.8,1003.6h.8v.8h-.8zM378.6,1017.7h.8v.8h-.8zM380.5,1010.6h.8v.8h-.8zM356.1,1018.9h.8v.8h-.8zM384.7,1003.5h.8v.8h-.8zM385.1,987.6h.8v.8h-.8zM382.0,991.7h.8v.8h-.8zM460.8,955.3h.8v.8h-.8zM382.1,1012.6h.8v.8h-.8zM403.9,964.8h.8v.8h-.8zM387.8,1012.2h.8v.8h-.8zM374.2,1017.3h.8v.8h-.8zM383.9,1002.3h.8v.8h-.8zM383.9,1003.8h.8v.8h-.8zM384.9,990.6h.8v.8h-.8zM388.4,981.4h.8v.8h-.8zM382.1,1011.0h.8v.8h-.8zM385.6,1004.2h.8v.8h-.8zM379.0,1003.3h.8v.8h-.8zM378.8,1021.6h.8v.8h-.8zM384.4,980.9h.8v.8h-.8zM385.4,979.9h.8v.8h-.8zM356.1,1022.4h.8v.8h-.8zM376.0,986.9h.8v.8h-.8zM397.8,974.9h.8v.8h-.8zM379.7,985.0h.8v.8h-.8zM387.1,998.2h.8v.8h-.8zM390.6,978.0h.8v.8h-.8zM384.9,997.7h.8v.8h-.8zM382.0,995.5h.8v.8h-.8zM384.1,993.4h.8v.8h-.8zM384.3,990.6h.8v.8h-.8zM374.1,1018.1h.8v.8h-.8zM356.1,1022.4h.8v.8h-.8zM404.0,984.6h.8v.8h-.8zM390.9,975.0h.8v.8h-.8zM415.0,964.0h.8v.8h-.8zM394.4,996.3h.8v.8h-.8zM385.3,994.4h.8v.8h-.8zM381.4,1004.2h.8v.8h-.8zM356.0,1021.6h.8v.8h-.8zM387.9,988.6h.8v.8h-.8zM399.7,997.2h.8v.8h-.8zM378.7,1005.4h.8v.8h-.8zM382.8,1013.5h.8v.8h-.8zM384.1,1007.7h.8v.8h-.8zM399.8,982.8h.8v.8h-.8zM378.2,988.7h.8v.8h-.8zM383.3,999.9h.8v.8h-.8zM375.1,1015.2h.8v.8h-.8zM389.6,981.3h.8v.8h-.8zM382.3,1007.1h.8v.8h-.8zM356.0,1022.4h.8v.8h-.8zM394.4,985.7h.8v.8h-.8zM364.2,996.8h.8v.8h-.8zM398.3,973.7h.8v.8h-.8zM383.6,995.3h.8v.8h-.8zM394.6,981.9h.8v.8h-.8zM386.7,976.8h.8v.8h-.8zM388.5,1002.3h.8v.8h-.8zM381.1,999.6h.8v.8h-.8zM374.8,987.9h.8v.8h-.8zM375.0,1022.4h.8v.8h-.8zM378.0,1006.1h.8v.8h-.8zM378.3,985.2h.8v.8h-.8zM386.8,997.9h.8v.8h-.8zM391.3,986.7h.8v.8h-.8zM386.7,995.5h.8v.8h-.8zM389.2,980.3h.8v.8h-.8zM381.9,1009.1h.8v.8h-.8zM392.7,1002.6h.8v.8h-.8zM377.4,1007.6h.8v.8h-.8zM379.4,1001.7h.8v.8h-.8zM376.4,1011.8h.8v.8h-.8zM379.4,987.4h.8v.8h-.8zM375.6,989.1h.8v.8h-.8zM385.5,998.7h.8v.8h-.8zM388.5,988.4h.8v.8h-.8zM381.3,1002.9h.8v.8h-.8zM382.4,996.8h.8v.8h-.8zM381.8,1017.2h.8v.8h-.8zM382.6,1017.6h.8v.8h-.8zM393.1,989.5h.8v.8h-.8zM356.1,1019.1h.8v.8h-.8zM377.4,1011.6h.8v.8h-.8zM378.4,1013.6h.8v.8h-.8zM377.6,1018.3h.8v.8h-.8zM376.1,1013.7h.8v.8h-.8zM382.3,1009.5h.8v.8h-.8zM375.1,1020.2h.8v.8h-.8zM356.1,1019.6h.8v.8h-.8zM388.8,1009.0h.8v.8h-.8zM381.6,1000.0h.8v.8h-.8zM392.2,979.1h.8v.8h-.8zM394.7,990.1h.8v.8h-.8zM378.0,1017.1h.8v.8h-.8zM413.0,943.2h.8v.8h-.8zM404.5,983.4h.8v.8h-.8zM379.1,1002.9h.8v.8h-.8zM378.0,989.9h.8v.8h-.8zM384.0,988.0h.8v.8h-.8zM382.3,991.2h.8v.8h-.8zM381.2,996.5h.8v.8h-.8zM356.1,1017.9h.8v.8h-.8zM398.2,984.6h.8v.8h-.8zM383.8,1002.8h.8v.8h-.8zM385.5,990.8h.8v.8h-.8zM375.9,1012.6h.8v.8h-.8zM380.3,1007.5h.8v.8h-.8zM376.4,984.2h.8v.8h-.8zM380.3,1006.4h.8v.8h-.8zM397.0,996.1h.8v.8h-.8zM398.9,938.6h.8v.8h-.8zM386.4,981.1h.8v.8h-.8zM401.0,1002.5h.8v.8h-.8zM382.3,1001.0h.8v.8h-.8zM387.6,984.6h.8v.8h-.8zM409.8,986.8h.8v.8h-.8zM388.0,972.8h.8v.8h-.8zM385.5,981.2h.8v.8h-.8zM423.7,921.2h.8v.8h-.8zM391.3,984.7h.8v.8h-.8zM385.3,983.3h.8v.8h-.8zM374.7,1016.5h.8v.8h-.8zM383.7,992.6h.8v.8h-.8zM391.0,1007.0h.8v.8h-.8zM378.5,1007.7h.8v.8h-.8zM397.2,967.7h.8v.8h-.8zM391.5,982.8h.8v.8h-.8zM379.6,1015.1h.8v.8h-.8zM376.6,1010.1h.8v.8h-.8zM356.1,1022.4h.8v.8h-.8zM388.0,969.2h.8v.8h-.8zM380.9,998.7h.8v.8h-.8zM412.8,1000.9h.8v.8h-.8zM380.7,998.5h.8v.8h-.8zM381.8,1000.4h.8v.8h-.8zM391.0,987.6h.8v.8h-.8zM380.5,982.6h.8v.8h-.8zM378.8,1011.4h.8v.8h-.8zM393.5,1005.5h.8v.8h-.8zM378.7,990.2h.8v.8h-.8zM391.5,972.2h.8v.8h-.8zM392.9,988.5h.8v.8h-.8zM387.7,994.4h.8v.8h-.8zM384.5,995.0h.8v.8h-.8zM356.1,1022.4h.8v.8h-.8zM383.1,1009.3h.8v.8h-.8zM377.0,1015.6h.8v.8h-.8zM394.1,979.5h.8v.8h-.8zM390.5,969.3h.8v.8h-.8zM406.1,987.2h.8v.8h-.8zM374.0,1022.3h.8v.8h-.8zM382.6,986.0h.8v.8h-.8zM381.3,1020.7h.8v.8h-.8zM380.1,1019.9h.8v.8h-.8zM356.1,1022.4h.8v.8h-.8zM377.3,1009.5h.8v.8h-.8zM395.3,1015.2h.8v.8h-.8zM387.9,996.3h.8v.8h-.8zM402.7,978.9h.8v.8h-.8zM388.3,1019.4h.8v.8h-.8zM368.4,990.5h.8v.8h-.8zM356.1,1019.9h.8v.8h-.8zM379.0,988.0h.8v.8h-.8zM383.2,1009.0h.8v.8h-.8zM389.9,1010.6h.8v.8h-.8zM380.9,1007.6h.8v.8h-.8zM397.8,990.3h.8v.8h-.8zM356.0,1020.2h.8v.8h-.8zM376.7,1014.6h.8v.8h-.8zM388.7,995.7h.8v.8h-.8zM384.7,1002.4h.8v.8h-.8zM373.9,1022.4h.8v.8h-.8zM376.1,1018.8h.8v.8h-.8zM378.9,1008.3h.8v.8h-.8zM390.5,976.1h.8v.8h-.8zM384.4,996.1h.8v.8h-.8zM377.0,1009.5h.8v.8h-.8zM388.1,1001.2h.8v.8h-.8zM381.5,1009.3h.8v.8h-.8zM393.1,996.9h.8v.8h-.8zM381.9,997.3h.8v.8h-.8zM376.2,989.5h.8v.8h-.8zM376.6,1013.7h.8v.8h-.8zM379.1,987.5h.8v.8h-.8zM400.1,978.4h.8v.8h-.8zM356.0,1022.4h.8v.8h-.8zM398.3,965.2h.8v.8h-.8zM396.8,983.3h.8v.8h-.8zM356.1,1020.9h.8v.8h-.8zM389.8,979.4h.8v.8h-.8zM379.3,1009.1h.8v.8h-.8zM384.9,998.6h.8v.8h-.8zM384.8,983.6h.8v.8h-.8zM388.4,1004.5h.8v.8h-.8zM394.2,999.9h.8v.8h-.8zM356.0,1019.3h.8v.8h-.8zM385.6,987.4h.8v.8h-.8zM380.4,987.0h.8v.8h-.8zM391.5,979.7h.8v.8h-.8zM388.6,998.0h.8v.8h-.8zM393.1,997.2h.8v.8h-.8zM389.6,987.3h.8v.8h-.8zM389.5,979.5h.8v.8h-.8zM418.2,929.5h.8v.8h-.8zM380.4,1009.8h.8v.8h-.8zM380.5,1008.4h.8v.8h-.8zM378.8,1010.8h.8v.8h-.8zM382.1,997.9h.8v.8h-.8zM381.7,1011.7h.8v.8h-.8zM375.5,988.2h.8v.8h-.8zM388.3,1008.8h.8v.8h-.8zM379.8,1008.9h.8v.8h-.8zM383.6,1003.0h.8v.8h-.8zM380.5,1005.2h.8v.8h-.8zM384.4,995.2h.8v.8h-.8zM378.5,1005.2h.8v.8h-.8zM356.0,1022.4h.8v.8h-.8zM381.7,990.0h.8v.8h-.8zM387.2,1022.4h.8v.8h-.8zM382.3,999.1h.8v.8h-.8zM379.9,1018.2h.8v.8h-.8zM381.1,987.0h.8v.8h-.8zM390.2,991.7h.8v.8h-.8zM383.1,1016.2h.8v.8h-.8zM374.1,988.8h.8v.8h-.8zM382.9,1002.1h.8v.8h-.8zM374.9,1020.7h.8v.8h-.8zM380.1,1001.3h.8v.8h-.8zM378.8,1012.5h.8v.8h-.8zM381.5,1007.5h.8v.8h-.8zM378.8,1011.0h.8v.8h-.8zM381.9,1000.3h.8v.8h-.8zM387.7,1000.8h.8v.8h-.8zM392.4,995.7h.8v.8h-.8zM397.8,1010.8h.8v.8h-.8zM356.1,1022.4h.8v.8h-.8zM396.7,977.4h.8v.8h-.8zM394.4,997.8h.8v.8h-.8zM374.4,1016.0h.8v.8h-.8zM395.8,998.5h.8v.8h-.8zM393.9,992.6h.8v.8h-.8zM384.2,995.7h.8v.8h-.8zM396.1,999.9h.8v.8h-.8zM356.0,1022.4h.8v.8h-.8zM356.1,1022.4h.8v.8h-.8zM385.7,993.9h.8v.8h-.8zM382.4,991.4h.8v.8h-.8zM406.7,951.9h.8v.8h-.8zM381.4,1009.1h.8v.8h-.8zM379.5,1013.6h.8v.8h-.8zM390.1,1005.4h.8v.8h-.8zM380.0,1008.3h.8v.8h-.8zM380.2,1010.9h.8v.8h-.8zM391.1,998.7h.8v.8h-.8zM383.7,1004.6h.8v.8h-.8zM399.5,977.5h.8v.8h-.8zM379.9,1002.0h.8v.8h-.8zM381.6,987.4h.8v.8h-.8zM377.0,988.9h.8v.8h-.8zM388.7,1000.8h.8v.8h-.8zM356.1,1020.7h.8v.8h-.8zM356.0,1022.4h.8v.8h-.8zM374.7,1019.8h.8v.8h-.8zM393.9,989.0h.8v.8h-.8zM383.4,995.2h.8v.8h-.8zM382.1,1001.3h.8v.8h-.8zM386.0,1007.1h.8v.8h-.8zM401.6,985.7h.8v.8h-.8zM395.8,982.1h.8v.8h-.8zM371.9,991.0h.8v.8h-.8zM356.0,1022.4h.8v.8h-.8zM374.0,991.0h.8v.8h-.8zM375.0,1021.6h.8v.8h-.8zM385.8,987.6h.8v.8h-.8zM386.2,1013.6h.8v.8h-.8zM356.0,1021.9h.8v.8h-.8zM379.7,979.4h.8v.8h-.8zM395.1,1002.1h.8v.8h-.8zM377.8,1006.9h.8v.8h-.8zM379.5,983.9h.8v.8h-.8zM377.2,1016.0h.8v.8h-.8zM385.4,1004.3h.8v.8h-.8zM380.7,1009.1h.8v.8h-.8zM382.9,1002.0h.8v.8h-.8zM414.2,962.5h.8v.8h-.8zM377.2,1008.4h.8v.8h-.8zM413.8,988.7h.8v.8h-.8zM401.1,972.3h.8v.8h-.8zM374.7,1014.8h.8v.8h-.8zM356.0,1022.4h.8v.8h-.8zM383.0,1004.8h.8v.8h-.8zM386.7,983.2h.8v.8h-.8zM394.3,961.9h.8v.8h-.8zM396.3,974.3h.8v.8h-.8zM396.1,964.2h.8v.8h-.8zM398.9,983.9h.8v.8h-.8zM394.6,986.7h.8v.8h-.8zM380.5,991.8h.8v.8h-.8zM375.4,1015.8h.8v.8h-.8zM390.1,964.1h.8v.8h-.8zM392.2,998.0h.8v.8h-.8zM374.5,984.3h.8v.8h-.8zM378.6,1022.4h.8v.8h-.8zM376.9,990.4h.8v.8h-.8zM356.0,1018.1h.8v.8h-.8zM374.8,984.9h.8v.8h-.8zM378.8,1008.4h.8v.8h-.8zM378.3,1013.3h.8v.8h-.8zM356.0,1021.4h.8v.8h-.8zM356.0,1020.6h.8v.8h-.8zM389.7,988.8h.8v.8h-.8zM409.2,991.5h.8v.8h-.8zM388.5,975.0h.8v.8h-.8zM381.3,988.6h.8v.8h-.8zM377.9,1019.1h.8v.8h-.8zM388.6,989.3h.8v.8h-.8zM371.6,991.8h.8v.8h-.8zM376.8,1012.4h.8v.8h-.8zM394.4,986.4h.8v.8h-.8zM383.6,997.2h.8v.8h-.8zM386.0,980.2h.8v.8h-.8zM386.3,991.9h.8v.8h-.8zM383.5,998.5h.8v.8h-.8zM382.8,999.3h.8v.8h-.8zM392.8,991.5h.8v.8h-.8zM373.2,991.9h.8v.8h-.8zM384.8,1000.4h.8v.8h-.8zM386.4,991.9h.8v.8h-.8zM373.9,1022.4h.8v.8h-.8zM389.1,980.7h.8v.8h-.8zM376.7,990.9h.8v.8h-.8zM370.6,993.5h.8v.8h-.8zM356.0,1020.8h.8v.8h-.8zM389.7,995.4h.8v.8h-.8zM391.5,985.4h.8v.8h-.8zM402.1,1004.3h.8v.8h-.8zM377.3,1007.2h.8v.8h-.8zM378.3,1006.7h.8v.8h-.8zM356.0,1022.4h.8v.8h-.8zM383.2,1003.6h.8v.8h-.8zM397.1,982.6h.8v.8h-.8zM384.9,1012.8h.8v.8h-.8zM386.1,1009.1h.8v.8h-.8zM382.7,992.0h.8v.8h-.8zM391.1,1004.4h.8v.8h-.8zM388.5,978.4h.8v.8h-.8zM379.4,1015.5h.8v.8h-.8zM356.1,1022.4h.8v.8h-.8zM356.0,1022.4h.8v.8h-.8zM356.1,1021.6h.8v.8h-.8zM381.6,1002.4h.8v.8h-.8zM383.6,991.6h.8v.8h-.8zM381.0,1006.3h.8v.8h-.8zM382.7,1000.8h.8v.8h-.8zM378.0,1006.5h.8v.8h-.8zM394.5,1002.9h.8v.8h-.8zM389.3,988.4h.8v.8h-.8zM399.0,977.4h.8v.8h-.8zM383.0,1002.5h.8v.8h-.8zM378.5,1006.2h.8v.8h-.8zM383.2,992.5h.8v.8h-.8zM383.6,999.0h.8v.8h-.8zM382.5,1011.1h.8v.8h-.8zM377.3,1007.0h.8v.8h-.8zM381.1,1013.7h.8v.8h-.8zM384.9,997.4h.8v.8h-.8zM382.7,1011.1h.8v.8h-.8zM384.5,1000.4h.8v.8h-.8zM356.0,1022.4h.8v.8h-.8zM377.5,1007.7h.8v.8h-.8zM378.5,989.7h.8v.8h-.8zM389.0,987.4h.8v.8h-.8zM387.0,1008.4h.8v.8h-.8zM383.6,999.0h.8v.8h-.8zM381.0,1000.4h.8v.8h-.8zM375.9,1022.4h.8v.8h-.8zM404.5,988.1h.8v.8h-.8zM382.8,1006.7h.8v.8h-.8zM374.3,1015.6h.8v.8h-.8zM388.4,985.3h.8v.8h-.8zM380.3,1008.8h.8v.8h-.8zM380.7,1000.0h.8v.8h-.8zM382.6,1002.1h.8v.8h-.8zM390.7,985.2h.8v.8h-.8zM381.0,1007.2h.8v.8h-.8zM380.3,1011.7h.8v.8h-.8zM393.5,983.8h.8v.8h-.8zM389.2,994.4h.8v.8h-.8zM377.8,988.7h.8v.8h-.8zM403.0,986.2h.8v.8h-.8zM381.3,999.1h.8v.8h-.8zM381.1,1009.5h.8v.8h-.8zM377.1,985.9h.8v.8h-.8zM373.6,991.7h.8v.8h-.8zM356.0,1022.4h.8v.8h-.8zM389.4,983.0h.8v.8h-.8zM378.6,1015.1h.8v.8h-.8zM410.3,974.4h.8v.8h-.8zM385.1,987.3h.8v.8h-.8zM388.7,1008.4h.8v.8h-.8zM381.5,1007.3h.8v.8h-.8zM382.6,1001.4h.8v.8h-.8zM384.0,980.5h.8v.8h-.8zM401.1,975.0h.8v.8h-.8zM385.0,1010.3h.8v.8h-.8zM356.0,1022.4h.8v.8h-.8zM408.2,981.8h.8v.8h-.8zM398.6,952.0h.8v.8h-.8zM372.0,990.6h.8v.8h-.8zM380.1,991.9h.8v.8h-.8zM374.7,1013.9h.8v.8h-.8zM394.9,988.7h.8v.8h-.8zM384.7,993.6h.8v.8h-.8zM380.0,986.3h.8v.8h-.8zM387.4,986.3h.8v.8h-.8zM391.9,974.7h.8v.8h-.8zM375.3,1018.2h.8v.8h-.8zM386.9,994.6h.8v.8h-.8zM356.1,1018.3h.8v.8h-.8zM412.5,987.4h.8v.8h-.8zM388.2,988.6h.8v.8h-.8zM356.1,1019.7h.8v.8h-.8zM382.3,990.8h.8v.8h-.8zM384.3,987.3h.8v.8h-.8zM385.0,1003.6h.8v.8h-.8zM356.1,1020.0h.8v.8h-.8zM386.0,993.7h.8v.8h-.8zM373.9,1018.2h.8v.8h-.8zM383.2,1006.7h.8v.8h-.8zM398.7,978.6h.8v.8h-.8zM356.0,1020.3h.8v.8h-.8zM374.7,1019.0h.8v.8h-.8zM401.1,976.7h.8v.8h-.8zM356.1,1021.4h.8v.8h-.8zM371.3,992.8h.8v.8h-.8zM383.0,997.7h.8v.8h-.8zM380.8,1003.7h.8v.8h-.8zM384.7,1010.2h.8v.8h-.8zM377.6,986.9h.8v.8h-.8zM381.6,1000.9h.8v.8h-.8zM382.4,1012.9h.8v.8h-.8zM383.7,984.1h.8v.8h-.8zM380.0,1003.3h.8v.8h-.8zM380.9,986.4h.8v.8h-.8zM383.8,991.3h.8v.8h-.8zM382.4,1017.3h.8v.8h-.8zM381.9,1008.0h.8v.8h-.8zM384.5,991.9h.8v.8h-.8zM389.7,997.7h.8v.8h-.8zM389.9,999.5h.8v.8h-.8zM356.1,1022.1h.8v.8h-.8zM356.0,1022.4h.8v.8h-.8zM382.0,1006.1h.8v.8h-.8zM383.7,989.2h.8v.8h-.8zM374.1,1020.9h.8v.8h-.8zM428.0,978.2h.8v.8h-.8zM356.0,1020.8h.8v.8h-.8zM395.5,989.2h.8v.8h-.8zM374.9,1018.8h.8v.8h-.8zM382.2,1006.5h.8v.8h-.8zM382.5,1002.9h.8v.8h-.8zM356.0,1022.4h.8v.8h-.8zM382.7,1000.1h.8v.8h-.8zM356.1,1022.4h.8v.8h-.8zM385.9,1003.4h.8v.8h-.8zM378.2,1009.2h.8v.8h-.8zM387.1,998.4h.8v.8h-.8zM384.1,1022.4h.8v.8h-.8zM409.5,967.9h.8v.8h-.8zM395.8,985.6h.8v.8h-.8zM400.2,998.4h.8v.8h-.8zM384.9,1013.2h.8v.8h-.8zM385.5,988.5h.8v.8h-.8zM356.0,1022.0h.8v.8h-.8zM376.0,1015.7h.8v.8h-.8zM382.6,992.6h.8v.8h-.8zM381.5,1005.5h.8v.8h-.8zM432.6,950.9h.8v.8h-.8zM381.5,999.3h.8v.8h-.8zM386.4,1017.3h.8v.8h-.8zM356.1,1015.2h.8v.8h-.8zM383.5,987.9h.8v.8h-.8zM356.0,1018.3h.8v.8h-.8zM375.7,1010.9h.8v.8h-.8zM382.2,1000.8h.8v.8h-.8zM379.6,1006.1h.8v.8h-.8zM383.9,990.8h.8v.8h-.8zM356.0,1022.4h.8v.8h-.8zM382.4,1000.3h.8v.8h-.8zM389.4,992.8h.8v.8h-.8zM382.0,995.7h.8v.8h-.8zM387.0,1018.8h.8v.8h-.8zM377.3,1013.1h.8v.8h-.8zM389.6,999.4h.8v.8h-.8zM395.9,985.5h.8v.8h-.8zM383.6,1001.0h.8v.8h-.8zM384.1,994.5h.8v.8h-.8zM383.2,998.0h.8v.8h-.8zM400.0,990.6h.8v.8h-.8zM380.2,1015.8h.8v.8h-.8zM382.9,996.0h.8v.8h-.8zM383.9,1002.4h.8v.8h-.8zM388.5,978.3h.8v.8h-.8zM356.0,1022.4h.8v.8h-.8zM356.1,1018.4h.8v.8h-.8zM381.2,1011.5h.8v.8h-.8zM388.6,984.0h.8v.8h-.8zM393.9,972.9h.8v.8h-.8zM373.6,1019.0h.8v.8h-.8zM383.4,999.9h.8v.8h-.8zM376.8,1009.3h.8v.8h-.8zM380.6,998.2h.8v.8h-.8zM386.7,996.3h.8v.8h-.8zM392.7,992.2h.8v.8h-.8zM393.6,982.0h.8v.8h-.8zM377.4,1013.5h.8v.8h-.8zM373.1,1022.4h.8v.8h-.8zM385.0,993.6h.8v.8h-.8zM396.9,956.8h.8v.8h-.8zM401.9,987.0h.8v.8h-.8zM381.9,993.2h.8v.8h-.8zM396.6,985.6h.8v.8h-.8zM382.8,1002.1h.8v.8h-.8zM380.4,979.6h.8v.8h-.8zM386.6,991.9h.8v.8h-.8zM373.7,1018.3h.8v.8h-.8zM356.1,1022.4h.8v.8h-.8zM376.4,1009.2h.8v.8h-.8zM419.7,984.1h.8v.8h-.8zM380.8,1006.6h.8v.8h-.8zM356.1,1018.4h.8v.8h-.8zM378.5,1011.5h.8v.8h-.8zM387.6,993.2h.8v.8h-.8zM376.9,1008.9h.8v.8h-.8zM379.4,990.9h.8v.8h-.8zM378.4,990.5h.8v.8h-.8zM356.0,1018.1h.8v.8h-.8zM378.9,1004.1h.8v.8h-.8zM356.0,1022.4h.8v.8h-.8zM377.0,1008.4h.8v.8h-.8zM399.1,971.9h.8v.8h-.8zM356.1,1022.0h.8v.8h-.8zM388.7,987.5h.8v.8h-.8zM356.1,1022.4h.8v.8h-.8zM374.9,1017.9h.8v.8h-.8zM385.5,990.4h.8v.8h-.8zM383.6,1006.8h.8v.8h-.8zM391.0,982.4h.8v.8h-.8zM384.7,1000.4h.8v.8h-.8zM388.3,989.2h.8v.8h-.8zM387.3,989.8h.8v.8h-.8zM376.6,1013.7h.8v.8h-.8zM388.0,999.2h.8v.8h-.8zM397.3,988.8h.8v.8h-.8zM382.3,999.0h.8v.8h-.8zM437.0,950.0h.8v.8h-.8zM375.3,1013.6h.8v.8h-.8zM387.1,1001.1h.8v.8h-.8zM399.7,991.6h.8v.8h-.8zM393.5,991.3h.8v.8h-.8zM404.3,970.3h.8v.8h-.8zM356.1,1022.4h.8v.8h-.8zM403.0,999.8h.8v.8h-.8zM376.5,984.8h.8v.8h-.8zM381.0,1010.9h.8v.8h-.8zM377.3,983.0h.8v.8h-.8zM374.5,1017.4h.8v.8h-.8zM388.0,971.8h.8v.8h-.8zM380.4,1008.2h.8v.8h-.8zM382.4,1010.9h.8v.8h-.8zM375.8,1022.3h.8v.8h-.8zM383.6,994.3h.8v.8h-.8zM379.9,985.8h.8v.8h-.8zM374.6,1021.8h.8v.8h-.8zM375.5,1014.5h.8v.8h-.8zM391.8,987.7h.8v.8h-.8zM381.2,991.5h.8v.8h-.8zM404.5,969.2h.8v.8h-.8zM376.3,1013.1h.8v.8h-.8zM390.2,976.8h.8v.8h-.8zM380.1,979.1h.8v.8h-.8zM373.8,1019.5h.8v.8h-.8zM382.4,996.3h.8v.8h-.8zM392.7,1004.7h.8v.8h-.8zM356.1,1022.4h.8v.8h-.8zM377.0,1012.2h.8v.8h-.8zM372.3,991.7h.8v.8h-.8zM377.5,1009.5h.8v.8h-.8zM377.4,1009.1h.8v.8h-.8zM384.1,985.7h.8v.8h-.8zM386.0,1001.8h.8v.8h-.8zM383.2,992.6h.8v.8h-.8zM385.8,1004.9h.8v.8h-.8zM389.8,999.7h.8v.8h-.8zM369.6,990.2h.8v.8h-.8zM396.7,981.2h.8v.8h-.8zM380.9,1003.7h.8v.8h-.8zM385.2,991.1h.8v.8h-.8zM395.4,971.1h.8v.8h-.8zM423.3,957.8h.8v.8h-.8zM379.5,1002.4h.8v.8h-.8zM356.1,1022.4h.8v.8h-.8zM400.2,990.5h.8v.8h-.8zM356.0,1021.5h.8v.8h-.8zM383.3,1011.9h.8v.8h-.8zM382.2,999.8h.8v.8h-.8zM393.1,969.5h.8v.8h-.8zM378.3,1010.8h.8v.8h-.8zM388.8,984.5h.8v.8h-.8zM380.2,1011.2h.8v.8h-.8zM388.7,1005.4h.8v.8h-.8zM381.0,985.6h.8v.8h-.8zM377.6,1007.2h.8v.8h-.8zM369.4,992.7h.8v.8h-.8zM382.1,1000.4h.8v.8h-.8zM356.1,1021.4h.8v.8h-.8zM381.8,982.3h.8v.8h-.8zM400.6,950.3h.8v.8h-.8zM397.3,977.3h.8v.8h-.8zM374.0,1022.4h.8v.8h-.8zM378.4,985.7h.8v.8h-.8zM380.9,998.0h.8v.8h-.8zM389.2,986.8h.8v.8h-.8zM375.4,1015.9h.8v.8h-.8zM389.3,1005.1h.8v.8h-.8zM383.5,991.2h.8v.8h-.8zM377.8,1008.6h.8v.8h-.8zM387.2,977.5h.8v.8h-.8zM378.8,1003.5h.8v.8h-.8zM379.7,1013.5h.8v.8h-.8zM376.7,1009.6h.8v.8h-.8zM356.0,1022.4h.8v.8h-.8zM376.6,1017.3h.8v.8h-.8zM380.2,1011.4h.8v.8h-.8zM356.0,1019.5h.8v.8h-.8zM397.3,995.5h.8v.8h-.8zM405.8,983.9h.8v.8h-.8zM378.5,1007.4h.8v.8h-.8zM374.5,1022.4h.8v.8h-.8zM400.6,978.0h.8v.8h-.8zM375.0,1014.0h.8v.8h-.8zM384.4,977.4h.8v.8h-.8zM375.9,1018.7h.8v.8h-.8zM373.8,1020.6h.8v.8h-.8zM376.1,1011.3h.8v.8h-.8zM389.1,997.3h.8v.8h-.8zM384.3,1000.4h.8v.8h-.8zM388.2,996.5h.8v.8h-.8zM383.8,1001.9h.8v.8h-.8zM379.8,1016.3h.8v.8h-.8zM374.1,990.3h.8v.8h-.8zM385.3,1019.6h.8v.8h-.8zM385.0,998.3h.8v.8h-.8zM370.5,992.9h.8v.8h-.8zM389.0,980.9h.8v.8h-.8zM382.3,1016.1h.8v.8h-.8zM356.0,1022.4h.8v.8h-.8zM393.7,1004.4h.8v.8h-.8zM387.6,1003.9h.8v.8h-.8zM356.0,1022.4h.8v.8h-.8zM387.6,988.4h.8v.8h-.8zM377.5,1008.1h.8v.8h-.8zM356.0,1020.3h.8v.8h-.8zM392.4,989.7h.8v.8h-.8zM392.3,976.0h.8v.8h-.8zM384.0,1000.0h.8v.8h-.8zM379.5,1011.8h.8v.8h-.8zM379.1,990.6h.8v.8h-.8zM386.8,992.4h.8v.8h-.8zM382.5,1022.4h.8v.8h-.8zM387.2,1000.0h.8v.8h-.8zM385.2,1000.6h.8v.8h-.8zM379.9,1002.6h.8v.8h-.8zM382.3,995.4h.8v.8h-.8zM390.2,988.8h.8v.8h-.8zM387.8,1000.6h.8v.8h-.8zM379.7,1014.3h.8v.8h-.8zM385.8,997.7h.8v.8h-.8zM380.8,1003.6h.8v.8h-.8zM386.2,998.1h.8v.8h-.8zM378.6,1008.5h.8v.8h-.8zM373.7,990.3h.8v.8h-.8zM377.0,1010.1h.8v.8h-.8zM398.4,978.2h.8v.8h-.8zM356.0,1021.3h.8v.8h-.8zM356.1,1021.8h.8v.8h-.8zM397.7,1016.0h.8v.8h-.8zM385.2,976.9h.8v.8h-.8zM388.6,991.5h.8v.8h-.8zM382.2,994.2h.8v.8h-.8zM384.5,989.8h.8v.8h-.8zM384.9,996.4h.8v.8h-.8zM396.4,973.7h.8v.8h-.8zM388.4,992.7h.8v.8h-.8zM356.0,1022.4h.8v.8h-.8zM407.3,989.8h.8v.8h-.8zM382.4,1018.7h.8v.8h-.8zM382.4,1012.1h.8v.8h-.8zM381.2,1001.5h.8v.8h-.8zM379.0,985.5h.8v.8h-.8zM382.7,1010.9h.8v.8h-.8zM356.0,1022.4h.8v.8h-.8zM383.9,993.1h.8v.8h-.8zM389.0,995.9h.8v.8h-.8zM390.9,994.6h.8v.8h-.8zM380.3,1006.7h.8v.8h-.8zM385.9,1002.1h.8v.8h-.8zM394.8,997.8h.8v.8h-.8zM381.7,992.9h.8v.8h-.8zM387.1,990.0h.8v.8h-.8zM393.2,987.2h.8v.8h-.8zM376.2,1014.6h.8v.8h-.8zM385.9,993.9h.8v.8h-.8zM389.4,1010.5h.8v.8h-.8zM398.0,987.4h.8v.8h-.8zM382.4,998.3h.8v.8h-.8zM396.5,964.9h.8v.8h-.8zM385.4,1003.4h.8v.8h-.8zM381.8,1011.6h.8v.8h-.8zM380.3,1003.7h.8v.8h-.8zM356.1,1018.5h.8v.8h-.8zM390.8,975.2h.8v.8h-.8zM356.1,1022.4h.8v.8h-.8zM394.3,985.8h.8v.8h-.8zM356.0,1022.4h.8v.8h-.8zM383.8,1002.3h.8v.8h-.8zM383.8,1002.5h.8v.8h-.8zM398.8,989.0h.8v.8h-.8zM368.9,993.8h.8v.8h-.8zM392.1,992.2h.8v.8h-.8zM382.3,1011.1h.8v.8h-.8zM376.3,987.4h.8v.8h-.8zM393.5,969.7h.8v.8h-.8zM384.1,987.1h.8v.8h-.8zM377.7,1007.3h.8v.8h-.8zM380.5,985.3h.8v.8h-.8zM356.1,1019.0h.8v.8h-.8zM379.1,987.2h.8v.8h-.8zM382.4,1001.2h.8v.8h-.8zM390.5,982.8h.8v.8h-.8zM385.6,985.7h.8v.8h-.8zM389.0,994.2h.8v.8h-.8zM381.2,1000.5h.8v.8h-.8zM385.7,1007.9h.8v.8h-.8zM387.0,984.0h.8v.8h-.8zM384.9,990.8h.8v.8h-.8zM382.9,1007.9h.8v.8h-.8zM386.1,989.1h.8v.8h-.8zM407.0,976.3h.8v.8h-.8zM392.8,1000.8h.8v.8h-.8zM382.7,1006.7h.8v.8h-.8zM380.6,1002.7h.8v.8h-.8zM356.1,1021.2h.8v.8h-.8zM378.7,1009.3h.8v.8h-.8zM397.6,983.5h.8v.8h-.8zM378.4,1006.1h.8v.8h-.8zM401.1,976.4h.8v.8h-.8zM375.7,1014.4h.8v.8h-.8zM385.0,987.5h.8v.8h-.8zM379.0,985.4h.8v.8h-.8zM380.6,989.8h.8v.8h-.8zM381.9,996.4h.8v.8h-.8zM385.7,1002.8h.8v.8h-.8zM382.7,1004.4h.8v.8h-.8zM386.8,992.4h.8v.8h-.8zM356.1,1022.4h.8v.8h-.8zM397.9,1009.3h.8v.8h-.8zM383.2,992.7h.8v.8h-.8zM397.2,986.1h.8v.8h-.8zM402.5,984.5h.8v.8h-.8zM375.2,991.6h.8v.8h-.8zM383.8,991.6h.8v.8h-.8zM381.8,1014.3h.8v.8h-.8zM384.3,1000.2h.8v.8h-.8zM377.5,1009.8h.8v.8h-.8zM377.8,989.9h.8v.8h-.8zM386.2,1003.2h.8v.8h-.8zM382.8,1010.8h.8v.8h-.8zM377.5,982.5h.8v.8h-.8zM356.0,1016.2h.8v.8h-.8zM383.7,1022.4h.8v.8h-.8zM380.5,1010.4h.8v.8h-.8zM356.0,1022.4h.8v.8h-.8zM356.0,1022.4h.8v.8h-.8zM373.7,1019.3h.8v.8h-.8zM390.5,971.1h.8v.8h-.8zM390.6,998.3h.8v.8h-.8zM376.6,1016.7h.8v.8h-.8zM409.9,958.6h.8v.8h-.8zM378.8,990.8h.8v.8h-.8zM380.7,986.5h.8v.8h-.8zM391.9,993.6h.8v.8h-.8zM356.0,1022.4h.8v.8h-.8zM383.2,1000.0h.8v.8h-.8zM381.1,1011.6h.8v.8h-.8zM374.8,991.2h.8v.8h-.8zM390.5,991.6h.8v.8h-.8zM379.2,1010.9h.8v.8h-.8zM382.0,997.2h.8v.8h-.8zM375.6,989.9h.8v.8h-.8zM384.8,981.6h.8v.8h-.8zM379.5,1006.8h.8v.8h-.8zM381.9,1002.9h.8v.8h-.8zM381.7,996.5h.8v.8h-.8zM356.1,1019.8h.8v.8h-.8zM381.4,1009.6h.8v.8h-.8zM383.3,998.3h.8v.8h-.8zM381.2,1015.4h.8v.8h-.8zM356.1,1022.4h.8v.8h-.8zM384.2,995.3h.8v.8h-.8zM380.8,1000.9h.8v.8h-.8zM382.6,1004.6h.8v.8h-.8zM393.3,992.6h.8v.8h-.8zM385.0,985.1h.8v.8h-.8zM380.8,984.0h.8v.8h-.8zM391.0,991.6h.8v.8h-.8zM383.0,1007.7h.8v.8h-.8zM405.3,991.7h.8v.8h-.8zM382.5,1008.0h.8v.8h-.8zM387.4,1004.7h.8v.8h-.8zM381.2,992.4h.8v.8h-.8zM383.8,994.0h.8v.8h-.8zM397.8,1002.7h.8v.8h-.8zM356.0,1022.4h.8v.8h-.8zM377.2,1010.7h.8v.8h-.8zM387.8,1005.5h.8v.8h-.8zM388.4,1000.4h.8v.8h-.8zM401.5,999.4h.8v.8h-.8zM385.6,991.2h.8v.8h-.8zM386.5,994.6h.8v.8h-.8zM380.7,999.8h.8v.8h-.8zM388.2,977.9h.8v.8h-.8zM374.2,1020.7h.8v.8h-.8zM356.1,1022.4h.8v.8h-.8zM380.7,1006.2h.8v.8h-.8zM356.1,1014.8h.8v.8h-.8zM390.1,986.0h.8v.8h-.8zM379.1,1010.4h.8v.8h-.8zM378.6,1006.6h.8v.8h-.8zM381.4,1000.9h.8v.8h-.8zM356.0,1022.4h.8v.8h-.8zM386.8,982.7h.8v.8h-.8zM387.7,970.8h.8v.8h-.8zM383.3,1000.3h.8v.8h-.8zM381.0,991.2h.8v.8h-.8zM386.6,995.6h.8v.8h-.8zM388.5,997.8h.8v.8h-.8zM356.1,1018.1h.8v.8h-.8zM380.9,1019.2h.8v.8h-.8zM375.8,1017.5h.8v.8h-.8zM380.2,991.9h.8v.8h-.8zM382.8,1004.3h.8v.8h-.8zM383.2,1015.0h.8v.8h-.8zM401.1,964.9h.8v.8h-.8zM398.5,965.4h.8v.8h-.8zM411.9,972.6h.8v.8h-.8zM373.7,988.7h.8v.8h-.8zM376.8,1010.0h.8v.8h-.8zM383.6,1002.2h.8v.8h-.8zM377.6,1012.7h.8v.8h-.8zM385.1,996.6h.8v.8h-.8zM404.7,992.7h.8v.8h-.8zM381.1,991.6h.8v.8h-.8zM383.6,1003.4h.8v.8h-.8zM356.1,1020.0h.8v.8h-.8zM385.5,1008.2h.8v.8h-.8zM384.1,977.1h.8v.8h-.8zM383.5,1002.7h.8v.8h-.8zM389.0,983.9h.8v.8h-.8zM356.1,1022.4h.8v.8h-.8zM379.0,1004.1h.8v.8h-.8zM385.8,1003.9h.8v.8h-.8zM386.5,1001.2h.8v.8h-.8zM386.0,998.7h.8v.8h-.8zM390.7,991.6h.8v.8h-.8zM382.3,993.3h.8v.8h-.8zM409.4,950.1h.8v.8h-.8zM381.5,1001.7h.8v.8h-.8zM373.5,990.0h.8v.8h-.8zM396.9,975.4h.8v.8h-.8zM383.9,1003.9h.8v.8h-.8zM381.1,1010.9h.8v.8h-.8zM356.1,1022.4h.8v.8h-.8zM382.1,1013.5h.8v.8h-.8zM383.3,993.7h.8v.8h-.8zM373.7,989.0h.8v.8h-.8zM393.2,985.9h.8v.8h-.8zM393.2,983.2h.8v.8h-.8zM389.2,1007.1h.8v.8h-.8zM356.1,1020.7h.8v.8h-.8zM383.1,1010.7h.8v.8h-.8zM377.8,1007.5h.8v.8h-.8zM411.6,965.0h.8v.8h-.8zM380.2,1001.6h.8v.8h-.8zM376.8,1007.9h.8v.8h-.8zM383.9,991.4h.8v.8h-.8zM380.7,988.0h.8v.8h-.8zM378.8,990.5h.8v.8h-.8zM377.4,1010.7h.8v.8h-.8zM377.7,1006.7h.8v.8h-.8zM356.0,1018.5h.8v.8h-.8zM382.6,981.5h.8v.8h-.8zM390.7,998.2h.8v.8h-.8zM383.3,991.6h.8v.8h-.8zM376.2,1010.3h.8v.8h-.8zM379.0,1003.1h.8v.8h-.8zM387.8,973.2h.8v.8h-.8zM390.9,986.9h.8v.8h-.8zM356.0,1022.4h.8v.8h-.8zM381.3,1003.8h.8v.8h-.8zM356.0,1022.4h.8v.8h-.8zM383.4,990.5h.8v.8h-.8zM378.8,1006.3h.8v.8h-.8zM385.6,985.7h.8v.8h-.8zM382.4,1009.3h.8v.8h-.8zM391.5,964.9h.8v.8h-.8zM380.7,1005.3h.8v.8h-.8zM378.2,1013.6h.8v.8h-.8zM385.5,991.2h.8v.8h-.8zM423.6,962.2h.8v.8h-.8zM383.9,998.5h.8v.8h-.8zM379.1,1008.7h.8v.8h-.8zM383.6,1005.3h.8v.8h-.8zM380.1,1008.3h.8v.8h-.8zM385.2,997.2h.8v.8h-.8zM389.0,1003.1h.8v.8h-.8zM384.4,997.7h.8v.8h-.8zM389.4,993.9h.8v.8h-.8zM383.1,1015.3h.8v.8h-.8zM377.7,1005.7h.8v.8h-.8zM414.2,937.2h.8v.8h-.8zM377.3,1010.2h.8v.8h-.8zM356.0,1022.4h.8v.8h-.8zM356.0,1022.4h.8v.8h-.8zM379.3,1003.4h.8v.8h-.8zM379.8,1012.6h.8v.8h-.8zM367.2,995.2h.8v.8h-.8zM356.0,1020.6h.8v.8h-.8zM381.4,1005.0h.8v.8h-.8zM376.5,1017.0h.8v.8h-.8zM387.8,980.0h.8v.8h-.8zM398.4,978.5h.8v.8h-.8zM378.5,1012.3h.8v.8h-.8zM383.4,993.0h.8v.8h-.8zM391.2,1003.7h.8v.8h-.8zM378.1,1014.4h.8v.8h-.8zM385.6,1005.1h.8v.8h-.8zM388.7,994.3h.8v.8h-.8zM373.6,1022.4h.8v.8h-.8zM379.8,1004.5h.8v.8h-.8zM424.5,942.5h.8v.8h-.8zM356.1,1022.4h.8v.8h-.8zM380.2,989.3h.8v.8h-.8zM421.8,959.3h.8v.8h-.8zM376.2,1009.3h.8v.8h-.8zM387.0,990.9h.8v.8h-.8zM399.9,969.0h.8v.8h-.8zM387.7,1005.5h.8v.8h-.8zM356.1,1021.7h.8v.8h-.8zM356.0,1022.4h.8v.8h-.8zM373.8,1017.7h.8v.8h-.8zM378.8,1006.5h.8v.8h-.8zM392.7,983.7h.8v.8h-.8zM387.7,991.8h.8v.8h-.8zM381.8,979.5h.8v.8h-.8zM389.5,1013.8h.8v.8h-.8zM382.2,999.3h.8v.8h-.8zM381.7,998.7h.8v.8h-.8zM377.7,1006.4h.8v.8h-.8zM356.1,1016.8h.8v.8h-.8zM417.8,940.2h.8v.8h-.8zM384.7,1005.6h.8v.8h-.8zM383.2,998.4h.8v.8h-.8zM381.4,986.1h.8v.8h-.8zM414.5,954.1h.8v.8h-.8zM380.9,992.5h.8v.8h-.8zM428.4,970.0h.8v.8h-.8zM394.2,995.0h.8v.8h-.8zM356.0,1019.5h.8v.8h-.8zM386.4,988.0h.8v.8h-.8zM372.1,992.5h.8v.8h-.8zM380.5,1005.5h.8v.8h-.8zM356.0,1022.4h.8v.8h-.8zM383.8,1018.7h.8v.8h-.8zM374.8,988.1h.8v.8h-.8zM379.1,990.8h.8v.8h-.8zM389.5,1007.5h.8v.8h-.8zM394.1,1006.8h.8v.8h-.8zM386.1,995.4h.8v.8h-.8zM391.8,1002.0h.8v.8h-.8zM433.4,930.8h.8v.8h-.8zM380.8,978.9h.8v.8h-.8zM379.1,1014.3h.8v.8h-.8zM417.0,958.2h.8v.8h-.8zM375.9,1015.6h.8v.8h-.8zM399.1,971.3h.8v.8h-.8zM379.9,989.5h.8v.8h-.8zM383.7,993.9h.8v.8h-.8zM356.1,1022.4h.8v.8h-.8zM378.3,1009.3h.8v.8h-.8zM386.7,989.1h.8v.8h-.8zM378.9,1009.3h.8v.8h-.8zM379.5,1005.9h.8v.8h-.8zM356.0,1021.2h.8v.8h-.8zM388.3,985.8h.8v.8h-.8zM407.1,990.4h.8v.8h-.8zM386.7,1007.2h.8v.8h-.8zM356.0,1022.4h.8v.8h-.8zM379.8,1012.5h.8v.8h-.8zM375.4,1013.0h.8v.8h-.8zM382.0,1002.3h.8v.8h-.8zM384.4,1007.2h.8v.8h-.8zM386.2,1002.6h.8v.8h-.8zM381.9,998.5h.8v.8h-.8zM420.6,979.2h.8v.8h-.8zM383.0,1007.0h.8v.8h-.8zM381.9,988.9h.8v.8h-.8zM379.3,986.3h.8v.8h-.8zM356.1,1022.4h.8v.8h-.8zM383.4,997.7h.8v.8h-.8zM356.0,1022.4h.8v.8h-.8zM384.2,999.8h.8v.8h-.8zM408.1,975.3h.8v.8h-.8zM403.9,1000.5h.8v.8h-.8zM382.3,1012.3h.8v.8h-.8zM388.2,995.0h.8v.8h-.8zM383.2,997.4h.8v.8h-.8zM377.5,1014.8h.8v.8h-.8zM376.5,1022.4h.8v.8h-.8zM380.0,1005.1h.8v.8h-.8zM380.1,990.0h.8v.8h-.8zM390.8,997.5h.8v.8h-.8zM391.5,1006.2h.8v.8h-.8zM376.3,1012.7h.8v.8h-.8zM382.0,1006.3h.8v.8h-.8zM379.7,970.0h.8v.8h-.8zM374.5,1020.0h.8v.8h-.8zM378.8,989.2h.8v.8h-.8zM356.0,1022.4h.8v.8h-.8zM381.7,998.7h.8v.8h-.8zM379.7,1004.5h.8v.8h-.8zM389.2,989.5h.8v.8h-.8zM383.5,1009.3h.8v.8h-.8zM385.4,978.0h.8v.8h-.8zM390.5,987.9h.8v.8h-.8zM388.5,1019.8h.8v.8h-.8zM397.7,984.2h.8v.8h-.8zM392.8,988.3h.8v.8h-.8zM407.6,960.2h.8v.8h-.8zM378.5,1004.3h.8v.8h-.8zM376.3,1017.9h.8v.8h-.8zM380.7,1005.5h.8v.8h-.8zM356.1,1021.7h.8v.8h-.8zM377.8,1009.7h.8v.8h-.8zM356.1,1017.7h.8v.8h-.8zM376.4,1012.8h.8v.8h-.8zM380.4,1000.0h.8v.8h-.8zM375.0,1014.9h.8v.8h-.8zM356.0,1022.4h.8v.8h-.8zM379.7,1008.1h.8v.8h-.8zM386.2,985.6h.8v.8h-.8zM356.0,1022.4h.8v.8h-.8zM390.1,981.9h.8v.8h-.8zM356.1,1022.4h.8v.8h-.8zM401.4,998.9h.8v.8h-.8zM376.2,989.1h.8v.8h-.8zM388.0,991.8h.8v.8h-.8zM392.7,978.8h.8v.8h-.8zM356.0,1020.0h.8v.8h-.8zM382.3,1011.4h.8v.8h-.8zM386.0,1002.2h.8v.8h-.8zM384.8,1002.5h.8v.8h-.8zM381.1,999.8h.8v.8h-.8zM356.0,1020.7h.8v.8h-.8zM356.0,1020.3h.8v.8h-.8zM380.5,1000.4h.8v.8h-.8zM387.2,997.0h.8v.8h-.8zM392.2,970.1h.8v.8h-.8zM356.1,1019.4h.8v.8h-.8zM374.4,1016.0h.8v.8h-.8zM385.3,1001.7h.8v.8h-.8zM398.5,1000.3h.8v.8h-.8zM384.8,985.6h.8v.8h-.8zM390.3,1003.9h.8v.8h-.8zM381.1,1005.7h.8v.8h-.8zM381.7,1002.9h.8v.8h-.8zM399.0,984.4h.8v.8h-.8zM356.1,1022.4h.8v.8h-.8zM405.6,990.6h.8v.8h-.8zM381.4,1000.0h.8v.8h-.8zM410.8,988.3h.8v.8h-.8zM379.4,1010.6h.8v.8h-.8zM410.7,982.6h.8v.8h-.8zM399.9,966.2h.8v.8h-.8zM382.6,1001.9h.8v.8h-.8zM378.8,988.2h.8v.8h-.8zM384.1,978.8h.8v.8h-.8zM388.1,992.8h.8v.8h-.8zM379.4,990.7h.8v.8h-.8zM377.0,1012.8h.8v.8h-.8zM382.5,1003.1h.8v.8h-.8zM381.8,988.8h.8v.8h-.8zM375.3,1012.5h.8v.8h-.8zM356.0,1017.7h.8v.8h-.8zM381.8,992.8h.8v.8h-.8zM377.6,1007.0h.8v.8h-.8zM379.9,1002.3h.8v.8h-.8zM387.4,1001.9h.8v.8h-.8zM384.2,986.1h.8v.8h-.8zM383.4,996.8h.8v.8h-.8zM386.4,1004.9h.8v.8h-.8zM356.1,1022.4h.8v.8h-.8zM380.2,1000.9h.8v.8h-.8zM383.4,987.8h.8v.8h-.8zM376.7,1009.0h.8v.8h-.8zM380.6,987.7h.8v.8h-.8zM380.7,1001.4h.8v.8h-.8zM381.0,986.8h.8v.8h-.8zM380.7,1013.2h.8v.8h-.8zM381.6,988.7h.8v.8h-.8zM380.9,1001.3h.8v.8h-.8zM389.8,990.0h.8v.8h-.8zM378.4,990.8h.8v.8h-.8zM395.2,970.6h.8v.8h-.8zM356.1,1022.4h.8v.8h-.8zM387.8,981.5h.8v.8h-.8zM379.8,1009.3h.8v.8h-.8zM377.1,988.2h.8v.8h-.8zM394.9,975.7h.8v.8h-.8zM385.3,1000.2h.8v.8h-.8zM377.5,985.1h.8v.8h-.8zM394.6,1002.9h.8v.8h-.8zM356.1,1022.3h.8v.8h-.8zM386.8,1001.0h.8v.8h-.8zM390.1,1010.6h.8v.8h-.8zM381.8,993.8h.8v.8h-.8zM390.4,991.4h.8v.8h-.8zM385.7,1001.3h.8v.8h-.8zM384.1,985.7h.8v.8h-.8zM380.7,987.0h.8v.8h-.8zM378.3,1008.2h.8v.8h-.8zM387.4,992.5h.8v.8h-.8zM384.0,994.5h.8v.8h-.8zM356.1,1021.5h.8v.8h-.8zM401.7,1000.2h.8v.8h-.8zM380.8,984.9h.8v.8h-.8zM394.7,973.0h.8v.8h-.8zM388.8,982.7h.8v.8h-.8zM383.5,995.4h.8v.8h-.8zM413.3,953.3h.8v.8h-.8zM396.2,987.7h.8v.8h-.8zM378.4,1015.0h.8v.8h-.8zM379.9,1003.8h.8v.8h-.8zM378.2,1007.8h.8v.8h-.8zM373.3,1020.6h.8v.8h-.8zM377.2,987.8h.8v.8h-.8zM386.2,994.2h.8v.8h-.8zM375.1,990.1h.8v.8h-.8zM386.6,989.8h.8v.8h-.8zM383.4,996.2h.8v.8h-.8zM376.4,990.7h.8v.8h-.8zM405.5,972.3h.8v.8h-.8zM374.2,988.9h.8v.8h-.8zM398.5,969.3h.8v.8h-.8zM398.3,970.1h.8v.8h-.8zM375.2,1021.3h.8v.8h-.8zM381.2,1003.2h.8v.8h-.8zM375.8,1015.5h.8v.8h-.8zM381.7,1016.3h.8v.8h-.8zM390.6,975.5h.8v.8h-.8zM409.4,971.4h.8v.8h-.8zM389.1,980.5h.8v.8h-.8zM383.2,986.6h.8v.8h-.8zM386.8,999.2h.8v.8h-.8zM356.0,1021.4h.8v.8h-.8zM383.6,996.7h.8v.8h-.8zM377.1,1008.4h.8v.8h-.8zM385.9,980.0h.8v.8h-.8zM356.1,1022.4h.8v.8h-.8zM376.5,1013.0h.8v.8h-.8zM381.7,998.9h.8v.8h-.8zM391.0,981.6h.8v.8h-.8zM378.5,990.8h.8v.8h-.8zM383.1,990.1h.8v.8h-.8zM391.8,1012.4h.8v.8h-.8zM376.8,1009.0h.8v.8h-.8zM404.9,982.7h.8v.8h-.8zM356.1,1022.4h.8v.8h-.8zM393.8,988.5h.8v.8h-.8zM385.4,1000.0h.8v.8h-.8zM383.4,1005.0h.8v.8h-.8zM412.6,973.8h.8v.8h-.8zM373.5,991.7h.8v.8h-.8zM375.9,989.9h.8v.8h-.8zM377.1,987.1h.8v.8h-.8zM385.0,1015.6h.8v.8h-.8zM356.0,1022.0h.8v.8h-.8zM389.3,994.5h.8v.8h-.8zM376.5,1012.8h.8v.8h-.8zM382.5,1000.3h.8v.8h-.8zM403.7,998.4h.8v.8h-.8zM381.1,995.8h.8v.8h-.8zM376.2,1015.5h.8v.8h-.8zM383.9,996.9h.8v.8h-.8zM392.4,996.4h.8v.8h-.8zM382.9,997.9h.8v.8h-.8zM378.7,1006.4h.8v.8h-.8zM380.9,1001.9h.8v.8h-.8zM396.7,1000.7h.8v.8h-.8zM383.6,999.0h.8v.8h-.8zM356.1,1021.5h.8v.8h-.8zM377.4,1006.5h.8v.8h-.8zM356.0,1021.7h.8v.8h-.8zM386.9,999.9h.8v.8h-.8zM390.8,986.5h.8v.8h-.8zM380.4,1004.1h.8v.8h-.8zM356.0,1017.2h.8v.8h-.8zM383.0,1011.0h.8v.8h-.8zM385.1,987.1h.8v.8h-.8zM445.1,945.3h.8v.8h-.8zM379.2,1010.5h.8v.8h-.8zM375.0,1014.8h.8v.8h-.8zM388.7,991.7h.8v.8h-.8zM391.3,988.9h.8v.8h-.8zM380.0,1004.2h.8v.8h-.8zM380.2,991.3h.8v.8h-.8zM384.4,1011.4h.8v.8h-.8zM383.1,994.4h.8v.8h-.8zM383.9,997.4h.8v.8h-.8zM394.3,986.8h.8v.8h-.8zM399.4,1008.1h.8v.8h-.8zM378.9,1018.8h.8v.8h-.8zM392.1,975.3h.8v.8h-.8zM375.5,1014.4h.8v.8h-.8zM372.6,990.8h.8v.8h-.8zM381.9,994.7h.8v.8h-.8zM378.6,1007.9h.8v.8h-.8zM381.8,1001.8h.8v.8h-.8zM396.7,975.9h.8v.8h-.8zM375.6,1014.7h.8v.8h-.8zM382.5,987.2h.8v.8h-.8zM376.3,1018.5h.8v.8h-.8zM392.6,986.0h.8v.8h-.8zM382.2,990.6h.8v.8h-.8zM380.4,1001.0h.8v.8h-.8zM385.6,981.1h.8v.8h-.8zM379.0,1007.7h.8v.8h-.8zM381.6,999.6h.8v.8h-.8zM381.5,997.3h.8v.8h-.8zM377.6,1008.5h.8v.8h-.8zM386.2,996.1h.8v.8h-.8zM377.5,1015.5h.8v.8h-.8zM392.9,983.4h.8v.8h-.8zM356.1,1020.3h.8v.8h-.8zM383.2,1004.1h.8v.8h-.8zM395.7,991.7h.8v.8h-.8zM377.5,1012.1h.8v.8h-.8zM384.6,997.9h.8v.8h-.8zM391.0,974.2h.8v.8h-.8zM390.4,992.6h.8v.8h-.8zM379.9,1004.8h.8v.8h-.8zM376.8,986.9h.8v.8h-.8zM376.3,1011.7h.8v.8h-.8zM370.4,987.8h.8v.8h-.8zM385.3,1000.6h.8v.8h-.8zM396.5,974.7h.8v.8h-.8zM376.4,1016.3h.8v.8h-.8zM381.3,1015.1h.8v.8h-.8zM387.7,985.2h.8v.8h-.8zM383.7,1000.5h.8v.8h-.8zM381.9,1003.2h.8v.8h-.8zM381.4,987.8h.8v.8h-.8zM430.9,885.8h.8v.8h-.8zM438.9,899.6h.8v.8h-.8zM448.1,914.8h.8v.8h-.8zM420.5,939.6h.8v.8h-.8zM428.1,958.9h.8v.8h-.8zM448.1,950.6h.8v.8h-.8zM457.3,967.2h.8v.8h-.8zM521.8,853.5h.8v.8h-.8zM411.3,931.3h.8v.8h-.8zM405.1,947.9h.8v.8h-.8zM432.8,923.0h.8v.8h-.8zM415.9,953.4h.8v.8h-.8zM405.1,964.4h.8v.8h-.8zM454.2,1005.8h.8v.8h-.8zM417.4,987.9h.8v.8h-.8zM435.8,939.6h.8v.8h-.8z" fill="#1a1a1a" fill-opacity="0.85"/>
<line x1="356.00" y1="1023.78" x2="524.85" y2="867.84" stroke="#3a63b5" stroke-width="2.0" />
<text x="561.80" y="842.70" font-size="15" font-weight="bold" fill="#000" stroke="#000" stroke-width="0.7">h</text>
<line x1="583.90" y1="842.10" x2="583.90" y2="1032.70" stroke="#b8c5d3" stroke-width="0.9" />
<line x1="599.78" y1="842.10" x2="599.78" y2="1032.70" stroke="#b8c5d3" stroke-width="0.9" />
<line x1="615.66" y1="842.10" x2="615.66" y2="1032.70" stroke="#b8c5d3" stroke-width="0.9" />
<line x1="631.54" y1="842.10" x2="631.54" y2="1032.70" stroke="#b8c5d3" stroke-width="0.9" />
<line x1="647.42" y1="842.10" x2="647.42" y2="1032.70" stroke="#b8c5d3" stroke-width="0.9" />
<line x1="663.30" y1="842.10" x2="663.30" y2="1032.70" stroke="#b8c5d3" stroke-width="0.9" />
<line x1="679.18" y1="842.10" x2="679.18" y2="1032.70" stroke="#b8c5d3" stroke-width="0.9" />
<line x1="695.06" y1="842.10" x2="695.06" y2="1032.70" stroke="#b8c5d3" stroke-width="0.9" />
<line x1="710.94" y1="842.10" x2="710.94" y2="1032.70" stroke="#b8c5d3" stroke-width="0.9" />
<line x1="726.82" y1="842.10" x2="726.82" y2="1032.70" stroke="#b8c5d3" stroke-width="0.9" />
<line x1="742.70" y1="842.10" x2="742.70" y2="1032.70" stroke="#b8c5d3" stroke-width="0.9" />
<rect x="576.00" y="842.10" width="174.60" height="190.60" fill="none" stroke="#777" stroke-width="0.9" />
<rect x="583.90" y="851.40" width="158.80" height="9.40" fill="#1b55a0" />
<text x="584.50" y="859.30" font-size="8.6" fill="#ffffff" >Dogma-full</text>
<rect x="583.90" y="874.60" width="147.05" height="9.40" fill="#1b55a0" />
<text x="584.50" y="882.50" font-size="8.6" fill="#ffffff" >Dogma-paired+full</text>
<rect x="583.90" y="897.80" width="147.68" height="9.40" fill="#1b55a0" />
<text x="584.50" y="905.70" font-size="8.6" fill="#ffffff" >Dogma-paired-abc</text>
<rect x="583.90" y="921.00" width="140.54" height="9.40" fill="#1b55a0" />
<text x="584.50" y="928.90" font-size="8.6" fill="#ffffff" >Dogma-paired-ab</text>
<rect x="583.90" y="944.20" width="144.83" height="9.40" fill="#1b55a0" />
<text x="584.50" y="952.10" font-size="8.6" fill="#ffffff" >Dogma-paired-ac</text>
<rect x="583.90" y="967.40" width="149.91" height="9.40" fill="#1b55a0" />
<text x="584.50" y="975.30" font-size="8.6" fill="#ffffff" >Dogma-paired-bc</text>
<rect x="583.90" y="990.60" width="142.44" height="9.40" fill="#1b55a0" />
<text x="584.50" y="998.50" font-size="8.6" fill="#ffffff" >Dogma-diagonal+full</text>
<rect x="583.90" y="1013.80" width="88.29" height="9.40" fill="#1b55a0" />
<text x="584.50" y="1021.70" font-size="8.6" fill="#ffffff" >Dogma-diagonal</text>
<text x="588.20" y="1041.30" font-size="9.4" text-anchor="end" transform="rotate(-45 588.20 1041.30)" >0</text>
<text x="604.08" y="1041.30" font-size="9.4" text-anchor="end" transform="rotate(-45 604.08 1041.30)" >0.1</text>
<text x="619.96" y="1041.30" font-size="9.4" text-anchor="end" transform="rotate(-45 619.96 1041.30)" >0.2</text>
<text x="635.84" y="1041.30" font-size="9.4" text-anchor="end" transform="rotate(-45 635.84 1041.30)" >0.3</text>
<text x="651.72" y="1041.30" font-size="9.4" text-anchor="end" transform="rotate(-45 651.72 1041.30)" >0.4</text>
<text x="667.60" y="1041.30" font-size="9.4" text-anchor="end" transform="rotate(-45 667.60 1041.30)" >0.5</text>
<text x="683.48" y="1041.30" font-size="9.4" text-anchor="end" transform="rotate(-45 683.48 1041.30)" >0.6</text>
<text x="699.36" y="1041.30" font-size="9.4" text-anchor="end" transform="rotate(-45 699.36 1041.30)" >0.7</text>
<text x="715.24" y="1041.30" font-size="9.4" text-anchor="end" transform="rotate(-45 715.24 1041.30)" >0.8</text>
<text x="731.12" y="1041.30" font-size="9.4" text-anchor="end" transform="rotate(-45 731.12 1041.30)" >0.9</text>
<text x="747.00" y="1041.30" font-size="9.4" text-anchor="end" transform="rotate(-45 747.00 1041.30)" >1.0</text>
<text x="664.00" y="1062.00" font-size="11.2" text-anchor="middle" >Micro F1 score</text>
<text x="571.50" y="935.00" font-size="11.2" text-anchor="middle" transform="rotate(-90 571.50 935.00)" >Task</text>
</svg>
</body></html>
